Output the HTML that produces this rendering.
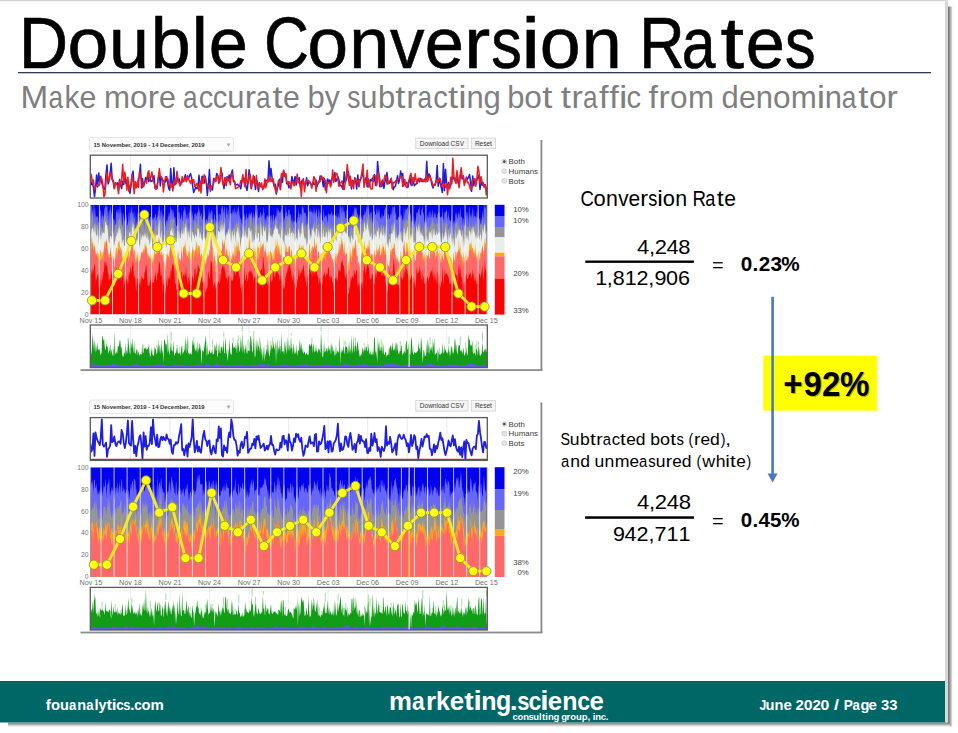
<!DOCTYPE html>
<html><head><meta charset="utf-8"><style>
html,body{margin:0;padding:0;background:#fff;}
body{width:958px;height:733px;overflow:hidden;position:relative;}
svg text{font-family:"Liberation Sans", sans-serif;}
</style></head><body>
<svg width="958" height="733" viewBox="0 0 958 733" style="position:absolute;left:0;top:0">
<defs>
<linearGradient id="shR" x1="0" x2="1" y1="0" y2="0"><stop offset="0" stop-color="#6e6e6e"/><stop offset="0.5" stop-color="#a8a8a8"/><stop offset="1" stop-color="#fff"/></linearGradient>
<linearGradient id="shB" x1="0" x2="0" y1="0" y2="1"><stop offset="0" stop-color="#777"/><stop offset="1" stop-color="#fff"/></linearGradient>
</defs>
<rect x="0" y="0" width="958" height="733" fill="#fff"/>
<rect x="0" y="0" width="946" height="1.2" fill="#d2d2d2"/>
<rect x="0" y="3.5" width="945" height="0.8" fill="#f6f6f6"/>
<rect x="945" y="0" width="3" height="724" fill="#d9d9d9"/>
<rect x="948" y="6.5" width="4.8" height="720" fill="url(#shR)"/>
<rect x="8" y="722.6" width="942" height="4.4" fill="url(#shB)"/>

<g font-size="71.50" fill="#000" stroke="#000" stroke-width="0.6"><text x="19.61" y="67.80" transform="scale(0.9563,1)">D</text><text x="65.73" y="67.80" transform="scale(1.0274,1)">o</text><text x="108.36" y="67.80" transform="scale(1.0052,1)">u</text><text x="150.09" y="67.80" transform="scale(1.0047,1)">b</text><text x="184.26" y="67.80" transform="scale(1.0394,1)">l</text><text x="211.95" y="67.80" transform="scale(0.9848,1)">e</text><text x="303.01" y="67.80" transform="scale(0.8709,1)">C</text><text x="299.11" y="67.80" transform="scale(1.0274,1)">o</text><text x="347.36" y="67.80" transform="scale(1.0052,1)">n</text><text x="404.43" y="67.80" transform="scale(0.9641,1)">v</text><text x="431.33" y="67.80" transform="scale(0.9848,1)">e</text><text x="421.80" y="67.80" transform="scale(1.1002,1)">r</text><text x="573.76" y="67.80" transform="scale(0.8563,1)">s</text><text x="439.81" y="67.80" transform="scale(1.1849,1)">i</text><text x="525.39" y="67.80" transform="scale(1.0274,1)">o</text><text x="578.63" y="67.80" transform="scale(1.0052,1)">n</text><text x="727.78" y="67.80" transform="scale(0.8784,1)">R</text><text x="802.75" y="67.80" transform="scale(0.8494,1)">a</text><text x="608.59" y="67.80" transform="scale(1.1840,1)">t</text><text x="757.27" y="67.80" transform="scale(0.9848,1)">e</text><text x="916.79" y="67.80" transform="scale(0.8563,1)">s</text></g>
<rect x="18" y="72" width="913" height="1.3" fill="#2c3e5e"/>
<g font-size="30.90" fill="#7f7f7f"><text x="19.13" y="107.60" transform="scale(1.0774,1)">M</text><text x="57.22" y="107.60" transform="scale(0.8465,1)">a</text><text x="67.31" y="107.60" transform="scale(0.9585,1)">k</text><text x="81.00" y="107.60" transform="scale(0.9815,1)">e</text><text x="102.73" y="107.60" transform="scale(1.0124,1)">m</text><text x="127.08" y="107.60" transform="scale(1.0239,1)">o</text><text x="134.70" y="107.60" transform="scale(1.0964,1)">r</text><text x="162.09" y="107.60" transform="scale(0.9815,1)">e</text><text x="216.20" y="107.60" transform="scale(0.8465,1)">a</text><text x="210.48" y="107.60" transform="scale(0.9447,1)">c</text><text x="225.34" y="107.60" transform="scale(0.9447,1)">c</text><text x="226.81" y="107.60" transform="scale(1.0018,1)">u</text><text x="223.15" y="107.60" transform="scale(1.0964,1)">r</text><text x="302.38" y="107.60" transform="scale(0.8465,1)">a</text><text x="230.88" y="107.60" transform="scale(1.1800,1)">t</text><text x="288.41" y="107.60" transform="scale(0.9815,1)">e</text><text x="307.15" y="107.60" transform="scale(1.0013,1)">b</text><text x="335.10" y="107.60" transform="scale(0.9688,1)">y</text><text x="406.86" y="107.60" transform="scale(0.8533,1)">s</text><text x="359.53" y="107.60" transform="scale(1.0018,1)">u</text><text x="377.42" y="107.60" transform="scale(1.0013,1)">b</text><text x="335.05" y="107.60" transform="scale(1.1800,1)">t</text><text x="370.44" y="107.60" transform="scale(1.0964,1)">r</text><text x="493.17" y="107.60" transform="scale(0.8465,1)">a</text><text x="458.66" y="107.60" transform="scale(0.9447,1)">c</text><text x="379.64" y="107.60" transform="scale(1.1800,1)">t</text><text x="374.38" y="107.60" transform="scale(1.2243,1)">i</text><text x="465.74" y="107.60" transform="scale(1.0018,1)">n</text><text x="480.54" y="107.60" transform="scale(1.0062,1)">g</text><text x="506.57" y="107.60" transform="scale(1.0013,1)">b</text><text x="512.06" y="107.60" transform="scale(1.0239,1)">o</text><text x="459.48" y="107.60" transform="scale(1.1800,1)">t</text><text x="475.26" y="107.60" transform="scale(1.1800,1)">t</text><text x="521.33" y="107.60" transform="scale(1.0964,1)">r</text><text x="688.60" y="107.60" transform="scale(0.8465,1)">a</text><text x="539.17" y="107.60" transform="scale(1.1112,1)">f</text><text x="548.29" y="107.60" transform="scale(1.1112,1)">f</text><text x="505.52" y="107.60" transform="scale(1.2243,1)">i</text><text x="663.28" y="107.60" transform="scale(0.9447,1)">c</text><text x="583.63" y="107.60" transform="scale(1.1112,1)">f</text><text x="600.67" y="107.60" transform="scale(1.0964,1)">r</text><text x="654.45" y="107.60" transform="scale(1.0239,1)">o</text><text x="679.56" y="107.60" transform="scale(1.0124,1)">m</text><text x="720.58" y="107.60" transform="scale(1.0013,1)">d</text><text x="752.89" y="107.60" transform="scale(0.9815,1)">e</text><text x="754.46" y="107.60" transform="scale(1.0018,1)">n</text><text x="754.93" y="107.60" transform="scale(1.0239,1)">o</text><text x="781.18" y="107.60" transform="scale(1.0124,1)">m</text><text x="667.03" y="107.60" transform="scale(1.2243,1)">i</text><text x="823.39" y="107.60" transform="scale(1.0018,1)">n</text><text x="994.47" y="107.60" transform="scale(0.8465,1)">a</text><text x="727.39" y="107.60" transform="scale(1.1800,1)">t</text><text x="848.75" y="107.60" transform="scale(1.0239,1)">o</text><text x="808.63" y="107.60" transform="scale(1.0964,1)">r</text></g>
<rect x="80" y="136" width="461" height="233" fill="#fff"/>
<rect x="540.5" y="140" width="1.8" height="230" fill="#8a8a8a"/>
<rect x="80.5" y="369.2" width="462" height="1.8" fill="#8c8c8c"/>
<rect x="89.5" y="137.6" width="144" height="13.6" fill="#fcfcfc" stroke="#e0e0e0" stroke-width="0.8" rx="1.5"/>
<text x="93.6" y="146.6" font-size="6.1" font-weight="bold" fill="#333" textLength="111" lengthAdjust="spacingAndGlyphs">15 November, 2019 - 14 December, 2019</text>
<text x="225.5" y="146.6" font-size="6" fill="#aaa">&#9660;</text>
<rect x="415.8" y="138.1" width="52.2" height="10.6" fill="#f6f6f6" stroke="#d0d0d0" stroke-width="0.8"/>
<text x="419.8" y="145.8" font-size="6.4" fill="#333" textLength="44.2" lengthAdjust="spacingAndGlyphs">Download CSV</text>
<rect x="471.3" y="138.1" width="24.2" height="10.6" fill="#f6f6f6" stroke="#d0d0d0" stroke-width="0.8"/>
<text x="474.9" y="145.8" font-size="6.4" fill="#333" textLength="16.9" lengthAdjust="spacingAndGlyphs">Reset</text>
<circle cx="504.3" cy="161.6" r="2.5" fill="#e4e4e4" stroke="#c4c4c4" stroke-width="0.6"/>
<circle cx="504.3" cy="161.6" r="1.3" fill="#444"/>
<text x="508.6" y="164.4" font-size="7.9" fill="#3a3a3a">Both</text>
<circle cx="504.3" cy="171.2" r="2.5" fill="#e4e4e4" stroke="#c4c4c4" stroke-width="0.6"/>
<text x="508.6" y="174" font-size="7.9" fill="#3a3a3a">Humans</text>
<circle cx="504.3" cy="180.8" r="2.5" fill="#e4e4e4" stroke="#c4c4c4" stroke-width="0.6"/>
<text x="508.6" y="183.6" font-size="7.9" fill="#3a3a3a">Bots</text>
<rect x="90.3" y="155.2" width="397" height="42.8" fill="#fff"/>
<line x1="130.4" y1="155.2" x2="130.4" y2="198" stroke="#e4e4e4" stroke-width="0.8"/>
<line x1="170" y1="155.2" x2="170" y2="198" stroke="#e4e4e4" stroke-width="0.8"/>
<line x1="209.5" y1="155.2" x2="209.5" y2="198" stroke="#e4e4e4" stroke-width="0.8"/>
<line x1="249.1" y1="155.2" x2="249.1" y2="198" stroke="#e4e4e4" stroke-width="0.8"/>
<line x1="288.6" y1="155.2" x2="288.6" y2="198" stroke="#e4e4e4" stroke-width="0.8"/>
<line x1="328.1" y1="155.2" x2="328.1" y2="198" stroke="#e4e4e4" stroke-width="0.8"/>
<line x1="367.7" y1="155.2" x2="367.7" y2="198" stroke="#e4e4e4" stroke-width="0.8"/>
<line x1="407.2" y1="155.2" x2="407.2" y2="198" stroke="#e4e4e4" stroke-width="0.8"/>
<line x1="446.8" y1="155.2" x2="446.8" y2="198" stroke="#e4e4e4" stroke-width="0.8"/>
<svg x="90.3" y="155.2" width="397" height="42.8" overflow="hidden">
<polyline fill="none" stroke="#1f1fe0" stroke-width="1.5" stroke-linejoin="round" points="0,23.8 1,29.3 2.1,27.5 3.1,32.3 4.2,41.5 5.2,33.5 6.3,19.8 7.3,31.7 8.4,17.7 9.4,26.7 10.4,21.1 11.5,27.7 12.5,30.5 13.6,34.5 14.6,33.6 15.7,18.7 16.7,9.7 17.8,28.7 18.8,25.7 19.9,17.9 20.9,8 21.9,24.6 23,27 24,33 25.1,27.6 26.1,28.9 27.2,27.7 28.2,35.5 29.3,24.2 30.3,29.8 31.3,33.4 32.4,26.1 33.4,29.2 34.5,19.6 35.5,28.3 36.6,24.7 37.6,25.8 38.7,35.6 39.7,38 40.7,30.4 41.8,19.4 42.8,15.9 43.9,34.2 44.9,31.6 46,30.7 47,31.1 48.1,23.6 49.1,21 50.1,9.1 51.2,32.7 52.2,23.4 53.3,31.3 54.3,27.5 55.4,22.2 56.4,24.4 57.5,20.2 58.5,26.4 59.5,22.7 60.6,26.4 61.6,26.4 62.7,23.4 63.7,20.6 64.8,33.4 65.8,32 66.9,29.7 67.9,23.6 69,18.5 70,30.8 71,21.6 72.1,24.4 73.1,25.7 74.2,26 75.2,26.8 76.3,21.3 77.3,26.6 78.4,33.5 79.4,35 80.4,13.4 81.5,29.1 82.5,32.8 83.6,12.5 84.6,29.8 85.7,27.7 86.7,17.8 87.8,27 88.8,23.7 89.8,26.9 90.9,28.1 91.9,26.7 93,26.3 94,23.1 95.1,19.6 96.1,26.3 97.2,21.1 98.2,24.1 99.2,20.2 100.3,18.4 101.3,22.6 102.4,31.1 103.4,37.4 104.5,34.4 105.5,32.1 106.6,33.5 107.6,32.8 108.7,20.1 109.7,29.2 110.7,29 111.8,21 112.8,21.6 113.9,27.9 114.9,21 116,27.2 117,40.3 118.1,29.7 119.1,14.3 120.1,33.4 121.2,34.4 122.2,34.7 123.3,23.2 124.3,23.7 125.4,25.8 126.4,18.2 127.5,19.9 128.5,27.7 129.5,26.1 130.6,15.6 131.6,18 132.7,26.4 133.7,33.5 134.8,22.4 135.8,29.8 136.9,21.3 137.9,25.7 138.9,19.7 140,23.8 141,18.7 142.1,14.7 143.1,26.3 144.2,26.6 145.2,30.1 146.3,29.5 147.3,29 148.4,30.8 149.4,30.5 150.4,33.6 151.5,27.3 152.5,23.4 153.6,23 154.6,23.8 155.7,31.5 156.7,35.2 157.8,27.4 158.8,14.5 159.8,23.7 160.9,32.7 161.9,25 163,27.8 164,21.6 165.1,34.3 166.1,24.7 167.2,26.8 168.2,36.2 169.2,27.5 170.3,31 171.3,31.9 172.4,31.8 173.4,32.3 174.5,28.9 175.5,24.9 176.6,25.6 177.6,26.8 178.7,5.6 179.7,21.6 180.7,13.3 181.8,23 182.8,26.9 183.9,31.4 184.9,29.1 186,38.9 187,33 188.1,30.2 189.1,24 190.1,33.5 191.2,20.6 192.2,27 193.3,15.1 194.3,20.4 195.4,19.2 196.4,28.5 197.5,27.4 198.5,32.5 199.5,31.1 200.6,29.8 201.6,21.3 202.7,25.9 203.7,28.3 204.8,21.2 205.8,29.8 206.9,23.8 207.9,24.2 208.9,22.4 210,32.4 211,26.8 212.1,24.9 213.1,25.8 214.2,30.2 215.2,29.3 216.3,22.6 217.3,30.6 218.3,27.3 219.4,26.5 220.4,29 221.5,30.3 222.5,27 223.6,29.1 224.6,29.3 225.7,24.8 226.7,31.2 227.8,27.9 228.8,27.2 229.8,20.8 230.9,23.7 231.9,23.4 233,31.5 234,23.3 235.1,34.9 236.1,32.1 237.2,23.7 238.2,26.2 239.2,24.9 240.3,28.8 241.3,23.7 242.4,22.2 243.4,22.8 244.5,17.4 245.5,26.2 246.6,24.3 247.6,21.6 248.6,24.5 249.7,30.1 250.7,30.2 251.8,32.3 252.8,34.1 253.9,16.8 254.9,27.4 256,24.6 257,20.2 258.1,16.5 259.1,24.3 260.1,23.2 261.2,33.7 262.2,25.1 263.3,28.8 264.3,25.3 265.4,25.7 266.4,33.8 267.5,19.7 268.5,31.6 269.5,26.2 270.6,23.4 271.6,21 272.7,13.8 273.7,27.6 274.8,26.1 275.8,22.2 276.9,31.6 277.9,23.6 278.9,31.4 280,24.5 281,25.6 282.1,22.9 283.1,26.4 284.2,19.2 285.2,30.3 286.3,28.1 287.3,6.2 288.3,17.8 289.4,31.4 290.4,29.9 291.5,31.3 292.5,24.7 293.6,33.1 294.6,26.9 295.7,22.2 296.7,17.4 297.8,27.9 298.8,28.1 299.8,27.2 300.9,24.5 301.9,28.6 303,34.5 304,31.9 305.1,30.8 306.1,26.4 307.2,20.5 308.2,28.4 309.2,24.9 310.3,15.9 311.3,20.3 312.4,18.3 313.4,30.8 314.5,27.7 315.5,27.2 316.6,27.3 317.6,32.2 318.6,27.5 319.7,22.8 320.7,29.8 321.8,30 322.8,22.3 323.9,30.5 324.9,29.5 326,28.6 327,26.4 328,23.5 329.1,26.5 330.1,23.3 331.2,25.8 332.2,26.2 333.3,25.2 334.3,23.9 335.4,26.6 336.4,6.1 337.4,23.9 338.5,18.7 339.5,20.1 340.6,24.1 341.6,29.5 342.7,32.9 343.7,29.3 344.8,29.9 345.8,25.6 346.9,10.2 347.9,31 348.9,24.2 350,28.1 351,32.6 352.1,37.4 353.1,8.3 354.2,35.4 355.2,14 356.3,28.2 357.3,32.8 358.3,27.2 359.4,32.1 360.4,30 361.5,25.8 362.5,21.6 363.6,23.6 364.6,24.9 365.7,23.2 366.7,18.8 367.7,27.6 368.8,31.2 369.8,20.5 370.9,19.5 371.9,23.8 373,20.7 374,27.7 375.1,26.8 376.1,21.8 377.1,24.2 378.2,22.1 379.2,19.2 380.3,26.6 381.3,36.1 382.4,20.8 383.4,30.6 384.5,24.7 385.5,25.4 386.6,24.8 387.6,22.2 388.6,19.8 389.7,34.2 390.7,23.1 391.8,30.2 392.8,27.4 393.9,31.4 394.9,29.3 396,33.4 397,33.9"/>
<polyline fill="none" stroke="#ee1c1c" stroke-width="1.5" stroke-linejoin="round" points="0,23.1 1,19.2 2.1,27.7 3.1,24.8 4.2,34.4 5.2,31.2 6.3,30.4 7.3,29.7 8.4,30.5 9.4,29.3 10.4,21.9 11.5,23.7 12.5,28.8 13.6,41.4 14.6,39.9 15.7,27.1 16.7,17.3 17.8,25.8 18.8,25.1 19.9,16.7 20.9,20 21.9,24.5 23,24.9 24,33.5 25.1,27.6 26.1,29 27.2,30.4 28.2,38.5 29.3,26 30.3,31.3 31.3,23.8 32.4,9.1 33.4,27.9 34.5,16.8 35.5,23 36.6,35 37.6,22.1 38.7,35.8 39.7,30.1 40.7,30.8 41.8,19.5 42.8,26.3 43.9,38.4 44.9,26.4 46,32.6 47,26.9 48.1,32.3 49.1,16.7 50.1,19.5 51.2,24.3 52.2,32.4 53.3,28.9 54.3,27.1 55.4,25.7 56.4,27.9 57.5,17.6 58.5,15.5 59.5,24.6 60.6,21.5 61.6,16.7 62.7,24.8 63.7,27.5 64.8,31.2 65.8,34.1 66.9,33.3 67.9,23.5 69,13.4 70,21.2 71,22.3 72.1,23.5 73.1,36.8 74.2,27.1 75.2,21.6 76.3,23.4 77.3,23.3 78.4,27 79.4,30.2 80.4,32.2 81.5,28.3 82.5,35.7 83.6,28.9 84.6,24.2 85.7,28.8 86.7,16.1 87.8,26.1 88.8,27.5 89.8,30.7 90.9,28.4 91.9,21.4 93,26.2 94,25.7 95.1,22.1 96.1,26.3 97.2,20.6 98.2,24.3 99.2,25.3 100.3,28.4 101.3,24.4 102.4,26.7 103.4,24.4 104.5,31.5 105.5,30.3 106.6,28 107.6,31.6 108.7,35.8 109.7,26.3 110.7,37.7 111.8,23.3 112.8,28.1 113.9,19.5 114.9,22.9 116,28 117,29.4 118.1,31.1 119.1,30.4 120.1,36.2 121.2,31 122.2,30.1 123.3,28.5 124.3,23.3 125.4,26.4 126.4,21.4 127.5,20.3 128.5,28.3 129.5,25.5 130.6,12.4 131.6,21.3 132.7,29.6 133.7,28.3 134.8,22.5 135.8,30.4 136.9,21.7 137.9,24.7 138.9,24.4 140,29.6 141,18.7 142.1,19 143.1,24.7 144.2,25.7 145.2,33.4 146.3,33 147.3,32.4 148.4,31.3 149.4,30.4 150.4,25.5 151.5,25.9 152.5,19.3 153.6,27 154.6,31.6 155.7,14.2 156.7,28 157.8,27.5 158.8,20.9 159.8,19.1 160.9,33.7 161.9,28.4 163,20 164,27.7 165.1,29.5 166.1,20.3 167.2,33.9 168.2,31.2 169.2,28.6 170.3,31.3 171.3,27.7 172.4,34.4 173.4,32.7 174.5,23.8 175.5,32.5 176.6,27.2 177.6,24.6 178.7,26.5 179.7,21.6 180.7,26.3 181.8,24.5 182.8,23.6 183.9,29.2 184.9,34.2 186,37.6 187,31.4 188.1,25.6 189.1,26 190.1,34.6 191.2,18.2 192.2,21.5 193.3,15.4 194.3,21.3 195.4,18.2 196.4,25.9 197.5,29.1 198.5,26.2 199.5,28.2 200.6,33.7 201.6,27.8 202.7,26.4 203.7,30.6 204.8,28.7 205.8,26.3 206.9,18.9 207.9,27.8 208.9,26.7 210,26.4 211,41.3 212.1,25.4 213.1,23.3 214.2,36.6 215.2,28.1 216.3,26.1 217.3,26 218.3,25.1 219.4,27.3 220.4,28.5 221.5,32.9 222.5,27.8 223.6,21.5 224.6,23.4 225.7,36.1 226.7,27.1 227.8,27.9 228.8,25.6 229.8,26.4 230.9,20.6 231.9,22.5 233,22.3 234,25.2 235.1,25.1 236.1,37.6 237.2,26.7 238.2,28.1 239.2,27.6 240.3,31.8 241.3,27.4 242.4,14.9 243.4,27 244.5,24.1 245.5,18.7 246.6,18.2 247.6,24.8 248.6,31.3 249.7,27.8 250.7,27.6 251.8,25.7 252.8,32.7 253.9,34.4 254.9,27.2 256,20.4 257,9.4 258.1,23.1 259.1,30.2 260.1,21 261.2,31.1 262.2,26.2 263.3,33.4 264.3,22.5 265.4,23.3 266.4,27.4 267.5,25.2 268.5,31.1 269.5,24.4 270.6,23 271.6,16.8 272.7,8.9 273.7,32.1 274.8,25.6 275.8,27.2 276.9,15 277.9,31.9 278.9,25.4 280,32.2 281,34 282.1,33.3 283.1,20.5 284.2,20.2 285.2,21.1 286.3,30.5 287.3,24.4 288.3,17.1 289.4,23.2 290.4,31.5 291.5,25.9 292.5,27.7 293.6,25.9 294.6,20 295.7,20.4 296.7,28.9 297.8,28.7 298.8,26.2 299.8,25.4 300.9,23 301.9,33.3 303,27.3 304,27.6 305.1,26.2 306.1,24.7 307.2,24.8 308.2,23.4 309.2,23.6 310.3,21 311.3,20.8 312.4,31.4 313.4,28.1 314.5,24.3 315.5,31.1 316.6,32.3 317.6,29 318.6,25.6 319.7,20.9 320.7,18 321.8,30.4 322.8,22.8 323.9,26.2 324.9,18.6 326,25.8 327,28.4 328,23.2 329.1,23 330.1,26.3 331.2,23.7 332.2,24.2 333.3,26.5 334.3,25.1 335.4,26.4 336.4,18.7 337.4,26.2 338.5,22.7 339.5,20.9 340.6,24 341.6,26.3 342.7,31.1 343.7,29.7 344.8,28.9 345.8,26.7 346.9,24.4 347.9,27.1 348.9,22.9 350,23.9 351,28.6 352.1,31.8 353.1,28.3 354.2,29.4 355.2,32.2 356.3,28.3 357.3,39.6 358.3,28.9 359.4,33.8 360.4,22.1 361.5,28.4 362.5,3 363.6,20.8 364.6,26 365.7,28.3 366.7,15.3 367.7,23.3 368.8,32.5 369.8,19.8 370.9,12.5 371.9,22.2 373,21.1 374,30.3 375.1,25.3 376.1,22.8 377.1,27.6 378.2,27 379.2,30.9 380.3,34.7 381.3,33.5 382.4,24.7 383.4,23.9 384.5,23.4 385.5,31 386.6,23.4 387.6,11.1 388.6,15.9 389.7,28.6 390.7,21.4 391.8,27 392.8,29.1 393.9,32 394.9,29.5 396,39.7 397,34"/>
</svg>
<rect x="90.3" y="155.2" width="397" height="42.8" fill="none" stroke="#5a5a5a" stroke-width="1.3"/>
<svg x="90.4" y="204.9" width="396.8" height="109.4" overflow="hidden">
<rect x="0" y="0" width="396.8" height="109.4" fill="#0202ee"/>
<polygon fill="#6666f8" points="0,12.3 0.5,22.4 1,0 1.5,1.8 2,9.6 2.5,0 3,0 3.5,14.3 4,4.4 4.5,0 5,8 5.5,12.9 6,10.7 6.5,13.4 7,10.5 7.5,12.1 8,16.8 8.5,18.6 9,9.2 9.5,7 10,5.8 10.5,3.7 11,15.7 11.5,10.3 12,11.9 12.5,5.9 13,17.2 13.5,10 14,4.1 14.5,2.9 15,0 15.5,0 16,1.6 16.5,2 17,0.8 17.5,11.2 18,5.4 18.5,16.4 19,5.1 19.5,5.3 20,3.3 20.5,0 21,10.1 21.5,6.9 22,4.6 22.5,13.6 23,13.4 23.5,16.2 24,14 24.5,21.4 25,19.7 25.5,10.4 26,4.1 26.5,7 27,8.3 27.5,3.9 28,4.3 28.5,10.9 29,6.6 29.5,0 30,2.1 30.5,9 31,5.8 31.5,19.3 32,20.7 32.5,7.2 33,9.4 33.5,12 34,14.3 34.5,17.4 35,16.1 35.5,12.5 36,9.3 36.5,14.6 37,19.7 37.5,20.4 38,11.1 38.5,6 39,17 39.5,1.1 40,7.8 40.5,8.1 41,4.3 41.5,0 42,7.1 42.5,9.6 43,6.2 43.5,13.8 44,12.7 44.5,5.5 45,12 45.5,23.4 46,20.2 46.5,8.9 47,6.8 47.5,19 48,8.5 48.5,12.2 49,12.2 49.5,12.6 50,10.8 50.5,10 51,6.7 51.5,6.5 52,9.2 52.5,12.7 53,3.5 53.5,9 54,9.7 54.5,6.1 55,10.3 55.5,11.3 56,5.6 56.5,9.5 57,8.7 57.5,10.5 58,13.8 58.5,11 59,17.6 59.5,12.8 60,12 60.5,10.3 61,18.2 61.5,13.7 62,15.1 62.5,11.7 63,15.9 63.5,12.3 64,13.2 64.5,10.7 65,9.2 65.5,8.6 66,16.1 66.5,12 67,12.3 67.5,7.4 68,5.5 68.5,0 69,0 69.5,3.5 70,7.3 70.5,13 71,7.2 71.5,3.6 72,15.1 72.5,8.2 73,10.8 73.5,12.6 74,17 74.5,15.6 75,22.6 75.5,19.2 76,14.3 76.5,15.8 77,16.7 77.5,10.9 78,12.3 78.5,6.5 79,8.6 79.5,11.5 80,0 80.5,3.7 81,4.1 81.5,6.3 82,3.8 82.5,10.8 83,4.3 83.5,8.6 84,14.1 84.5,11.3 85,13.2 85.5,19.3 86,21.2 86.5,21.7 87,19 87.5,8.7 88,6.2 88.5,15.3 89,7.1 89.5,7.3 90,14.4 90.5,14 91,10.7 91.5,7.6 92,17.6 92.5,10.5 93,4.4 93.5,7.1 94,3.9 94.5,1.3 95,5.3 95.5,8.6 96,14.2 96.5,8.3 97,9.7 97.5,14.5 98,13 98.5,7 99,8.1 99.5,2.8 100,13.1 100.5,3.7 101,7.2 101.5,13.5 102,6.4 102.5,10.8 103,15.7 103.5,15.2 104,9.3 104.5,9.1 105,7.5 105.5,9.9 106,11.5 106.5,7.9 107,8.4 107.5,6.4 108,3.6 108.5,0 109,9.3 109.5,4.9 110,11.8 110.5,10.9 111,7.4 111.5,10.1 112,15.3 112.5,14.3 113,11.2 113.5,12.3 114,7.2 114.5,3.7 115,18.5 115.5,15.6 116,14.1 116.5,14.8 117,17.2 117.5,11.3 118,11.4 118.5,3.6 119,6.6 119.5,10.2 120,5.8 120.5,10 121,4.3 121.5,5.6 122,6.8 122.5,20.2 123,15.4 123.5,13.8 124,8.7 124.5,10.5 125,18.1 125.5,13.2 126,20.6 126.5,15 127,9.3 127.5,4.7 128,11.4 128.5,20.3 129,9.4 129.5,9.3 130,8.5 130.5,11.3 131,0 131.5,5.1 132,0 132.5,3 133,9 133.5,3.3 134,0.7 134.5,7.2 135,15.9 135.5,4 136,1.4 136.5,8.7 137,10.6 137.5,3.1 138,5.5 138.5,13.2 139,18.1 139.5,9.3 140,8.2 140.5,8.8 141,7.6 141.5,10.5 142,7.6 142.5,4 143,8.9 143.5,4.7 144,1.8 144.5,10.5 145,5.8 145.5,8.1 146,10.4 146.5,0.3 147,7 147.5,6.5 148,0 148.5,3.9 149,8.5 149.5,11.7 150,15.2 150.5,12.1 151,16.4 151.5,19 152,20.2 152.5,11.9 153,11.4 153.5,4.6 154,12.2 154.5,8.5 155,15.1 155.5,15.6 156,7 156.5,11.1 157,13.1 157.5,13.8 158,11.8 158.5,8 159,11.1 159.5,5.9 160,9.8 160.5,8.8 161,6.4 161.5,8.6 162,18.1 162.5,8.3 163,7.7 163.5,13.9 164,11.6 164.5,9.2 165,6 165.5,3.8 166,10.5 166.5,9.3 167,0.1 167.5,11.2 168,13.2 168.5,13.1 169,12.7 169.5,9.5 170,6.7 170.5,8 171,12.9 171.5,9 172,11.1 172.5,7.4 173,1.4 173.5,6.8 174,9 174.5,15.2 175,12.3 175.5,17.9 176,12.6 176.5,10.4 177,10.1 177.5,12.1 178,12.9 178.5,10.5 179,11 179.5,10.6 180,11 180.5,16.8 181,11.4 181.5,9.3 182,18 182.5,10.3 183,10.3 183.5,8.8 184,16 184.5,14.3 185,12.2 185.5,10.2 186,11.8 186.5,2.4 187,9.3 187.5,1.3 188,6.9 188.5,5.3 189,8.8 189.5,5.8 190,8.4 190.5,5.2 191,2.7 191.5,5.8 192,13.4 192.5,5 193,12 193.5,17.6 194,13.3 194.5,13.2 195,6.5 195.5,0 196,8.6 196.5,6.2 197,10.4 197.5,12.8 198,4.9 198.5,5.1 199,4.1 199.5,10.3 200,10.4 200.5,8.2 201,17.7 201.5,13.6 202,19.8 202.5,7.7 203,18.1 203.5,16.3 204,16.7 204.5,15 205,19.9 205.5,14.3 206,18.7 206.5,18.1 207,12.4 207.5,12.9 208,3.9 208.5,7.8 209,13.6 209.5,7 210,10.1 210.5,8.5 211,11.8 211.5,2.1 212,0.1 212.5,4.5 213,1.7 213.5,7.8 214,7.8 214.5,7.8 215,7.3 215.5,9.9 216,11.9 216.5,20.8 217,17 217.5,9.1 218,12.7 218.5,8.7 219,4.7 219.5,6.9 220,7.7 220.5,1.9 221,7.7 221.5,6.1 222,9.7 222.5,5.6 223,9.1 223.5,1.2 224,5.2 224.5,9.2 225,5.9 225.5,10.7 226,2.8 226.5,4.8 227,13.1 227.5,12 228,5.8 228.5,3 229,7.4 229.5,13.7 230,6.9 230.5,9 231,10.1 231.5,14.4 232,15.5 232.5,15 233,2.6 233.5,7.1 234,12.3 234.5,12.6 235,10.9 235.5,10.5 236,9.9 236.5,13.7 237,18.4 237.5,9 238,7.8 238.5,10.5 239,8.7 239.5,11.6 240,9.1 240.5,9.6 241,7.8 241.5,5.5 242,10.3 242.5,11.2 243,9.1 243.5,12.1 244,8.4 244.5,8.3 245,11.1 245.5,10.5 246,12.5 246.5,7.7 247,12.2 247.5,14.6 248,6.8 248.5,12.2 249,12.9 249.5,0 250,0.1 250.5,5.5 251,0 251.5,9.4 252,3.6 252.5,0 253,4.7 253.5,7.5 254,5.7 254.5,9.9 255,13.6 255.5,13.3 256,5.6 256.5,4.8 257,9.5 257.5,23.3 258,15.9 258.5,18.8 259,19.7 259.5,15.9 260,12 260.5,17 261,10.5 261.5,12.5 262,6.9 262.5,13.5 263,12.8 263.5,5.1 264,1.2 264.5,6.1 265,3 265.5,2.7 266,2.6 266.5,6.9 267,9.9 267.5,9.1 268,12.6 268.5,14.3 269,8.1 269.5,14.2 270,19.8 270.5,13.2 271,10.5 271.5,14 272,15.7 272.5,9.9 273,10.1 273.5,11.1 274,8.9 274.5,4 275,7.2 275.5,9.2 276,2.6 276.5,0 277,0 277.5,4.5 278,0.7 278.5,0 279,8.5 279.5,16.5 280,8 280.5,7.2 281,6.3 281.5,10.8 282,15.9 282.5,18 283,13.5 283.5,8.2 284,5.1 284.5,7.9 285,10.2 285.5,9.9 286,1.1 286.5,9.1 287,3.8 287.5,10 288,6.6 288.5,2.2 289,6.2 289.5,11.6 290,12 290.5,14.5 291,7.7 291.5,14.7 292,12.1 292.5,9.2 293,11.7 293.5,10.8 294,5.8 294.5,4.1 295,2.2 295.5,2.4 296,10.8 296.5,14.5 297,14.8 297.5,8.2 298,9.7 298.5,10.6 299,14.2 299.5,13.8 300,9.8 300.5,8 301,10.7 301.5,3.5 302,0 302.5,8 303,3.2 303.5,1.6 304,1.8 304.5,0 305,10.1 305.5,6.3 306,15.1 306.5,14.9 307,15.3 307.5,13.3 308,11.4 308.5,12.2 309,12.7 309.5,14.5 310,11.2 310.5,8.3 311,11.5 311.5,10.3 312,16.6 312.5,14.2 313,14.5 313.5,1.8 314,7.4 314.5,12.2 315,1.9 315.5,5.5 316,4.3 316.5,4.9 317,2.1 317.5,3.4 318,8.2 318.5,12.6 319,4.1 319.5,6 320,11.5 320.5,6.7 321,16.1 321.5,17.2 322,14.4 322.5,18.4 323,10.7 323.5,18.3 324,20.1 324.5,11.5 325,18.1 325.5,15 326,7.8 326.5,7 327,8.8 327.5,6.8 328,4.7 328.5,4 329,0 329.5,9.6 330,10.6 330.5,10.6 331,4.9 331.5,5.2 332,0 332.5,6.4 333,8.2 333.5,10.3 334,16.4 334.5,21.2 335,12.6 335.5,14.7 336,18.8 336.5,11.9 337,9.6 337.5,13.9 338,12.7 338.5,7 339,6 339.5,13.4 340,3.5 340.5,13.5 341,6.9 341.5,13.1 342,5 342.5,6.1 343,12.2 343.5,13.2 344,5.9 344.5,9.9 345,7 345.5,12.9 346,11.7 346.5,14.7 347,9.4 347.5,9.1 348,7 348.5,6.7 349,8.4 349.5,11.9 350,12.2 350.5,13.4 351,10.8 351.5,12.4 352,2.4 352.5,8.9 353,14.7 353.5,19.1 354,6.5 354.5,8.4 355,7.2 355.5,6.3 356,6.1 356.5,3 357,12 357.5,14.4 358,5.7 358.5,11.4 359,13.7 359.5,16.3 360,16.2 360.5,15.5 361,14.4 361.5,9.2 362,28.6 362.5,18.2 363,14.9 363.5,20 364,14.6 364.5,18.8 365,6.8 365.5,10.3 366,6.9 366.5,12.9 367,13.6 367.5,8 368,10.3 368.5,5.8 369,13.8 369.5,6.8 370,1.4 370.5,11.7 371,13.1 371.5,10.7 372,13.8 372.5,20.5 373,12.9 373.5,14 374,20.1 374.5,20.7 375,9.8 375.5,15.3 376,8.8 376.5,6.4 377,7.9 377.5,12.5 378,23.5 378.5,2.8 379,2.2 379.5,9.2 380,12.7 380.5,7.3 381,14.2 381.5,7.4 382,1.5 382.5,10.1 383,14.6 383.5,3.4 384,11.6 384.5,10.8 385,11.6 385.5,13.3 386,10.4 386.5,4.9 387,11.3 387.5,14.2 388,1.3 388.5,14.6 389,12.9 389.5,15.7 390,20 390.5,11.3 391,21 391.5,12.9 392,4.9 392.5,11 393,12.5 393.5,0 394,0 394.5,3.7 395,3.8 395.5,0.1 396,1.6 396,109.4 0,109.4"/>
<polygon fill="#959598" points="0,12.4 0.5,22.4 1,15.7 1.5,7.9 2,10.5 2.5,4.8 3,21.3 3.5,21 4,22 4.5,13.1 5,19.6 5.5,17.7 6,20.1 6.5,21.2 7,19.8 7.5,19.4 8,24.6 8.5,40.4 9,27.9 9.5,20.8 10,20.7 10.5,16.8 11,24.3 11.5,20.9 12,26.4 12.5,22.3 13,17.2 13.5,11.3 14,8.4 14.5,10.3 15,10.6 15.5,16.7 16,10.3 16.5,15.8 17,14.4 17.5,22 18,19.3 18.5,25.7 19,17.6 19.5,19.3 20,12.7 20.5,16.9 21,22.1 21.5,26.8 22,15.3 22.5,22.5 23,29.7 23.5,23.9 24,26.1 24.5,25.4 25,19.7 25.5,19.8 26,20 26.5,16.8 27,27.9 27.5,14.1 28,15.9 28.5,14.6 29,12 29.5,15.4 30,16.5 30.5,10.2 31,16.8 31.5,21.2 32,23.5 32.5,19.4 33,17.2 33.5,26.5 34,32.9 34.5,30.7 35,30.7 35.5,27.5 36,26.9 36.5,20.8 37,21 37.5,26.2 38,25.1 38.5,15.1 39,20.2 39.5,24.2 40,17.2 40.5,14.5 41,18.8 41.5,11.9 42,14.4 42.5,16.7 43,16.4 43.5,19.9 44,18 44.5,21.6 45,24.3 45.5,23.4 46,20.2 46.5,17.9 47,15.3 47.5,27.1 48,15.7 48.5,22.8 49,25 49.5,30.4 50,23.5 50.5,17.8 51,14.8 51.5,17.9 52,17.7 52.5,18.1 53,13.3 53.5,24.5 54,24.9 54.5,19.6 55,10.3 55.5,11.3 56,13.8 56.5,22.9 57,20.7 57.5,26.9 58,19.9 58.5,23.8 59,21.4 59.5,27 60,19.4 60.5,23.2 61,22.3 61.5,23.5 62,31.1 62.5,33.1 63,25.9 63.5,25.2 64,26.1 64.5,17.6 65,16.9 65.5,15.4 66,24.7 66.5,20.7 67,21.3 67.5,15.3 68,9.8 68.5,10.4 69,11.6 69.5,24.8 70,13.3 70.5,16.2 71,16.2 71.5,17.9 72,23.8 72.5,30.5 73,30.1 73.5,29.7 74,28.8 74.5,31.3 75,31.1 75.5,27.7 76,24.7 76.5,26.7 77,16.7 77.5,25.6 78,23.6 78.5,15.7 79,22.5 79.5,15.6 80,14.3 80.5,16.5 81,9.8 81.5,20.4 82,12.1 82.5,14.9 83,15.2 83.5,13 84,24.1 84.5,22.9 85,29.9 85.5,25.4 86,32.3 86.5,25.7 87,27.2 87.5,25.1 88,17 88.5,23.1 89,15.6 89.5,30.5 90,28.8 90.5,27.1 91,17.1 91.5,24.9 92,21.3 92.5,15.7 93,15.4 93.5,17 94,19.2 94.5,18.3 95,15.3 95.5,14.5 96,14.5 96.5,18.2 97,22.6 97.5,23.2 98,24 98.5,30 99,25.8 99.5,20.7 100,19.1 100.5,23.9 101,28.2 101.5,25.4 102,23.2 102.5,14.9 103,27.1 103.5,27.2 104,17.5 104.5,14.8 105,19.3 105.5,14.9 106,17.4 106.5,21.7 107,18.7 107.5,12.4 108,9.7 108.5,13 109,23.6 109.5,19.2 110,22.4 110.5,27.6 111,20.5 111.5,21 112,31.9 112.5,26.3 113,16.1 113.5,27 114,15.6 114.5,32.2 115,33.8 115.5,26.1 116,29.4 116.5,26.4 117,26.1 117.5,25.1 118,15.6 118.5,11.3 119,22.7 119.5,20.1 120,22.1 120.5,13.1 121,11.5 121.5,13.9 122,14 122.5,20.2 123,24.3 123.5,19.1 124,20.1 124.5,30.9 125,29.5 125.5,30.3 126,24.6 126.5,21.2 127,19.3 127.5,14.2 128,21.7 128.5,26.3 129,17.4 129.5,15.6 130,15 130.5,24.6 131,13 131.5,16.6 132,9.5 132.5,18.8 133,17.9 133.5,16.4 134,12.7 134.5,10.9 135,25.8 135.5,30.4 136,27 136.5,27 137,28.1 137.5,23.5 138,23.4 138.5,18.7 139,24.6 139.5,26.2 140,23.6 140.5,24.6 141,26.8 141.5,19 142,24.5 142.5,25.7 143,22.5 143.5,23.8 144,22.5 144.5,15.5 145,21.4 145.5,20.4 146,17 146.5,16.3 147,19.5 147.5,18.2 148,12.2 148.5,18.3 149,17.2 149.5,23.5 150,25.5 150.5,26.6 151,31.1 151.5,32.2 152,23.3 152.5,21.9 153,23.8 153.5,18 154,23.4 154.5,24.5 155,21.5 155.5,21.2 156,16.9 156.5,11.4 157,25.2 157.5,24.3 158,19.7 158.5,14.6 159,23.1 159.5,9.3 160,13.7 160.5,10.2 161,11 161.5,23.8 162,24.3 162.5,12.8 163,12.4 163.5,22.5 164,20.4 164.5,16.7 165,13.4 165.5,23.1 166,20.6 166.5,18.7 167,18.9 167.5,22.6 168,17.6 168.5,21.1 169,20.9 169.5,15.1 170,12.4 170.5,12.7 171,19.6 171.5,21.5 172,21.3 172.5,16.9 173,11.4 173.5,21.5 174,19.8 174.5,24.4 175,18.3 175.5,24 176,18.9 176.5,18.3 177,21.5 177.5,24.9 178,18.4 178.5,24.4 179,19.3 179.5,26.1 180,22.7 180.5,22.8 181,22.1 181.5,27.8 182,29.3 182.5,19.8 183,26.5 183.5,15.8 184,22.3 184.5,18.3 185,12.2 185.5,13.6 186,15.6 186.5,12.4 187,16 187.5,23 188,26.8 188.5,19.7 189,21.2 189.5,15.4 190,20 190.5,16.9 191,20.1 191.5,21.7 192,25.5 192.5,22 193,22 193.5,28.3 194,31.4 194.5,22.6 195,23 195.5,7.2 196,21.5 196.5,10.9 197,11.7 197.5,19 198,15.3 198.5,11 199,12.5 199.5,11.5 200,22.1 200.5,14.5 201,22.6 201.5,25 202,25.9 202.5,21 203,22.5 203.5,25.9 204,25.3 204.5,22.3 205,28.6 205.5,30 206,26.5 206.5,29.4 207,18.8 207.5,29 208,16 208.5,17.2 209,14.1 209.5,19.2 210,22.4 210.5,24.3 211,23.1 211.5,17.7 212,14.1 212.5,17.8 213,9.9 213.5,21.9 214,20.7 214.5,21.2 215,22.7 215.5,18.3 216,26.4 216.5,20.8 217,18.6 217.5,20.1 218,13.4 218.5,25 219,18.3 219.5,24.2 220,32 220.5,29.2 221,22.6 221.5,22 222,26.1 222.5,18.6 223,21.3 223.5,18.5 224,16.5 224.5,12.3 225,23.5 225.5,18.3 226,2.8 226.5,14.4 227,20.1 227.5,20.6 228,20 228.5,17.4 229,18.9 229.5,30.3 230,24.7 230.5,18.3 231,19.9 231.5,23.1 232,18.5 232.5,16.5 233,18.1 233.5,17.7 234,21.6 234.5,23.7 235,17.3 235.5,23.8 236,16.8 236.5,22.7 237,22.6 237.5,20.6 238,21.1 238.5,15.6 239,24.5 239.5,16.1 240,25.9 240.5,18.5 241,23.8 241.5,24.1 242,24.4 242.5,18.4 243,22.1 243.5,29.3 244,22.7 244.5,19.2 245,24.7 245.5,24 246,21.3 246.5,22.2 247,23.8 247.5,20.6 248,20.9 248.5,21.8 249,20.5 249.5,13 250,20.1 250.5,21.3 251,9.9 251.5,15.7 252,19.1 252.5,10.4 253,18.6 253.5,19.1 254,24 254.5,25.4 255,20.2 255.5,17 256,16.1 256.5,23.2 257,19.3 257.5,26.9 258,31 258.5,31.7 259,30.3 259.5,21.3 260,27.5 260.5,18.6 261,19.6 261.5,24.3 262,26.2 262.5,23.1 263,21.5 263.5,19.5 264,15.8 264.5,8.4 265,7.1 265.5,12.4 266,17.6 266.5,15.6 267,22.7 267.5,24.7 268,23.4 268.5,15.9 269,21.2 269.5,29.7 270,33.4 270.5,30.4 271,23.6 271.5,17.9 272,18.6 272.5,24.2 273,16.9 273.5,19.4 274,8.9 274.5,14.4 275,17.3 275.5,20.8 276,15.3 276.5,10.2 277,13 277.5,13.2 278,5.5 278.5,8.4 279,11.2 279.5,22.5 280,17.4 280.5,17.8 281,10.7 281.5,21.1 282,21.7 282.5,29.3 283,31.6 283.5,29 284,23.1 284.5,23.9 285,14.9 285.5,12 286,17.8 286.5,24.9 287,16.4 287.5,16.6 288,18.9 288.5,23.8 289,23.2 289.5,21.2 290,19.2 290.5,25.8 291,18.9 291.5,21.1 292,25.6 292.5,20.9 293,22.9 293.5,18.4 294,30.2 294.5,20.7 295,21.4 295.5,21.3 296,28.1 296.5,32.9 297,36.9 297.5,17.9 298,20.3 298.5,29.2 299,29.2 299.5,29.1 300,30.3 300.5,21.7 301,19.2 301.5,22 302,18.1 302.5,21.3 303,15.6 303.5,17.7 304,11.2 304.5,8.5 305,23.1 305.5,25.5 306,21.1 306.5,28.6 307,29.5 307.5,36.8 308,30.3 308.5,23.2 309,28.1 309.5,26.4 310,27.9 310.5,25.9 311,25 311.5,29.1 312,25.2 312.5,28.7 313,23.7 313.5,12 314,20.2 314.5,14.9 315,19.7 315.5,12.6 316,15.7 316.5,13 317,17.2 317.5,14.2 318,11 318.5,30.8 319,22.6 319.5,21.3 320,16.7 320.5,24.9 321,23.1 321.5,21.4 322,24.3 322.5,26.9 323,22.7 323.5,21 324,22.6 324.5,20.5 325,28.4 325.5,28.2 326,11.1 326.5,18.8 327,19.9 327.5,23.6 328,16.5 328.5,18.5 329,10.4 329.5,20.3 330,18.9 330.5,25.3 331,24.4 331.5,26.3 332,22.3 332.5,21.9 333,30.4 333.5,15.1 334,17.4 334.5,22.1 335,24 335.5,18 336,22.5 336.5,25.4 337,21.8 337.5,20.2 338,27.2 338.5,18.6 339,25.8 339.5,21.9 340,21 340.5,18.7 341,16.4 341.5,21.2 342,13.7 342.5,13.6 343,16.5 343.5,19.9 344,17.7 344.5,20.3 345,18.9 345.5,29.2 346,17.9 346.5,14.7 347,19.3 347.5,18.7 348,19.6 348.5,25.9 349,22.2 349.5,17 350,22.6 350.5,30.7 351,35.1 351.5,24.2 352,10.6 352.5,14 353,14.7 353.5,32.7 354,22.7 354.5,17.2 355,19.2 355.5,16.8 356,15.4 356.5,19 357,19 357.5,28.1 358,31.4 358.5,23.3 359,23.4 359.5,22.3 360,18 360.5,24.2 361,23.5 361.5,33.5 362,32.6 362.5,32.6 363,26.3 363.5,30.7 364,25.1 364.5,23.8 365,17.5 365.5,19.6 366,15.9 366.5,18.1 367,14.2 367.5,22.2 368,22.9 368.5,14.8 369,21.6 369.5,21.2 370,26.3 370.5,23.8 371,18.5 371.5,25.4 372,24.1 372.5,33.2 373,23.5 373.5,20.1 374,24.4 374.5,20.7 375,17.7 375.5,22.2 376,18.1 376.5,27.4 377,21.7 377.5,21.5 378,23.5 378.5,12 379,17 379.5,21.7 380,21.9 380.5,21 381,21.8 381.5,25.6 382,16.1 382.5,21.9 383,21.9 383.5,20.4 384,22.5 384.5,18.8 385,19.7 385.5,15.8 386,18.2 386.5,23.2 387,27.3 387.5,25.5 388,14.4 388.5,24.4 389,26 389.5,20.5 390,20 390.5,18.5 391,21 391.5,12.9 392,15.2 392.5,21.6 393,20 393.5,20.7 394,12.7 394.5,18.1 395,20.1 395.5,14.7 396,5.6 396,109.4 0,109.4"/>
<polygon fill="#ebedeb" points="0,29.5 0.5,30.8 1,25.7 1.5,24 2,22.8 2.5,23 3,25.1 3.5,28.1 4,26.3 4.5,17.8 5,25.9 5.5,29.9 6,29.8 6.5,31.9 7,29.9 7.5,21.7 8,32.4 8.5,40.4 9,29.6 9.5,32.8 10,28.4 10.5,35.3 11,31.8 11.5,25.7 12,30.1 12.5,26.6 13,28 13.5,27.9 14,29.3 14.5,22.4 15,16.9 15.5,16.8 16,20.4 16.5,20 17,21.2 17.5,27.7 18,33.5 18.5,38.1 19,38.4 19.5,33 20,30.9 20.5,31.2 21,31.6 21.5,34.7 22,27.1 22.5,27.1 23,31.2 23.5,40.8 24,39.5 24.5,37.2 25,34.6 25.5,31.2 26,31.7 26.5,27.1 27,29.5 27.5,24.7 28,21.9 28.5,29.9 29,18.5 29.5,25.8 30,23.4 30.5,30.7 31,26.9 31.5,38.7 32,37 32.5,34.3 33,34.9 33.5,39.4 34,41.4 34.5,40.4 35,41.8 35.5,35.1 36,36.8 36.5,36.7 37,33.5 37.5,34.8 38,33.8 38.5,30.8 39,27.3 39.5,27 40,32.3 40.5,24.7 41,34.6 41.5,21.4 42,23.6 42.5,17.5 43,19.8 43.5,27.1 44,27.6 44.5,22.4 45,24.3 45.5,35.2 46,34.5 46.5,36 47,35.3 47.5,31.9 48,27.1 48.5,39.1 49,39.8 49.5,43.7 50,35.5 50.5,27.5 51,35.6 51.5,31.9 52,28.5 52.5,32.2 53,29.9 53.5,33 54,30.3 54.5,28.1 55,32 55.5,27 56,33.2 56.5,33.7 57,27.3 57.5,35.4 58,34.8 58.5,31.3 59,40.5 59.5,37.9 60,35.7 60.5,29.9 61,38.2 61.5,36.3 62,44.2 62.5,41.7 63,35.7 63.5,36.8 64,33.5 64.5,26.8 65,35.5 65.5,27.8 66,30.7 66.5,30.4 67,29.7 67.5,31.2 68,23.4 68.5,17.9 69,13.6 69.5,31 70,33.9 70.5,28.1 71,24.9 71.5,33.7 72,38.8 72.5,37.3 73,35 73.5,39.4 74,34.7 74.5,31.3 75,41.1 75.5,36.1 76,41.2 76.5,42.7 77,32.4 77.5,30.9 78,35 78.5,30.4 79,30.2 79.5,31.5 80,25.5 80.5,26.1 81,22.2 81.5,26 82,29.2 82.5,21.9 83,27 83.5,36.2 84,33.7 84.5,31.9 85,34 85.5,35.7 86,38.1 86.5,33.7 87,33.4 87.5,25.1 88,27.2 88.5,37.5 89,24.7 89.5,31 90,33.6 90.5,33.1 91,24.4 91.5,28 92,29.7 92.5,28.7 93,22.3 93.5,30.8 94,26.5 94.5,21.9 95,23.3 95.5,18.8 96,22.2 96.5,29.1 97,25.2 97.5,37.3 98,24 98.5,30 99,33.7 99.5,24.3 100,27.9 100.5,34.6 101,38 101.5,33.1 102,26.8 102.5,27.5 103,31.1 103.5,29.9 104,33.3 104.5,32.9 105,28.4 105.5,30.1 106,31.2 106.5,33.1 107,23.2 107.5,24 108,23 108.5,25.9 109,33.5 109.5,26.1 110,28.5 110.5,30.5 111,33.4 111.5,33.8 112,36.5 112.5,33.6 113,25.6 113.5,31.4 114,34.1 114.5,32.2 115,38.3 115.5,32 116,33.4 116.5,36.4 117,34.8 117.5,25.1 118,25.1 118.5,25.6 119,27.8 119.5,20.1 120,22.1 120.5,16 121,14.5 121.5,20.3 122,24.2 122.5,27.4 123,32 123.5,29.9 124,34.2 124.5,37.9 125,39.1 125.5,34.6 126,45.9 126.5,34.8 127,34.2 127.5,26.6 128,26.2 128.5,26.3 129,27.3 129.5,27.5 130,18.3 130.5,28.8 131,17.6 131.5,27.4 132,18.3 132.5,27.5 133,23.4 133.5,20 134,16.8 134.5,29.3 135,31.2 135.5,36.4 136,27.6 136.5,30.5 137,28.9 137.5,26.6 138,23.4 138.5,26.7 139,29.4 139.5,28.5 140,32.9 140.5,37.5 141,34.3 141.5,27 142,25.9 142.5,30.9 143,29.7 143.5,35.2 144,23.9 144.5,28.4 145,37.8 145.5,30.4 146,27.5 146.5,25.9 147,20.8 147.5,26.7 148,29.5 148.5,21.2 149,30.7 149.5,33.6 150,44 150.5,38.1 151,33.7 151.5,32.2 152,26.8 152.5,32.7 153,32.2 153.5,23.3 154,32.1 154.5,30.8 155,24.5 155.5,31.3 156,33.6 156.5,28.4 157,31.8 157.5,34 158,22.5 158.5,23.1 159,23.1 159.5,26.1 160,26.8 160.5,26.1 161,24.2 161.5,37.5 162,37.9 162.5,27.2 163,34.3 163.5,37.9 164,35 164.5,34.2 165,26.3 165.5,29.6 166,32.7 166.5,34.4 167,32.3 167.5,27.4 168,28.3 168.5,28.3 169,37.1 169.5,37 170,24.3 170.5,16.3 171,24.1 171.5,29.4 172,32 172.5,28.4 173,20.1 173.5,24 174,26.6 174.5,26.6 175,21 175.5,28.5 176,35.1 176.5,38.5 177,34.8 177.5,37.5 178,25.9 178.5,31.7 179,25.6 179.5,32.2 180,29.1 180.5,31 181,32.4 181.5,30.7 182,33.7 182.5,29 183,29 183.5,25.3 184,22.3 184.5,26.1 185,19 185.5,22.2 186,24.8 186.5,21.7 187,24.4 187.5,24.2 188,29.9 188.5,28.9 189,28.7 189.5,31.7 190,34.3 190.5,28.3 191,22.4 191.5,29.6 192,40 192.5,33.7 193,35.7 193.5,38.4 194,40.6 194.5,25.8 195,30.9 195.5,29.8 196,30.6 196.5,30.7 197,25 197.5,33.4 198,29.7 198.5,28.2 199,22.9 199.5,23.4 200,32.8 200.5,27.5 201,28.3 201.5,27.5 202,26.1 202.5,34 203,28.3 203.5,28 204,29.5 204.5,37.7 205,35.3 205.5,34.6 206,32.4 206.5,34.1 207,36.2 207.5,29.7 208,24 208.5,24.1 209,33.1 209.5,25.3 210,32.8 210.5,28 211,29.6 211.5,18.5 212,17.3 212.5,19.9 213,25.6 213.5,30.3 214,35 214.5,30.8 215,34 215.5,33.4 216,42.3 216.5,33.5 217,37.9 217.5,40.3 218,25.8 218.5,25 219,23.4 219.5,35.5 220,32 220.5,29.2 221,33.4 221.5,23.8 222,26.1 222.5,22.8 223,21.9 223.5,28.3 224,25.5 224.5,30.8 225,30.7 225.5,24.3 226,24 226.5,22.8 227,31.2 227.5,33.6 228,28 228.5,23.6 229,30.7 229.5,33.9 230,39.8 230.5,32.7 231,25.5 231.5,33.3 232,32.6 232.5,26.6 233,23.2 233.5,32.3 234,32.2 234.5,30.8 235,32.9 235.5,27.2 236,26.7 236.5,27.5 237,35.9 237.5,28 238,26.4 238.5,24 239,26.9 239.5,30.4 240,25.9 240.5,22.9 241,33.6 241.5,37.3 242,31.8 242.5,35 243,38.3 243.5,36.5 244,36.7 244.5,36 245,32.5 245.5,33.8 246,37.3 246.5,26 247,28.3 247.5,24.6 248,24.3 248.5,28 249,23.8 249.5,22 250,20.3 250.5,23.7 251,23.1 251.5,32 252,28.4 252.5,21 253,23.5 253.5,26 254,26.8 254.5,25.4 255,27.7 255.5,28.9 256,29.1 256.5,26.2 257,30.4 257.5,37.6 258,31 258.5,31.9 259,33.4 259.5,36.7 260,39.1 260.5,31.1 261,29.9 261.5,33.3 262,33 262.5,35.6 263,33.6 263.5,20.4 264,21.7 264.5,21.2 265,20.7 265.5,30 266,29.9 266.5,28.2 267,32.2 267.5,31.7 268,34.4 268.5,39.4 269,34.2 269.5,38.3 270,34.4 270.5,38.3 271,36 271.5,34.3 272,33.3 272.5,28.2 273,27.7 273.5,25.3 274,18 274.5,16.6 275,27.7 275.5,21.5 276,26.1 276.5,18 277,21.1 277.5,14.5 278,27.9 278.5,22.3 279,28 279.5,31.7 280,32.3 280.5,29.2 281,27.8 281.5,36.3 282,34.1 282.5,33.9 283,31.6 283.5,30.1 284,28.9 284.5,35.7 285,28.4 285.5,30.8 286,32.6 286.5,24.9 287,26 287.5,27.3 288,21.4 288.5,30.2 289,35.2 289.5,29 290,25.6 290.5,29.8 291,28.3 291.5,22.6 292,31.3 292.5,30 293,30.2 293.5,19.8 294,34.6 294.5,27.6 295,31.7 295.5,23.5 296,42.2 296.5,36.4 297,40.1 297.5,39 298,43.7 298.5,34.1 299,33.9 299.5,37.3 300,38.3 300.5,28.8 301,27.9 301.5,29.5 302,29 302.5,23.6 303,27.8 303.5,20.6 304,17 304.5,30.5 305,37.6 305.5,26.7 306,33.5 306.5,32.5 307,31.7 307.5,36.8 308,30.3 308.5,29 309,30.7 309.5,37.6 310,31.6 310.5,25.9 311,34 311.5,36.2 312,37.3 312.5,38 313,30.2 313.5,22.2 314,24.2 314.5,29.1 315,28 315.5,33 316,23.8 316.5,28.4 317,22.2 317.5,21.6 318,35.5 318.5,33.6 319,22.9 319.5,35.3 320,31.5 320.5,28.3 321,30.2 321.5,33.4 322,25.6 322.5,34.3 323,36.7 323.5,38.6 324,38 324.5,35.7 325,37.3 325.5,40.8 326,21.3 326.5,21.6 327,27.6 327.5,24.2 328,18.8 328.5,27.7 329,20 329.5,30.3 330,28.6 330.5,26.5 331,31.2 331.5,27.1 332,31.1 332.5,30.3 333,31.8 333.5,37.1 334,33.3 334.5,42.7 335,39.3 335.5,31.1 336,30.9 336.5,37.6 337,34.8 337.5,32.3 338,38.2 338.5,28.1 339,25.8 339.5,30.3 340,27.8 340.5,26.9 341,24.8 341.5,32.8 342,33.9 342.5,23.3 343,26 343.5,30.6 344,22.7 344.5,31 345,29.9 345.5,30.1 346,25.3 346.5,29.7 347,29.5 347.5,29.6 348,27.6 348.5,27.5 349,28.3 349.5,26 350,32.4 350.5,37.1 351,36.9 351.5,39.2 352,27.6 352.5,29 353,35.1 353.5,32.7 354,31.3 354.5,27.7 355,27.7 355.5,21.1 356,28.4 356.5,31.1 357,33.7 357.5,43.8 358,31.4 358.5,23.3 359,33.8 359.5,31.1 360,27.1 360.5,30.6 361,37.3 361.5,33.5 362,44.1 362.5,35.4 363,32.7 363.5,38.5 364,42.4 364.5,35.2 365,31.4 365.5,24.9 366,34.1 366.5,32 367,27.6 367.5,31 368,26.8 368.5,24.4 369,25.9 369.5,24.2 370,26.3 370.5,29.5 371,30.5 371.5,31.6 372,24.1 372.5,39.4 373,31.7 373.5,43.3 374,39.3 374.5,28.9 375,37.8 375.5,28.8 376,34.6 376.5,29.3 377,31.5 377.5,34.3 378,37 378.5,24.5 379,27.4 379.5,24.9 380,28.1 380.5,31.6 381,22.1 381.5,29.6 382,26.2 382.5,21.9 383,23.1 383.5,26.7 384,26.5 384.5,28.8 385,34.5 385.5,29.4 386,33.9 386.5,27.8 387,32.6 387.5,34 388,30.6 388.5,32.1 389,35.3 389.5,30 390,30.1 390.5,26.6 391,37.6 391.5,32.9 392,25.2 392.5,23 393,28.6 393.5,23.7 394,20.6 394.5,18.1 395,30.2 395.5,27.6 396,25.3 396,109.4 0,109.4"/>
<polygon fill="#fdaa1a" points="0,39.7 0.5,45.5 1,30.6 1.5,35.8 2,39.8 2.5,31.9 3,45.1 3.5,38.2 4,41.5 4.5,41.1 5,47.3 5.5,50.1 6,48 6.5,49.5 7,45.3 7.5,51.7 8,47.5 8.5,49.2 9,47.7 9.5,43.2 10,45.5 10.5,46.5 11,47.9 11.5,55 12,46.6 12.5,49.7 13,46.9 13.5,44.6 14,35.1 14.5,38.2 15,36.6 15.5,36.7 16,37.3 16.5,33.4 17,42.1 17.5,46.4 18,48.3 18.5,49.5 19,48.8 19.5,50 20,43.7 20.5,42 21,51.2 21.5,52.9 22,47 22.5,50.5 23,53.1 23.5,56.3 24,66.7 24.5,53.3 25,54.7 25.5,43.6 26,42.6 26.5,43 27,48.9 27.5,38.6 28,36.7 28.5,37.4 29,35.4 29.5,40.4 30,43.7 30.5,41.8 31,45.8 31.5,44.9 32,52.7 32.5,53.1 33,51.4 33.5,55.5 34,49.3 34.5,54.1 35,51.4 35.5,49 36,55.7 36.5,50.8 37,53.8 37.5,46.5 38,44.1 38.5,41.8 39,53.4 39.5,50.4 40,44.3 40.5,46.4 41,41.1 41.5,34.2 42,37.5 42.5,34.6 43,43 43.5,47.6 44,45.1 44.5,43.5 45,56.5 45.5,54.5 46,49.9 46.5,53.1 47,50.3 47.5,47.1 48,46.8 48.5,48 49,58 49.5,55.7 50,54.8 50.5,49.9 51,46.6 51.5,49.8 52,45.7 52.5,50.4 53,43 53.5,45.9 54,38.5 54.5,45.7 55,40.6 55.5,35.8 56,44.4 56.5,40.9 57,48.1 57.5,49.5 58,48.7 58.5,51.4 59,53.7 59.5,50.1 60,54.6 60.5,46.2 61,54.5 61.5,53.6 62,52 62.5,58 63,51.9 63.5,49.6 64,47.3 64.5,42.9 65,47.8 65.5,49.2 66,48.1 66.5,38.1 67,41.1 67.5,45.5 68,38.3 68.5,32.1 69,35.9 69.5,42.3 70,49.7 70.5,50.7 71,44.9 71.5,46.9 72,51.2 72.5,47.9 73,48.7 73.5,58.5 74,56.7 74.5,55.2 75,61.9 75.5,59.6 76,56.7 76.5,47.6 77,50.5 77.5,47.6 78,50.5 78.5,52.6 79,44.8 79.5,45.6 80,39.4 80.5,43 81,38.1 81.5,37.3 82,42.1 82.5,37.1 83,35.9 83.5,45 84,62.2 84.5,49.8 85,52.3 85.5,59.1 86,61.7 86.5,53.3 87,49.2 87.5,43.7 88,47.4 88.5,53.8 89,53 89.5,55.3 90,55.9 90.5,54.2 91,40.3 91.5,48.6 92,57.6 92.5,45.1 93,41 93.5,43.7 94,41.1 94.5,39.6 95,35.7 95.5,43.8 96,46.2 96.5,49.9 97,48.4 97.5,50.8 98,46.1 98.5,47.4 99,46.7 99.5,37.9 100,54.1 100.5,54.3 101,47.2 101.5,48.7 102,44.2 102.5,41.3 103,45.7 103.5,45.1 104,45 104.5,47.7 105,45.7 105.5,40.4 106,36.2 106.5,37.4 107,41 107.5,44.4 108,40.7 108.5,40.3 109,41.8 109.5,48.5 110,53.1 110.5,48.1 111,49 111.5,49 112,55.1 112.5,51.2 113,50.7 113.5,57.2 114,54.5 114.5,51.6 115,58.1 115.5,58.9 116,56.3 116.5,51.9 117,52.1 117.5,47.2 118,53 118.5,49.5 119,45.3 119.5,44.1 120,36.6 120.5,30.9 121,31.5 121.5,42.1 122,38.5 122.5,48.7 123,59.8 123.5,45.8 124,50.4 124.5,51.9 125,57.4 125.5,54.3 126,60.8 126.5,57.8 127,47.5 127.5,42.4 128,54 128.5,50.5 129,47.3 129.5,49.3 130,44.2 130.5,47.1 131,45.5 131.5,45.9 132,33.8 132.5,35.7 133,40.6 133.5,38.7 134,34 134.5,37.8 135,50.3 135.5,47.2 136,40.5 136.5,49.1 137,42.5 137.5,50.7 138,53.4 138.5,48.6 139,44.9 139.5,47.6 140,50.9 140.5,56 141,53.1 141.5,52.2 142,47.1 142.5,49.7 143,52 143.5,46.1 144,37.1 144.5,51.1 145,51.2 145.5,40.1 146,42.2 146.5,33.8 147,40 147.5,45 148,35 148.5,41.4 149,44.1 149.5,46.4 150,58 150.5,56.7 151,54.2 151.5,52.3 152,50.6 152.5,50.2 153,57.2 153.5,46.5 154,49.7 154.5,49.7 155,53.8 155.5,50.5 156,40.1 156.5,43.8 157,45.4 157.5,54.5 158,44.5 158.5,33.8 159,37.1 159.5,26.1 160,48 160.5,47.6 161,48.4 161.5,49.8 162,46.3 162.5,46.4 163,48.9 163.5,39.4 164,44.6 164.5,48.6 165,42.4 165.5,54.4 166,49.2 166.5,45.4 167,38.2 167.5,44.6 168,40.8 168.5,43.3 169,42.5 169.5,54.7 170,39.5 170.5,36.1 171,41.5 171.5,41.8 172,39.5 172.5,39 173,37.1 173.5,52.3 174,46.5 174.5,45.8 175,39.9 175.5,51.2 176,45.7 176.5,50.8 177,50.9 177.5,51.6 178,44.5 178.5,52 179,46.5 179.5,44.1 180,47.2 180.5,46.7 181,48.2 181.5,47.1 182,57 182.5,45.2 183,48 183.5,54.8 184,42.8 184.5,46.7 185,42 185.5,33 186,40.5 186.5,41.4 187,33.1 187.5,42.5 188,42.3 188.5,38.3 189,42 189.5,47.6 190,50.4 190.5,47.6 191,37.5 191.5,42.4 192,55.7 192.5,50.9 193,52 193.5,53.5 194,57.2 194.5,54 195,39.3 195.5,38.6 196,44.5 196.5,39.6 197,47.4 197.5,47.2 198,46.6 198.5,41.2 199,42.2 199.5,40.3 200,56.3 200.5,44 201,46.7 201.5,43.4 202,54.8 202.5,50.7 203,54.7 203.5,51.4 204,49.1 204.5,50.6 205,63.4 205.5,55.1 206,48 206.5,52.6 207,54.2 207.5,47.1 208,43.6 208.5,44.9 209,38.9 209.5,40.6 210,46.3 210.5,46.8 211,40.2 211.5,41.5 212,40.6 212.5,43.9 213,38.8 213.5,49.6 214,48.7 214.5,54.2 215,50.7 215.5,41.8 216,53.1 216.5,53.8 217,54.1 217.5,51.9 218,47.9 218.5,38.9 219,39.5 219.5,40.9 220,48.8 220.5,47.4 221,45.7 221.5,41.4 222,41.1 222.5,44.5 223,44 223.5,41.5 224,29.8 224.5,35.2 225,42.7 225.5,41 226,37.2 226.5,40.9 227,56 227.5,49.3 228,46.5 228.5,47 229,51.2 229.5,54 230,49.7 230.5,48.2 231,48.2 231.5,50.7 232,50.7 232.5,57.7 233,52.4 233.5,47.4 234,46.1 234.5,49.2 235,45.7 235.5,49 236,44.9 236.5,46.6 237,42.4 237.5,47.2 238,44.2 238.5,39.7 239,44.2 239.5,47.3 240,50.1 240.5,49.2 241,51.7 241.5,52.1 242,54.4 242.5,54.2 243,57.5 243.5,58.6 244,49 244.5,46.3 245,48.9 245.5,56.8 246,53.1 246.5,47.9 247,51.9 247.5,47.6 248,40.6 248.5,48.7 249,46.1 249.5,37.1 250,43.7 250.5,37.8 251,31.2 251.5,35.3 252,35.8 252.5,39.4 253,50 253.5,42.9 254,36.1 254.5,50.6 255,47.9 255.5,50.2 256,49.1 256.5,43.8 257,41.2 257.5,63.2 258,56.7 258.5,58 259,55.2 259.5,40.9 260,51.6 260.5,43.1 261,53.2 261.5,46.5 262,39.9 262.5,45.2 263,39.7 263.5,43.4 264,43.4 264.5,37.1 265,34.4 265.5,36.4 266,41.6 266.5,51.4 267,49.2 267.5,59.2 268,56.1 268.5,61.9 269,54.6 269.5,68 270,63.8 270.5,56 271,50.3 271.5,43.3 272,41.6 272.5,46.2 273,42 273.5,43.2 274,34.1 274.5,43.3 275,47.1 275.5,40.1 276,43.9 276.5,42.9 277,44.1 277.5,39.8 278,42.9 278.5,34.9 279,34.5 279.5,47.1 280,51.8 280.5,47.5 281,48.9 281.5,50.1 282,49.3 282.5,54.1 283,53 283.5,46.4 284,44.1 284.5,47.2 285,53.2 285.5,50.1 286,49.9 286.5,37.5 287,49.8 287.5,44.7 288,45 288.5,42.8 289,40.8 289.5,39.3 290,50.7 290.5,50 291,49.2 291.5,43 292,41.9 292.5,37.5 293,41.7 293.5,42.9 294,45.3 294.5,47 295,36.9 295.5,47 296,47.6 296.5,51.9 297,56.1 297.5,60.7 298,60.9 298.5,61.4 299,60.7 299.5,51.3 300,45.7 300.5,44 301,46.5 301.5,38.3 302,44.2 302.5,43.6 303,43.2 303.5,38 304,38.1 304.5,40.4 305,50.3 305.5,50 306,54.8 306.5,50.9 307,51.6 307.5,58.3 308,57.7 308.5,54.1 309,58.8 309.5,56.7 310,45.5 310.5,46.7 311,50.5 311.5,55.6 312,49.3 312.5,54.3 313,42.3 313.5,38.3 314,34.5 314.5,45.9 315,48.1 315.5,53.3 316,36.1 316.5,39.1 317,37.9 317.5,43.3 318,43.6 318.5,51.1 319,35 319.5,50.2 320,45.2 320.5,55.7 321,53.2 321.5,57.3 322,46.2 322.5,49.7 323,43.4 323.5,46.8 324,48.7 324.5,56.6 325,55 325.5,55.8 326,49.2 326.5,44.5 327,40.5 327.5,49.4 328,47.4 328.5,37.8 329,35.4 329.5,47 330,45.2 330.5,40.3 331,47.6 331.5,46.6 332,46.9 332.5,48.3 333,53 333.5,48.9 334,48.9 334.5,56.3 335,47.6 335.5,43.5 336,50.6 336.5,51.9 337,49.7 337.5,52.1 338,44.8 338.5,53.5 339,53.1 339.5,54 340,41.9 340.5,37.5 341,41.7 341.5,53.1 342,48.5 342.5,37.6 343,44.8 343.5,45.5 344,47.3 344.5,47.4 345,50.3 345.5,55.1 346,50.1 346.5,43.1 347,45.6 347.5,52.6 348,46.5 348.5,43 349,47.8 349.5,44.7 350,51.4 350.5,58.7 351,48.9 351.5,43.6 352,49.4 352.5,53.5 353,54.5 353.5,52.9 354,40.3 354.5,40.5 355,40.7 355.5,42.2 356,48.6 356.5,46.3 357,44.5 357.5,50 358,49.7 358.5,50 359,54.6 359.5,50.5 360,56.8 360.5,50.3 361,58.6 361.5,53.8 362,59.9 362.5,56.1 363,47.9 363.5,48.7 364,55.8 364.5,54.8 365,47 365.5,46.1 366,54.1 366.5,46.9 367,46.5 367.5,49.9 368,44.3 368.5,30.9 369,43.4 369.5,43.8 370,39.1 370.5,50.9 371,48.5 371.5,51.2 372,53.6 372.5,58 373,46.9 373.5,51.5 374,56.5 374.5,51.3 375,50.2 375.5,46.2 376,54.6 376.5,57.4 377,50.2 377.5,58.4 378,53.6 378.5,43.1 379,39 379.5,37.6 380,39 380.5,39.8 381,35.4 381.5,43.1 382,43.2 382.5,42.5 383,45 383.5,48 384,44.7 384.5,48.6 385,37.6 385.5,47.9 386,53.3 386.5,50.8 387,53.4 387.5,49.6 388,46.1 388.5,51.1 389,55.5 389.5,45.2 390,49.2 390.5,47.3 391,48.4 391.5,42.8 392,40.2 392.5,44.2 393,46.3 393.5,45.8 394,33 394.5,38.4 395,39 395.5,31.7 396,40.5 396,109.4 0,109.4"/>
<polygon fill="#ff6868" points="0,39.7 0.5,48.3 1,44.7 1.5,43.2 2,39.8 2.5,37.1 3,45.1 3.5,45.9 4,44.4 4.5,41.1 5,47.3 5.5,50.1 6,49.2 6.5,49.5 7,53.4 7.5,51.7 8,55.2 8.5,64.5 9,54.5 9.5,54 10,56.2 10.5,51.5 11,56.8 11.5,55 12,53.5 12.5,49.7 13,57 13.5,44.6 14,39.6 14.5,43.3 15,44 15.5,38.8 16,37.3 16.5,33.4 17,44.1 17.5,48 18,50.6 18.5,52.3 19,53.1 19.5,51.9 20,46.3 20.5,47.6 21,54.8 21.5,52.9 22,47 22.5,50.5 23,53.1 23.5,56.3 24,66.7 24.5,53.3 25,54.7 25.5,45 26,49.6 26.5,52.4 27,54 27.5,45.2 28,42.4 28.5,46 29,44.6 29.5,45.9 30,43.7 30.5,48.6 31,47.6 31.5,55.4 32,54.1 32.5,53.1 33,51.7 33.5,58.7 34,50.7 34.5,56.7 35,61.2 35.5,54.1 36,55.7 36.5,50.8 37,53.8 37.5,47.9 38,57.7 38.5,51.5 39,55.5 39.5,50.4 40,44.3 40.5,46.4 41,43.9 41.5,34.2 42,40 42.5,46.1 43,50.6 43.5,47.6 44,45.4 44.5,53.6 45,56.6 45.5,58.7 46,57.2 46.5,54.1 47,54.4 47.5,55.5 48,47.4 48.5,50.4 49,58 49.5,55.9 50,55.3 50.5,49.9 51,46.6 51.5,49.8 52,45.7 52.5,50.4 53,43 53.5,49 54,45.7 54.5,48.2 55,40.6 55.5,41.4 56,44.4 56.5,47.9 57,50.2 57.5,52.2 58,51.4 58.5,55.9 59,53.7 59.5,51 60,56.5 60.5,53 61,62.5 61.5,54.4 62,57.2 62.5,58 63,62.4 63.5,55.6 64,54.9 64.5,45.8 65,51.8 65.5,49.2 66,50.8 66.5,47.7 67,48.1 67.5,51 68,44.6 68.5,32.1 69,35.9 69.5,43.8 70,49.7 70.5,50.7 71,50.2 71.5,49.4 72,51.2 72.5,53.4 73,57.3 73.5,58.5 74,56.7 74.5,60 75,67.2 75.5,63.8 76,56.7 76.5,49.2 77,50.6 77.5,54.2 78,50.5 78.5,52.6 79,56.6 79.5,49 80,39.4 80.5,43 81,38.3 81.5,50.2 82,42.1 82.5,49.6 83,44.9 83.5,48 84,62.2 84.5,59.9 85,58.8 85.5,61.7 86,61.7 86.5,53.3 87,49.2 87.5,45.9 88,49.5 88.5,53.8 89,53 89.5,55.3 90,56.9 90.5,56.1 91,46.3 91.5,48.6 92,57.6 92.5,47.7 93,41 93.5,46.1 94,48 94.5,40.1 95,45.9 95.5,47.9 96,54.1 96.5,50.1 97,52.3 97.5,51.4 98,54 98.5,51.7 99,59.1 99.5,47.2 100,54.1 100.5,54.3 101,61.1 101.5,53.6 102,47.3 102.5,41.3 103,60.1 103.5,53.4 104,51.6 104.5,50.3 105,45.7 105.5,43.6 106,44.7 106.5,53.3 107,49.4 107.5,45.9 108,50.6 108.5,40.3 109,41.8 109.5,48.5 110,53.1 110.5,54.7 111,53.4 111.5,49 112,55.4 112.5,51.2 113,50.7 113.5,57.2 114,54.5 114.5,51.6 115,60.4 115.5,58.9 116,56.3 116.5,51.9 117,55.9 117.5,48.5 118,53 118.5,49.5 119,45.3 119.5,50.7 120,48.3 120.5,36.4 121,33.9 121.5,42.1 122,42.9 122.5,54.6 123,59.8 123.5,53.9 124,50.4 124.5,60.1 125,67.1 125.5,67.3 126,66.3 126.5,62.1 127,48.7 127.5,48.4 128,54 128.5,56.8 129,47.3 129.5,49.3 130,45.9 130.5,49.7 131,45.5 131.5,47.8 132,38.9 132.5,36.1 133,40.6 133.5,43 134,35.5 134.5,50.9 135,50.3 135.5,48.9 136,43.7 136.5,51.6 137,49.6 137.5,50.7 138,53.4 138.5,50.1 139,50.3 139.5,52.8 140,56.9 140.5,57.5 141,53.1 141.5,57.1 142,54.6 142.5,50 143,52 143.5,46.4 144,57 144.5,51.1 145,51.2 145.5,40.1 146,50.4 146.5,51.1 147,40 147.5,47.4 148,46.3 148.5,45.1 149,47.2 149.5,46.4 150,60.7 150.5,56.7 151,54.2 151.5,53.5 152,55.1 152.5,52.5 153,58.1 153.5,54.9 154,54.2 154.5,55.3 155,54 155.5,52.3 156,45 156.5,47.6 157,45.4 157.5,54.5 158,47.6 158.5,43.2 159,40.7 159.5,46.2 160,48 160.5,47.6 161,48.4 161.5,52.2 162,50 162.5,46.4 163,48.9 163.5,46.7 164,59.6 164.5,53.1 165,43.4 165.5,54.4 166,54 166.5,55.9 167,52.3 167.5,55.8 168,53.8 168.5,51.2 169,46 169.5,54.7 170,41.2 170.5,44.9 171,45.3 171.5,41.8 172,39.5 172.5,43.5 173,37.1 173.5,52.3 174,46.5 174.5,46.3 175,43.5 175.5,51.2 176,52.5 176.5,57.8 177,56.9 177.5,52.7 178,47.3 178.5,54.1 179,57.3 179.5,55.1 180,56.6 180.5,52.7 181,51 181.5,51.4 182,57.8 182.5,49.9 183,54.9 183.5,54.8 184,55 184.5,54.9 185,42 185.5,43.4 186,48 186.5,41.4 187,46.3 187.5,50.6 188,45.1 188.5,45 189,49.1 189.5,49.9 190,50.4 190.5,51.4 191,50.1 191.5,53.7 192,57.1 192.5,54.2 193,52 193.5,54.1 194,57.2 194.5,54 195,43.3 195.5,47.4 196,47 196.5,46.7 197,47.4 197.5,47.2 198,46.6 198.5,41.2 199,42.2 199.5,46.1 200,56.3 200.5,50.5 201,50.6 201.5,47.6 202,55.1 202.5,57.8 203,55 203.5,63 204,53.7 204.5,51.3 205,63.4 205.5,58 206,52.2 206.5,56.5 207,54.2 207.5,47.1 208,46.6 208.5,45 209,44 209.5,49.1 210,57.8 210.5,51.6 211,47.7 211.5,48.3 212,45.5 212.5,46.7 213,44 213.5,49.6 214,48.7 214.5,54.2 215,50.7 215.5,50.5 216,57.9 216.5,56.9 217,54.2 217.5,51.9 218,50 218.5,52.6 219,46.1 219.5,44.2 220,57 220.5,53.6 221,54.3 221.5,43.3 222,41.1 222.5,49.8 223,44 223.5,41.5 224,40.1 224.5,44.6 225,44.5 225.5,41.3 226,40.8 226.5,46.9 227,57.4 227.5,49.3 228,46.9 228.5,47 229,54.2 229.5,59.1 230,56.9 230.5,49.2 231,48.2 231.5,57.4 232,54.5 232.5,57.7 233,52.9 233.5,52.4 234,52.2 234.5,54.4 235,56.1 235.5,49 236,51.1 236.5,46.6 237,50.2 237.5,47.6 238,44.2 238.5,44.6 239,45.1 239.5,51.4 240,50.1 240.5,49.2 241,56.5 241.5,52.1 242,56.9 242.5,54.2 243,61.1 243.5,62.3 244,49 244.5,54 245,50.5 245.5,56.8 246,60.7 246.5,47.9 247,51.9 247.5,50 248,46.5 248.5,48.7 249,47.4 249.5,37.6 250,43.9 250.5,46.1 251,38.4 251.5,40.1 252,38.9 252.5,41.1 253,50 253.5,43.4 254,46.8 254.5,50.6 255,52.6 255.5,50.2 256,49.1 256.5,49.2 257,47.6 257.5,63.2 258,67.1 258.5,63.5 259,65.5 259.5,59 260,52.6 260.5,52.9 261,58.4 261.5,52.1 262,51.9 262.5,45.2 263,45.8 263.5,44.2 264,44.3 264.5,42.8 265,37.2 265.5,44 266,51.2 266.5,51.4 267,50.5 267.5,59.2 268,56.1 268.5,61.9 269,60.1 269.5,68 270,68.7 270.5,57.7 271,51.2 271.5,48.7 272,47 272.5,56.8 273,48.3 273.5,43.2 274,41.8 274.5,43.9 275,51 275.5,46.2 276,43.9 276.5,46.6 277,44.1 277.5,39.8 278,42.9 278.5,44.7 279,43.2 279.5,50.5 280,54.6 280.5,56.4 281,48.9 281.5,50.1 282,49.3 282.5,57.9 283,54.9 283.5,52.3 284,48.5 284.5,47.9 285,53.2 285.5,50.1 286,49.9 286.5,42 287,49.8 287.5,45.9 288,50.3 288.5,44.4 289,45.8 289.5,49.8 290,50.7 290.5,50 291,49.2 291.5,43 292,51.8 292.5,48.4 293,41.7 293.5,42.9 294,47.1 294.5,50.2 295,49.6 295.5,50.2 296,56.1 296.5,51.9 297,62.9 297.5,60.7 298,60.9 298.5,62.3 299,62.2 299.5,55.8 300,50 300.5,44 301,49.8 301.5,50.6 302,44.2 302.5,43.6 303,43.2 303.5,48.3 304,38.1 304.5,46.9 305,53.7 305.5,52.5 306,54.8 306.5,55.5 307,53.1 307.5,58.3 308,57.7 308.5,55.8 309,59.6 309.5,57.9 310,50 310.5,54.8 311,52.7 311.5,55.6 312,52.8 312.5,54.3 313,43.6 313.5,38.7 314,44.4 314.5,45.9 315,48.1 315.5,53.3 316,44.1 316.5,47.7 317,46.3 317.5,48.3 318,46.8 318.5,55.6 319,50.7 319.5,54 320,52.1 320.5,55.7 321,53.2 321.5,57.3 322,52 322.5,52.6 323,51.4 323.5,47 324,56.1 324.5,56.6 325,55 325.5,55.8 326,49.2 326.5,44.5 327,40.5 327.5,49.5 328,47.4 328.5,42.7 329,37.6 329.5,47 330,45.2 330.5,41.1 331,47.6 331.5,46.6 332,53.5 332.5,55.4 333,54.8 333.5,53.7 334,51.3 334.5,61.1 335,52.3 335.5,49.1 336,50.6 336.5,56.4 337,51.1 337.5,52.1 338,47.8 338.5,53.5 339,53.1 339.5,54 340,48 340.5,44.1 341,45.4 341.5,53.1 342,48.5 342.5,39.3 343,44.8 343.5,48.1 344,47.3 344.5,47.4 345,54.1 345.5,55.1 346,50.1 346.5,43.1 347,45.6 347.5,52.6 348,48.9 348.5,49.7 349,47.8 349.5,52.3 350,56.5 350.5,58.7 351,57 351.5,52.9 352,50.5 352.5,53.5 353,55.4 353.5,56.9 354,47.7 354.5,41.9 355,49.8 355.5,47.7 356,53.8 356.5,46.4 357,49.1 357.5,50 358,49.7 358.5,53 359,54.6 359.5,50.5 360,56.8 360.5,50.7 361,58.6 361.5,53.8 362,67.4 362.5,63.1 363,56.2 363.5,52.4 364,55.8 364.5,55.9 365,58.9 365.5,46.1 366,55.1 366.5,46.9 367,46.5 367.5,49.9 368,44.3 368.5,45.8 369,46.9 369.5,47.2 370,49.4 370.5,52.7 371,56.6 371.5,51.2 372,53.6 372.5,62.3 373,58 373.5,59.6 374,56.5 374.5,51.3 375,54.2 375.5,56.3 376,54.6 376.5,57.4 377,50.2 377.5,58.4 378,53.6 378.5,51.1 379,45.2 379.5,46 380,43.5 380.5,46.1 381,40.4 381.5,52.3 382,44.5 382.5,44.5 383,52.1 383.5,48 384,50.3 384.5,53.4 385,50.1 385.5,47.9 386,53.3 386.5,54.6 387,53.9 387.5,49.6 388,46.1 388.5,51.1 389,55.5 389.5,55.8 390,53.9 390.5,50.3 391,48.4 391.5,44.3 392,40.2 392.5,44.3 393,50.8 393.5,49.1 394,44.8 394.5,42 395,44.9 395.5,37.3 396,40.5 396,109.4 0,109.4"/>
<polygon fill="#f80404" points="0,63.8 0.5,70.4 1,63.2 1.5,70.9 2,67 2.5,62.8 3,67.8 3.5,62.8 4,59.5 4.5,58.7 5,68.2 5.5,78.4 6,72 6.5,75.1 7,68.4 7.5,71.9 8,69 8.5,83.1 9,75.3 9.5,74.5 10,74.9 10.5,82 11,78.4 11.5,67.8 12,75.9 12.5,72.7 13,67.1 13.5,66.3 14,58.6 14.5,55.8 15,57.4 15.5,62.4 16,56.6 16.5,61.2 17,61.9 17.5,68.4 18,69.4 18.5,76.2 19,74.8 19.5,74.7 20,74.1 20.5,70.9 21,68.7 21.5,65.7 22,71 22.5,75.3 23,75.6 23.5,77.6 24,81.1 24.5,80.7 25,78 25.5,68.2 26,62.4 26.5,64.6 27,76.6 27.5,71.3 28,70.2 28.5,62.6 29,66.8 29.5,59.6 30,59.7 30.5,67.1 31,72 31.5,76.6 32,69.1 32.5,68.9 33,71 33.5,85 34,73 34.5,79.7 35,75 35.5,68.6 36,76.5 36.5,74.2 37,75.9 37.5,80.4 38,75.7 38.5,67.2 39,67.5 39.5,70.9 40,62.5 40.5,62.2 41,68.8 41.5,63.4 42,60.8 42.5,56 43,59.3 43.5,73.5 44,69 44.5,74.2 45,73 45.5,84 46,86.5 46.5,75.1 47,73.3 47.5,81.1 48,73.8 48.5,71.5 49,80.1 49.5,77.9 50,73.4 50.5,83.2 51,73.1 51.5,70.8 52,74.3 52.5,72.9 53,73.8 53.5,75.6 54,68.9 54.5,66.2 55,65.4 55.5,59.9 56,60.2 56.5,68 57,75.4 57.5,81.3 58,80.2 58.5,81.7 59,80.1 59.5,76.5 60,76.6 60.5,71.2 61,80.2 61.5,71.4 62,77.5 62.5,77.3 63,77 63.5,78.2 64,73.5 64.5,69.5 65,71.6 65.5,65.4 66,76.5 66.5,74 67,68 67.5,68.1 68,66.3 68.5,56.3 69,56.9 69.5,59.3 70,66.3 70.5,71.4 71,70.2 71.5,70.9 72,89.5 72.5,70.6 73,78.7 73.5,80.6 74,78.3 74.5,80.8 75,89.9 75.5,83.3 76,72 76.5,80.9 77,81.7 77.5,69.1 78,75.5 78.5,72.6 79,74.7 79.5,67.6 80,63.4 80.5,76.5 81,62.7 81.5,66.5 82,57.6 82.5,60.9 83,59 83.5,61.8 84,66.4 84.5,78.5 85,78 85.5,79.7 86,86.1 86.5,84.4 87,78.9 87.5,74.2 88,72.1 88.5,74 89,65.2 89.5,73.7 90,81.3 90.5,79 91,67.7 91.5,65.9 92,73 92.5,72.8 93,67.3 93.5,71.2 94,71.9 94.5,66.8 95,71.4 95.5,58.9 96,67.6 96.5,72.9 97,76.9 97.5,80.2 98,72.8 98.5,71.6 99,79.3 99.5,67.9 100,70 100.5,79.6 101,80.4 101.5,74.7 102,69.6 102.5,72.6 103,74.4 103.5,78.5 104,64.7 104.5,64.7 105,62 105.5,73.3 106,67.7 106.5,70 107,65.9 107.5,58.9 108,63.2 108.5,60.5 109,65.4 109.5,62.9 110,69.3 110.5,76.8 111,72 111.5,71.1 112,76.9 112.5,78.2 113,74.8 113.5,76.5 114,76 114.5,83.4 115,88.8 115.5,84 116,85.1 116.5,81.3 117,84.2 117.5,67.7 118,66.5 118.5,70.4 119,73.8 119.5,72.9 120,62.6 120.5,54.5 121,58.2 121.5,56.3 122,65.3 122.5,78 123,83.1 123.5,77.4 124,80.7 124.5,75.8 125,81.4 125.5,84.4 126,82.9 126.5,81.4 127,78.5 127.5,77.4 128,75.7 128.5,77.5 129,79.5 129.5,69 130,68.5 130.5,78.1 131,63.3 131.5,64 132,58 132.5,63.4 133,62.3 133.5,60 134,62.6 134.5,67.3 135,67.4 135.5,71.7 136,73.9 136.5,71.9 137,80.4 137.5,70.9 138,72.4 138.5,71.1 139,68.3 139.5,70.4 140,74.2 140.5,69.3 141,76.7 141.5,74.9 142,76.7 142.5,74.3 143,73.2 143.5,64.6 144,67.2 144.5,68.1 145,71.2 145.5,67.4 146,61.9 146.5,62 147,56.6 147.5,58.7 148,58.2 148.5,73 149,69.8 149.5,73.8 150,84.7 150.5,76.7 151,89.6 151.5,83.2 152,78.8 152.5,79.9 153,67.1 153.5,59.5 154,65.6 154.5,73.5 155,73.9 155.5,77.2 156,65.8 156.5,72.1 157,74.9 157.5,76.8 158,69.5 158.5,67.2 159,66.5 159.5,65.8 160,65.4 160.5,68.5 161,67.7 161.5,65.2 162,71.3 162.5,67.5 163,78 163.5,73.7 164,71.6 164.5,73.9 165,69 165.5,74.2 166,71.9 166.5,77.6 167,68.7 167.5,76.8 168,79.7 168.5,70.8 169,75 169.5,63.9 170,66.8 170.5,65.7 171,63.4 171.5,64.8 172,69 172.5,51.7 173,52.4 173.5,60.9 174,62.8 174.5,71.6 175,70.1 175.5,76.7 176,75.9 176.5,74.3 177,79.1 177.5,80.2 178,78.1 178.5,75.6 179,72.9 179.5,72.3 180,69.6 180.5,77.8 181,76.8 181.5,75.1 182,75.8 182.5,67.7 183,66.6 183.5,70.5 184,72.5 184.5,67.2 185,74.2 185.5,60.6 186,64.4 186.5,62.6 187,68.8 187.5,66.6 188,70.7 188.5,69.4 189,73.4 189.5,76 190,66.1 190.5,76.4 191,74.6 191.5,77.2 192,80.7 192.5,75.3 193,82.7 193.5,84.9 194,82.6 194.5,80.8 195,71 195.5,73.1 196,68.1 196.5,68 197,61 197.5,68 198,62.4 198.5,60.1 199,57.3 199.5,58.4 200,66.4 200.5,61.7 201,73.7 201.5,68.3 202,76.3 202.5,74.2 203,68.2 203.5,78.5 204,80.6 204.5,72.4 205,76.2 205.5,80.4 206,84.2 206.5,81 207,73.9 207.5,75.4 208,60.8 208.5,71.5 209,71.5 209.5,64.8 210,69.5 210.5,66.9 211,64.8 211.5,69.6 212,64.5 212.5,63.9 213,59.3 213.5,63.9 214,69.1 214.5,73 215,77.5 215.5,68.2 216,81.6 216.5,81.7 217,73.7 217.5,70.2 218,71.2 218.5,66.1 219,59.9 219.5,69 220,63.9 220.5,69.1 221,69.8 221.5,59.8 222,66.5 222.5,71.4 223,64.8 223.5,65.8 224,61.9 224.5,72.5 225,59.5 225.5,64.3 226,66.7 226.5,66.8 227,72.3 227.5,69.4 228,80.9 228.5,73.2 229,73 229.5,78.4 230,78.2 230.5,73.3 231,66.4 231.5,81.2 232,78.5 232.5,73.7 233,68.4 233.5,71 234,68.7 234.5,66.4 235,73.2 235.5,70.7 236,69.4 236.5,68.1 237,70 237.5,64 238,62.6 238.5,62.2 239,71 239.5,71.9 240,75.4 240.5,70.1 241,71.1 241.5,73 242,77.9 242.5,76.8 243,81 243.5,87.8 244,66.6 244.5,73.7 245,73.9 245.5,72.6 246,75.3 246.5,70.4 247,75 247.5,77 248,62.5 248.5,67.1 249,64.5 249.5,65.9 250,67.4 250.5,59.8 251,56.1 251.5,58.2 252,54.2 252.5,59.6 253,61.6 253.5,60.1 254,65.7 254.5,72.9 255,73.3 255.5,70.6 256,67.7 256.5,75.8 257,68.5 257.5,88.1 258,88.4 258.5,89.5 259,81.6 259.5,83.7 260,76.8 260.5,71.8 261,76.6 261.5,71 262,70.9 262.5,72.8 263,73.5 263.5,63.9 264,66.9 264.5,69.2 265,70.4 265.5,66.8 266,65.4 266.5,64 267,77.6 267.5,82.4 268,76 268.5,82.1 269,76.9 269.5,87.4 270,86.4 270.5,74.9 271,81.3 271.5,77 272,78.2 272.5,85.6 273,66.9 273.5,64.5 274,61.3 274.5,59.7 275,70.3 275.5,66.3 276,64.3 276.5,57.7 277,61.4 277.5,58.2 278,61.2 278.5,64.1 279,67.4 279.5,74.7 280,73.4 280.5,75.2 281,68.1 281.5,74.9 282,68.6 282.5,69.7 283,78.2 283.5,78.4 284,80.3 284.5,73.1 285,65.5 285.5,74.2 286,65.4 286.5,73.6 287,62 287.5,60.2 288,62.1 288.5,63.3 289,67.6 289.5,65 290,66.5 290.5,64.3 291,71.6 291.5,67.5 292,71.7 292.5,68.2 293,68.2 293.5,71.5 294,71 294.5,70.8 295,75.9 295.5,80.4 296,79.3 296.5,85 297,87.4 297.5,83.7 298,72.3 298.5,82.1 299,69.9 299.5,62.3 300,73.5 300.5,74.5 301,66.8 301.5,72.4 302,72.9 302.5,66.2 303,58.1 303.5,52.2 304,60.4 304.5,68.8 305,71.4 305.5,68.7 306,67.8 306.5,80.1 307,79 307.5,79.3 308,80.2 308.5,81.3 309,83.3 309.5,75.2 310,63 310.5,74.3 311,71.2 311.5,73 312,74 312.5,75.7 313,69.4 313.5,65 314,65.8 314.5,73.1 315,57.6 315.5,67.3 316,64.3 316.5,61.4 317,67 317.5,69.3 318,70.3 318.5,76.8 319,75.4 319.5,70.1 320,75.2 320.5,74.3 321,69.5 321.5,70.8 322,75.7 322.5,71.2 323,72.5 323.5,80.4 324,78 324.5,74.2 325,84.1 325.5,79.4 326,65.9 326.5,61.8 327,69.7 327.5,67.6 328,68.2 328.5,66.1 329,61.2 329.5,67.4 330,64 330.5,71 331,75.5 331.5,73.4 332,63.1 332.5,79.5 333,71.3 333.5,71.9 334,79.3 334.5,78.5 335,75.6 335.5,69 336,79 336.5,74.3 337,70.6 337.5,73.2 338,76.5 338.5,73.7 339,72.5 339.5,69.6 340,68.2 340.5,66.1 341,65.3 341.5,67.1 342,71.3 342.5,60.4 343,69.7 343.5,74.9 344,72.9 344.5,66.1 345,74 345.5,75.2 346,79.4 346.5,64.9 347,68.6 347.5,78.6 348,71.1 348.5,68.2 349,77.3 349.5,78.8 350,83.3 350.5,79.4 351,75.6 351.5,77.8 352,59.9 352.5,72.3 353,80.9 353.5,73.5 354,69.8 354.5,63.9 355,68.3 355.5,69.8 356,68.6 356.5,68.7 357,69.5 357.5,70.8 358,71.7 358.5,73.8 359,78.4 359.5,79.6 360,79 360.5,75 361,78.5 361.5,78.1 362,84.9 362.5,84.1 363,76.2 363.5,80 364,76.5 364.5,76.1 365,67 365.5,68.9 366,71.7 366.5,68.9 367,71.9 367.5,78 368,65.3 368.5,58 369,61.9 369.5,68.2 370,61.4 370.5,73 371,72.7 371.5,69.9 372,77.5 372.5,94.8 373,81 373.5,76.8 374,75.5 374.5,80.4 375,71.3 375.5,70.9 376,68.7 376.5,73.9 377,73.7 377.5,74.1 378,72.1 378.5,67.2 379,70.2 379.5,70 380,66.1 380.5,69.5 381,70.9 381.5,74.1 382,63.6 382.5,69.7 383,67.7 383.5,74.8 384,76.4 384.5,71.2 385,77.8 385.5,71.6 386,78.7 386.5,79.2 387,71.4 387.5,80.8 388,66.4 388.5,65.9 389,69.8 389.5,68.5 390,74 390.5,69.6 391,68 391.5,65.4 392,59.7 392.5,70.8 393,76.4 393.5,69.5 394,65.7 394.5,53.3 395,63.6 395.5,64.8 396,68.7 396,109.4 0,109.4"/>
<line x1="9" y1="0" x2="9" y2="109.4" stroke="#ffffff" stroke-opacity="0.75" stroke-width="1"/>
<line x1="22.1" y1="0" x2="22.1" y2="109.4" stroke="#ffffff" stroke-opacity="0.75" stroke-width="1"/>
<line x1="35.1" y1="0" x2="35.1" y2="109.4" stroke="#ffffff" stroke-opacity="0.75" stroke-width="1"/>
<line x1="48.2" y1="0" x2="48.2" y2="109.4" stroke="#ffffff" stroke-opacity="0.75" stroke-width="1"/>
<line x1="61.2" y1="0" x2="61.2" y2="109.4" stroke="#ffffff" stroke-opacity="0.75" stroke-width="1"/>
<line x1="74.3" y1="0" x2="74.3" y2="109.4" stroke="#ffffff" stroke-opacity="0.75" stroke-width="1"/>
<line x1="87.4" y1="0" x2="87.4" y2="109.4" stroke="#ffffff" stroke-opacity="0.75" stroke-width="1"/>
<line x1="100.4" y1="0" x2="100.4" y2="109.4" stroke="#ffffff" stroke-opacity="0.75" stroke-width="1"/>
<line x1="113.5" y1="0" x2="113.5" y2="109.4" stroke="#ffffff" stroke-opacity="0.75" stroke-width="1"/>
<line x1="126.5" y1="0" x2="126.5" y2="109.4" stroke="#ffffff" stroke-opacity="0.75" stroke-width="1"/>
<line x1="139.6" y1="0" x2="139.6" y2="109.4" stroke="#ffffff" stroke-opacity="0.75" stroke-width="1"/>
<line x1="152.7" y1="0" x2="152.7" y2="109.4" stroke="#ffffff" stroke-opacity="0.75" stroke-width="1"/>
<line x1="165.7" y1="0" x2="165.7" y2="109.4" stroke="#ffffff" stroke-opacity="0.75" stroke-width="1"/>
<line x1="178.8" y1="0" x2="178.8" y2="109.4" stroke="#ffffff" stroke-opacity="0.75" stroke-width="1"/>
<line x1="191.8" y1="0" x2="191.8" y2="109.4" stroke="#ffffff" stroke-opacity="0.75" stroke-width="1"/>
<line x1="204.9" y1="0" x2="204.9" y2="109.4" stroke="#ffffff" stroke-opacity="0.75" stroke-width="1"/>
<line x1="218" y1="0" x2="218" y2="109.4" stroke="#ffffff" stroke-opacity="0.75" stroke-width="1"/>
<line x1="231" y1="0" x2="231" y2="109.4" stroke="#ffffff" stroke-opacity="0.75" stroke-width="1"/>
<line x1="244.1" y1="0" x2="244.1" y2="109.4" stroke="#ffffff" stroke-opacity="0.75" stroke-width="1"/>
<line x1="257.1" y1="0" x2="257.1" y2="109.4" stroke="#ffffff" stroke-opacity="0.75" stroke-width="1"/>
<line x1="270.2" y1="0" x2="270.2" y2="109.4" stroke="#ffffff" stroke-opacity="0.75" stroke-width="1"/>
<line x1="283.3" y1="0" x2="283.3" y2="109.4" stroke="#ffffff" stroke-opacity="0.75" stroke-width="1"/>
<line x1="296.3" y1="0" x2="296.3" y2="109.4" stroke="#ffffff" stroke-opacity="0.75" stroke-width="1"/>
<line x1="309.4" y1="0" x2="309.4" y2="109.4" stroke="#ffffff" stroke-opacity="0.75" stroke-width="1"/>
<line x1="322.4" y1="0" x2="322.4" y2="109.4" stroke="#ffffff" stroke-opacity="0.75" stroke-width="1"/>
<line x1="335.5" y1="0" x2="335.5" y2="109.4" stroke="#ffffff" stroke-opacity="0.75" stroke-width="1"/>
<line x1="348.6" y1="0" x2="348.6" y2="109.4" stroke="#ffffff" stroke-opacity="0.75" stroke-width="1"/>
<line x1="361.6" y1="0" x2="361.6" y2="109.4" stroke="#ffffff" stroke-opacity="0.75" stroke-width="1"/>
<line x1="374.7" y1="0" x2="374.7" y2="109.4" stroke="#ffffff" stroke-opacity="0.75" stroke-width="1"/>
<line x1="387.7" y1="0" x2="387.7" y2="109.4" stroke="#ffffff" stroke-opacity="0.75" stroke-width="1"/>
<line x1="318.7" y1="0" x2="318.7" y2="109.4" stroke="#fbf53a" stroke-width="1.1"/>
</svg>
<line x1="487.2" y1="204.9" x2="487.2" y2="314.3" stroke="#bbb" stroke-width="0.8"/>
<line x1="90.7" y1="204.9" x2="90.7" y2="314.3" stroke="#9a9a9a" stroke-width="0.9"/>
<text x="88.6" y="207.3" font-size="6.8" fill="#777" text-anchor="end">100</text>
<text x="88.6" y="229.2" font-size="6.8" fill="#777" text-anchor="end">80</text>
<text x="88.6" y="251.1" font-size="6.8" fill="#777" text-anchor="end">60</text>
<text x="88.6" y="272.9" font-size="6.8" fill="#777" text-anchor="end">40</text>
<text x="88.6" y="294.8" font-size="6.8" fill="#777" text-anchor="end">20</text>
<text x="88.6" y="316.7" font-size="6.8" fill="#777" text-anchor="end">0</text>
<text x="90.9" y="323" font-size="7.2" fill="#707070" text-anchor="middle">Nov 15</text>
<text x="130.4" y="323" font-size="7.2" fill="#707070" text-anchor="middle">Nov 18</text>
<text x="170" y="323" font-size="7.2" fill="#707070" text-anchor="middle">Nov 21</text>
<text x="209.5" y="323" font-size="7.2" fill="#707070" text-anchor="middle">Nov 24</text>
<text x="249.1" y="323" font-size="7.2" fill="#707070" text-anchor="middle">Nov 27</text>
<text x="288.6" y="323" font-size="7.2" fill="#707070" text-anchor="middle">Nov 30</text>
<text x="328.1" y="323" font-size="7.2" fill="#707070" text-anchor="middle">Dec 03</text>
<text x="367.7" y="323" font-size="7.2" fill="#707070" text-anchor="middle">Dec 06</text>
<text x="407.2" y="323" font-size="7.2" fill="#707070" text-anchor="middle">Dec 09</text>
<text x="446.8" y="323" font-size="7.2" fill="#707070" text-anchor="middle">Dec 12</text>
<text x="486.3" y="323" font-size="7.2" fill="#707070" text-anchor="middle">Dec 15</text>
<rect x="494.8" y="204.8" width="9.7" height="11.2" fill="#0202ee"/>
<rect x="494.8" y="216" width="9.7" height="11" fill="#6666f8"/>
<rect x="494.8" y="227" width="9.7" height="10.3" fill="#959598"/>
<rect x="494.8" y="237.3" width="9.7" height="15.4" fill="#ebedeb"/>
<rect x="494.8" y="252.7" width="9.7" height="3.6" fill="#fdaa1a"/>
<rect x="494.8" y="256.3" width="9.7" height="22.2" fill="#ff6868"/>
<rect x="494.8" y="278.5" width="9.7" height="36.1" fill="#f80404"/>
<text x="528.8" y="211.6" font-size="7.8" fill="#444" text-anchor="end">10%</text>
<text x="528.8" y="222.9" font-size="7.8" fill="#444" text-anchor="end">10%</text>
<text x="528.8" y="275.7" font-size="7.8" fill="#444" text-anchor="end">20%</text>
<text x="528.8" y="313.2" font-size="7.8" fill="#444" text-anchor="end">33%</text>
<rect x="90.3" y="325" width="397" height="42.6" fill="#fff"/>
<line x1="130.4" y1="325" x2="130.4" y2="367.6" stroke="#e8e8e8" stroke-width="0.8"/>
<line x1="170" y1="325" x2="170" y2="367.6" stroke="#e8e8e8" stroke-width="0.8"/>
<line x1="209.5" y1="325" x2="209.5" y2="367.6" stroke="#e8e8e8" stroke-width="0.8"/>
<line x1="249.1" y1="325" x2="249.1" y2="367.6" stroke="#e8e8e8" stroke-width="0.8"/>
<line x1="288.6" y1="325" x2="288.6" y2="367.6" stroke="#e8e8e8" stroke-width="0.8"/>
<line x1="328.1" y1="325" x2="328.1" y2="367.6" stroke="#e8e8e8" stroke-width="0.8"/>
<line x1="367.7" y1="325" x2="367.7" y2="367.6" stroke="#e8e8e8" stroke-width="0.8"/>
<line x1="407.2" y1="325" x2="407.2" y2="367.6" stroke="#e8e8e8" stroke-width="0.8"/>
<line x1="446.8" y1="325" x2="446.8" y2="367.6" stroke="#e8e8e8" stroke-width="0.8"/>
<line x1="90.3" y1="328.5" x2="487.3" y2="328.5" stroke="#eee" stroke-width="0.8"/>
<svg x="90.3" y="325" width="397" height="42.6" overflow="hidden">
<polygon fill="#139c18" points="0,27.2 0.6,24.5 1.3,30 1.9,16.7 2.5,8.5 3.1,18.9 3.8,26.3 4.4,14.7 5,20.3 5.6,28.1 6.3,22.7 6.9,17.7 7.5,24.5 8.1,24.5 8.8,25.6 9.4,23.6 10,30.8 10.6,28.7 11.3,27.4 11.9,11.2 12.5,11.3 13.1,16.1 13.8,13.3 14.4,21.4 15,25.6 15.6,23.8 16.3,17.2 16.9,23.8 17.5,20.3 18.1,28.9 18.8,25.8 19.4,25.7 20,18.3 20.6,29.6 21.3,23.7 21.9,29.6 22.5,30.7 23.1,20.4 23.8,31.5 24.4,5.5 25,28.5 25.6,28.9 26.3,25.9 26.9,29.1 27.5,21.2 28.1,21.6 28.8,20.4 29.4,14.8 30,15.7 30.6,22.8 31.3,21.9 31.9,29.5 32.5,31.5 33.1,31.8 33.8,27 34.4,29.2 35,17.1 35.6,30.7 36.3,24.2 36.9,28.9 37.5,20.2 38.1,13.3 38.8,22.1 39.4,27.6 40,30.1 40.6,16.1 41.3,23.5 41.9,12.5 42.5,22.3 43.1,28.3 43.8,15 44.4,27.8 45,28.9 45.6,26.7 46.3,23.2 46.9,29.8 47.5,24.3 48.1,27.1 48.8,29.1 49.4,31.1 50,29 50.6,29 51.3,30.1 51.9,17.6 52.5,27.2 53.1,28.3 53.8,23.6 54.4,23.4 55,23.5 55.6,21.8 56.3,25.1 56.9,24.2 57.5,24 58.1,22.1 58.8,22.4 59.4,29.2 60,31.8 60.6,29.8 61.3,22 61.9,29.8 62.5,29.1 63.1,31.2 63.8,29.4 64.4,20.7 65,25.5 65.6,22.6 66.3,29.7 66.9,27.8 67.5,20.9 68.1,17.7 68.8,28.1 69.4,19.1 70,23.5 70.6,29.6 71.3,14.3 71.9,28.8 72.5,24.3 73.1,38.1 73.8,14.3 74.4,15 75,17.8 75.6,20.8 76.3,17.9 76.9,27.5 77.5,7.5 78.1,23.6 78.8,27.8 79.4,29.8 80,23 80.7,16.1 81.3,24.4 81.9,27.1 82.5,24.9 83.2,15.8 83.8,30.7 84.4,30 85,27.2 85.7,28.6 86.3,23.8 86.9,22.5 87.5,27.7 88.2,28.6 88.8,28.9 89.4,26.3 90,31.2 90.7,25.2 91.3,19.7 91.9,25.3 92.5,29.5 93.2,26.9 93.8,26 94.4,23.5 95,10.8 95.7,27.8 96.3,21.5 96.9,10 97.5,24.7 98.2,28.5 98.8,28.2 99.4,29.8 100,27.9 100.7,28.8 101.3,30.3 101.9,20.2 102.5,14 103.2,20.2 103.8,17.1 104.4,23.5 105,26.5 105.7,22.3 106.3,27.1 106.9,14.9 107.5,28 108.2,23.8 108.8,22.9 109.4,17.4 110,21.7 110.7,27 111.3,40.1 111.9,26.5 112.5,24.7 113.2,27.2 113.8,23.8 114.4,19.3 115,15.6 115.7,9.9 116.3,30.5 116.9,18.3 117.5,29.5 118.2,29.2 118.8,24.7 119.4,25.7 120,28.6 120.7,27.4 121.3,28 121.9,22.5 122.5,29.8 123.2,29 123.8,27.9 124.4,19.1 125,21.5 125.7,25.7 126.3,15.7 126.9,31.4 127.5,31.6 128.2,23.8 128.8,17 129.4,27.3 130,28.5 130.7,20.8 131.3,22.9 131.9,21.1 132.5,27.4 133.2,12.1 133.8,28.4 134.4,28.1 135,11.4 135.7,22.6 136.3,29.1 136.9,29.2 137.5,36.4 138.2,26.2 138.8,23.8 139.4,13.7 140,27.2 140.7,30.1 141.3,29.2 141.9,17.7 142.5,18 143.2,23.2 143.8,22.2 144.4,21.9 145,24.2 145.7,18.7 146.3,28 146.9,13 147.5,24.7 148.2,16.6 148.8,25.2 149.4,27.3 150,21.9 150.7,10.4 151.3,26.9 151.9,6.6 152.5,28.5 153.2,17.2 153.8,29.5 154.4,23.9 155,24.8 155.7,17.7 156.3,27.4 156.9,28.9 157.5,23.9 158.2,25.8 158.8,26.3 159.4,25.7 160.1,11.8 160.7,10.8 161.3,17.9 161.9,25.4 162.6,28.1 163.2,14.8 163.8,13.6 164.4,31.7 165.1,31.5 165.7,13.5 166.3,21.2 166.9,26.6 167.6,14.9 168.2,22.2 168.8,19.8 169.4,27.2 170.1,14.3 170.7,29.6 171.3,23.1 171.9,26.8 172.6,36.3 173.2,26.4 173.8,20.7 174.4,36.8 175.1,28.8 175.7,28.4 176.3,22.6 176.9,27.5 177.6,13.3 178.2,25.2 178.8,30.4 179.4,31.3 180.1,25.1 180.7,23.6 181.3,19.2 181.9,21.3 182.6,23.9 183.2,16.1 183.8,22.3 184.4,24.9 185.1,14.9 185.7,39.3 186.3,22.1 186.9,13.2 187.6,28.9 188.2,21.5 188.8,25.1 189.4,20 190.1,21.3 190.7,29 191.3,6.9 191.9,27.3 192.6,25.6 193.2,26.2 193.8,30 194.4,15.6 195.1,25.6 195.7,14.3 196.3,29.8 196.9,24.4 197.6,11.7 198.2,23.2 198.8,26.7 199.4,18.7 200.1,26.1 200.7,10.4 201.3,22.9 201.9,22.5 202.6,29.8 203.2,17.7 203.8,23.5 204.4,29.3 205.1,26.4 205.7,29.7 206.3,18.9 206.9,31.7 207.6,25.7 208.2,24.4 208.8,26.8 209.4,14.3 210.1,20.1 210.7,25.9 211.3,16.2 211.9,27.9 212.6,22.6 213.2,29.1 213.8,27.4 214.4,25.9 215.1,30.1 215.7,28.9 216.3,27.5 216.9,30.6 217.6,28.7 218.2,30.4 218.8,20.4 219.4,18.7 220.1,21.3 220.7,20.8 221.3,17.6 221.9,19.7 222.6,28.6 223.2,16.9 223.8,24.4 224.4,27.5 225.1,25.7 225.7,19.7 226.3,26.8 226.9,25.6 227.6,28.5 228.2,22.8 228.8,24.4 229.4,24.7 230.1,29 230.7,6.5 231.3,17.4 231.9,31.7 232.6,31.8 233.2,27.1 233.8,16.5 234.4,27.3 235.1,26.3 235.7,25.8 236.3,22.9 236.9,23.5 237.6,28 238.2,19.8 238.8,26.3 239.5,22.4 240.1,28.9 240.7,17.1 241.3,21.6 242,26.3 242.6,21.1 243.2,26.9 243.8,25.1 244.5,31.1 245.1,29.8 245.7,19.2 246.3,29.4 247,26.4 247.6,25.1 248.2,27.7 248.8,27.1 249.5,9.3 250.1,39.9 250.7,22.4 251.3,28.1 252,25.9 252.6,24.5 253.2,20 253.8,29.6 254.5,26 255.1,19.8 255.7,22.1 256.3,21.8 257,23 257.6,29.4 258.2,24 258.8,16.3 259.5,27.9 260.1,22.6 260.7,29.9 261.3,9.8 262,25.2 262.6,28.4 263.2,9.3 263.8,28.4 264.5,21 265.1,20.9 265.7,17 266.3,27.7 267,15.9 267.6,18.4 268.2,24.4 268.8,27.5 269.5,31.9 270.1,30.9 270.7,29.2 271.3,30 272,24.5 272.6,22.1 273.2,29 273.8,20.7 274.5,26.3 275.1,25.2 275.7,21 276.3,22.1 277,26.8 277.6,25.1 278.2,19.9 278.8,27.3 279.5,29.8 280.1,24.9 280.7,30.8 281.3,28.6 282,29.9 282.6,25.8 283.2,30.6 283.8,12.8 284.5,12.6 285.1,28.9 285.7,24.8 286.3,29.4 287,37.5 287.6,11.5 288.2,23.8 288.8,16.2 289.5,25.9 290.1,25.7 290.7,20.3 291.3,22.8 292,29.4 292.6,16.7 293.2,23.3 293.8,30.4 294.5,28.8 295.1,26.4 295.7,27.8 296.3,31.9 297,29.4 297.6,30.3 298.2,29.6 298.8,25.9 299.5,22.1 300.1,21.6 300.7,19.5 301.3,26.4 302,16.7 302.6,23.1 303.2,25.9 303.8,23.3 304.5,25.4 305.1,16 305.7,27.9 306.3,17.5 307,19.3 307.6,25.9 308.2,29.1 308.8,28.8 309.5,25.4 310.1,26.3 310.7,21.3 311.3,20.5 312,31.2 312.6,27.7 313.2,28.9 313.8,25 314.5,27.3 315.1,27.9 315.7,17.3 316.3,15.2 317,24.7 317.6,24.1 318.2,17.1 318.9,28.8 319.5,28.8 320.1,30 320.7,15.7 321.4,11.2 322,25.1 322.6,27.6 323.2,30.3 323.9,27.7 324.5,27 325.1,28.2 325.7,28 326.4,27.3 327,25.5 327.6,27 328.2,16.6 328.9,23.7 329.5,23.4 330.1,28.1 330.7,11.2 331.4,18.6 332,30.7 332.6,38 333.2,24.8 333.9,25.4 334.5,31.3 335.1,30.3 335.7,31.3 336.4,20.8 337,13.6 337.6,27.7 338.2,16.2 338.9,30 339.5,20.1 340.1,23.6 340.7,26.1 341.4,20.8 342,28.6 342.6,13.1 343.2,24.1 343.9,12.2 344.5,30 345.1,29.5 345.7,27.5 346.4,28.6 347,23.1 347.6,37.4 348.2,25 348.9,29.6 349.5,28.7 350.1,30.1 350.7,28.1 351.4,28.8 352,16.9 352.6,27.5 353.2,28.8 353.9,19 354.5,27.7 355.1,23.6 355.7,25.5 356.4,27.9 357,27.1 357.6,29.8 358.2,19.1 358.9,31.2 359.5,24 360.1,31.9 360.7,20.4 361.4,22.5 362,28.1 362.6,25.4 363.2,29.3 363.9,23.8 364.5,12.4 365.1,15.9 365.7,26.2 366.4,20.5 367,29.4 367.6,27.7 368.2,20.2 368.9,20.2 369.5,20.1 370.1,26.8 370.7,25 371.4,26 372,29.2 372.6,25.4 373.2,22.8 373.9,30.2 374.5,30.8 375.1,25.4 375.7,30.1 376.4,21.6 377,31.4 377.6,27.4 378.2,9 378.9,15 379.5,14.3 380.1,21.4 380.7,19.1 381.4,21.5 382,15 382.6,27.3 383.2,29.2 383.9,28 384.5,27.2 385.1,31.5 385.7,23.1 386.4,25 387,25.4 387.6,31.1 388.2,20.4 388.9,23.7 389.5,30.5 390.1,31.2 390.7,28.6 391.4,29.6 392,16.3 392.6,25.2 393.2,27.8 393.9,25.8 394.5,24.1 395.1,23.4 395.7,27.3 396.4,25.9 397,18.4 397,42.6 0,42.6"/>
<line x1="0.3" y1="27.2" x2="0.3" y2="19.9" stroke="#7ccf7c" stroke-width="0.7"/>
<line x1="18.9" y1="25.8" x2="18.9" y2="23.3" stroke="#7ccf7c" stroke-width="0.7"/>
<line x1="23" y1="30.7" x2="23" y2="26.3" stroke="#7ccf7c" stroke-width="0.7"/>
<line x1="37.8" y1="20.2" x2="37.8" y2="12.7" stroke="#7ccf7c" stroke-width="0.7"/>
<line x1="39.8" y1="27.6" x2="39.8" y2="23.3" stroke="#7ccf7c" stroke-width="0.7"/>
<line x1="47" y1="29.8" x2="47" y2="25.2" stroke="#7ccf7c" stroke-width="0.7"/>
<line x1="52.9" y1="27.2" x2="52.9" y2="19.5" stroke="#7ccf7c" stroke-width="0.7"/>
<line x1="58.6" y1="22.1" x2="58.6" y2="19.3" stroke="#7ccf7c" stroke-width="0.7"/>
<line x1="62.4" y1="29.8" x2="62.4" y2="25.5" stroke="#7ccf7c" stroke-width="0.7"/>
<line x1="65.9" y1="22.6" x2="65.9" y2="20.2" stroke="#7ccf7c" stroke-width="0.7"/>
<line x1="68.1" y1="20.9" x2="68.1" y2="15.3" stroke="#7ccf7c" stroke-width="0.7"/>
<line x1="77.5" y1="27.5" x2="77.5" y2="20.8" stroke="#7ccf7c" stroke-width="0.7"/>
<line x1="80.9" y1="16.1" x2="80.9" y2="7.3" stroke="#7ccf7c" stroke-width="0.7"/>
<line x1="86.8" y1="23.8" x2="86.8" y2="19.8" stroke="#7ccf7c" stroke-width="0.7"/>
<line x1="88.8" y1="28.6" x2="88.8" y2="21.9" stroke="#7ccf7c" stroke-width="0.7"/>
<line x1="92" y1="25.3" x2="92" y2="21.3" stroke="#7ccf7c" stroke-width="0.7"/>
<line x1="96.2" y1="27.8" x2="96.2" y2="19.3" stroke="#7ccf7c" stroke-width="0.7"/>
<line x1="97.9" y1="24.7" x2="97.9" y2="15.6" stroke="#7ccf7c" stroke-width="0.7"/>
<line x1="103.5" y1="20.2" x2="103.5" y2="11.6" stroke="#7ccf7c" stroke-width="0.7"/>
<line x1="109" y1="22.9" x2="109" y2="19.2" stroke="#7ccf7c" stroke-width="0.7"/>
<line x1="116.4" y1="30.5" x2="116.4" y2="25.8" stroke="#7ccf7c" stroke-width="0.7"/>
<line x1="122.1" y1="22.5" x2="122.1" y2="14.4" stroke="#7ccf7c" stroke-width="0.7"/>
<line x1="126.2" y1="25.7" x2="126.2" y2="22.8" stroke="#7ccf7c" stroke-width="0.7"/>
<line x1="133.5" y1="12.1" x2="133.5" y2="7.1" stroke="#7ccf7c" stroke-width="0.7"/>
<line x1="136.9" y1="29.2" x2="136.9" y2="24.1" stroke="#7ccf7c" stroke-width="0.7"/>
<line x1="142.7" y1="18" x2="142.7" y2="12.5" stroke="#7ccf7c" stroke-width="0.7"/>
<line x1="146.7" y1="28" x2="146.7" y2="23.7" stroke="#7ccf7c" stroke-width="0.7"/>
<line x1="148.4" y1="16.6" x2="148.4" y2="10.4" stroke="#7ccf7c" stroke-width="0.7"/>
<line x1="150.3" y1="21.9" x2="150.3" y2="16.4" stroke="#7ccf7c" stroke-width="0.7"/>
<line x1="152" y1="6.6" x2="152" y2="1.3" stroke="#7ccf7c" stroke-width="0.7"/>
<line x1="157.7" y1="23.9" x2="157.7" y2="14.7" stroke="#7ccf7c" stroke-width="0.7"/>
<line x1="159.5" y1="25.7" x2="159.5" y2="17.4" stroke="#7ccf7c" stroke-width="0.7"/>
<line x1="163.5" y1="14.8" x2="163.5" y2="5.9" stroke="#7ccf7c" stroke-width="0.7"/>
<line x1="169.1" y1="19.8" x2="169.1" y2="12.9" stroke="#7ccf7c" stroke-width="0.7"/>
<line x1="171.1" y1="29.6" x2="171.1" y2="24.9" stroke="#7ccf7c" stroke-width="0.7"/>
<line x1="176.6" y1="22.6" x2="176.6" y2="19.8" stroke="#7ccf7c" stroke-width="0.7"/>
<line x1="180.5" y1="25.1" x2="180.5" y2="16.1" stroke="#7ccf7c" stroke-width="0.7"/>
<line x1="182.4" y1="21.3" x2="182.4" y2="12.6" stroke="#7ccf7c" stroke-width="0.7"/>
<line x1="189.5" y1="20" x2="189.5" y2="15.6" stroke="#7ccf7c" stroke-width="0.7"/>
<line x1="200.9" y1="10.4" x2="200.9" y2="8.1" stroke="#7ccf7c" stroke-width="0.7"/>
<line x1="221.6" y1="17.6" x2="221.6" y2="12.9" stroke="#7ccf7c" stroke-width="0.7"/>
<line x1="230.8" y1="6.5" x2="230.8" y2="1.3" stroke="#7ccf7c" stroke-width="0.7"/>
<line x1="232.6" y1="31.8" x2="232.6" y2="25.9" stroke="#7ccf7c" stroke-width="0.7"/>
<line x1="234.5" y1="27.3" x2="234.5" y2="23.3" stroke="#7ccf7c" stroke-width="0.7"/>
<line x1="240.7" y1="28.9" x2="240.7" y2="23.4" stroke="#7ccf7c" stroke-width="0.7"/>
<line x1="242.3" y1="26.3" x2="242.3" y2="20.7" stroke="#7ccf7c" stroke-width="0.7"/>
<line x1="253.8" y1="20" x2="253.8" y2="15.5" stroke="#7ccf7c" stroke-width="0.7"/>
<line x1="255.5" y1="19.8" x2="255.5" y2="16.2" stroke="#7ccf7c" stroke-width="0.7"/>
<line x1="265.1" y1="21" x2="265.1" y2="12.2" stroke="#7ccf7c" stroke-width="0.7"/>
<line x1="273.9" y1="20.7" x2="273.9" y2="18.2" stroke="#7ccf7c" stroke-width="0.7"/>
<line x1="277.7" y1="25.1" x2="277.7" y2="18.9" stroke="#7ccf7c" stroke-width="0.7"/>
<line x1="290.9" y1="20.3" x2="290.9" y2="14.5" stroke="#7ccf7c" stroke-width="0.7"/>
<line x1="298.6" y1="29.6" x2="298.6" y2="23.4" stroke="#7ccf7c" stroke-width="0.7"/>
<line x1="310" y1="25.4" x2="310" y2="16.2" stroke="#7ccf7c" stroke-width="0.7"/>
<line x1="315.4" y1="27.9" x2="315.4" y2="18.8" stroke="#7ccf7c" stroke-width="0.7"/>
<line x1="322.8" y1="27.6" x2="322.8" y2="21" stroke="#7ccf7c" stroke-width="0.7"/>
<line x1="338.1" y1="27.7" x2="338.1" y2="24.9" stroke="#7ccf7c" stroke-width="0.7"/>
<line x1="339.7" y1="20.1" x2="339.7" y2="11.9" stroke="#7ccf7c" stroke-width="0.7"/>
<line x1="349.3" y1="29.6" x2="349.3" y2="22.8" stroke="#7ccf7c" stroke-width="0.7"/>
<line x1="358.7" y1="19.1" x2="358.7" y2="11.6" stroke="#7ccf7c" stroke-width="0.7"/>
<line x1="362.4" y1="28.1" x2="362.4" y2="23.3" stroke="#7ccf7c" stroke-width="0.7"/>
<line x1="366.2" y1="26.2" x2="366.2" y2="19.5" stroke="#7ccf7c" stroke-width="0.7"/>
<line x1="370" y1="20.1" x2="370" y2="11.5" stroke="#7ccf7c" stroke-width="0.7"/>
<line x1="375.4" y1="25.4" x2="375.4" y2="17.5" stroke="#7ccf7c" stroke-width="0.7"/>
<line x1="383" y1="27.3" x2="383" y2="24.7" stroke="#7ccf7c" stroke-width="0.7"/>
<line x1="384.9" y1="27.2" x2="384.9" y2="20.3" stroke="#7ccf7c" stroke-width="0.7"/>
<line x1="386.5" y1="25" x2="386.5" y2="15.7" stroke="#7ccf7c" stroke-width="0.7"/>
<line x1="388.3" y1="20.4" x2="388.3" y2="16.4" stroke="#7ccf7c" stroke-width="0.7"/>
<line x1="392.2" y1="16.3" x2="392.2" y2="7.3" stroke="#7ccf7c" stroke-width="0.7"/>
<line x1="396.2" y1="27.3" x2="396.2" y2="25.2" stroke="#7ccf7c" stroke-width="0.7"/>
<polygon fill="#5c5ce0" points="0,40 2,39.8 4,38.8 6,39.5 8,41 10,39.9 12,40.4 14,40.9 16,40 18,39.6 20,40.4 22,38.8 24,39.3 26,39.3 28,40.6 30,40.4 32,40.5 34,40.1 36,40 38,40.9 40,40.7 42,39.7 44,40.1 46,38.2 48,39.8 50,40.5 52,40.6 54,40.7 56,40.7 58,39.7 60,40.5 62,40.5 64,39.7 66,39.9 68,38.5 70,41 72,39.2 74,39.7 76,40.6 78,40.9 80,41 82,41 84,39.3 86,40 88,39.8 90,40 92,39.7 94,40.2 96,40.9 98,40.9 100,40.8 102,40.2 104,40.2 106,40 108,39.6 110,39.2 112,40.8 114,40.8 116,38.7 118,39.2 120,40.5 122,40.9 124,40.5 126,37.4 128,39.6 130,39.9 132,39.8 134,39.9 136,40.5 138,40.8 140,40.5 142,40.5 144,40.3 146,40.7 148,39.8 150,40.2 152,39.4 154,40.6 156,40.9 158,40.4 160,40.7 162,40.2 164,39.6 166,40.8 168,39.5 170,39.3 172,39 174,39.4 176,40.8 178,38.1 180,40.7 182,41 184,40.8 186,40.3 188,40.6 190,40.2 192,39.8 194,39 196,39.5 198,40.2 200,40.1 202,40.9 204,40.7 206,40.5 208,40.1 210,39.7 212,39.2 214,40 216,38.3 218,40.4 220,40.3 222,40.1 224,40.2 226,39.5 228,40 230,40.2 232,40 234,39.7 236,39.4 238,39.6 240,40.6 242,40.3 244,40.9 246,40.9 248,39.9 250,40.4 252,40.1 254,38.7 256,39.4 258,39.6 260,40 262,40.1 264,40.3 266,40.7 268,38 270,40.7 272,39.2 274,38 276,39.9 278,39.8 280,40.5 282,40.1 284,40.1 286,39.7 288,40.5 290,40 292,40.8 294,38.8 296,39.2 298,39.1 300,39.1 302,39.3 304,38.2 306,39.8 308,39.5 310,40.7 312,40.5 314,40.5 316,39.4 318,39.5 320,39.9 322,40.8 324,40.4 326,39.7 328,40.2 330,39.4 332,40.3 334,41 336,39.4 338,39.6 340,39.2 342,38.9 344,40 346,40.5 348,39.7 350,40.9 352,40.9 354,39.7 356,41 358,39.3 360,39.8 362,39.3 364,39.9 366,39.3 368,40.9 370,40.3 372,40.4 374,40 376,40.4 378,39.3 380,38.7 382,39.1 384,39.3 386,40.5 388,40.6 390,40.7 392,40.7 394,39 396,40.8 398,40.1 397,42.6 0,42.6"/>
<line x1="318.8" y1="0" x2="318.8" y2="42.6" stroke="#fff" stroke-width="1"/>
</svg>
<rect x="90.3" y="325" width="397" height="42.6" fill="none" stroke="#5a5a5a" stroke-width="1.3"/>
<polyline fill="none" stroke="#f5ec1a" stroke-width="2.8" stroke-linejoin="round" points="92,300.4 105.1,300.4 118.2,273.8 131.3,241 144.3,214.7 157.4,247 170.5,240.3 183.6,293.5 196.7,293.5 209.8,227.2 222.9,260.1 236,267.3 249,253.4 262.1,280.4 275.2,267.3 288.3,260.1 301.4,253.4 314.5,267.3 327.6,247 340.6,227.9 353.7,220.7 366.8,260.1 379.9,267.3 393,280.4 406.1,260.1 419.2,247 432.3,247 445.3,247 458.4,293.5 471.5,306.6 484.6,306.6"/>
<circle cx="92" cy="300.4" r="4.6" fill="#ffff14" stroke="#8f9a2a" stroke-width="0.9"/>
<circle cx="105.1" cy="300.4" r="4.6" fill="#ffff14" stroke="#8f9a2a" stroke-width="0.9"/>
<circle cx="118.2" cy="273.8" r="4.6" fill="#ffff14" stroke="#8f9a2a" stroke-width="0.9"/>
<circle cx="131.3" cy="241" r="4.6" fill="#ffff14" stroke="#8f9a2a" stroke-width="0.9"/>
<circle cx="144.3" cy="214.7" r="4.6" fill="#ffff14" stroke="#8f9a2a" stroke-width="0.9"/>
<circle cx="157.4" cy="247" r="4.6" fill="#ffff14" stroke="#8f9a2a" stroke-width="0.9"/>
<circle cx="170.5" cy="240.3" r="4.6" fill="#ffff14" stroke="#8f9a2a" stroke-width="0.9"/>
<circle cx="183.6" cy="293.5" r="4.6" fill="#ffff14" stroke="#8f9a2a" stroke-width="0.9"/>
<circle cx="196.7" cy="293.5" r="4.6" fill="#ffff14" stroke="#8f9a2a" stroke-width="0.9"/>
<circle cx="209.8" cy="227.2" r="4.6" fill="#ffff14" stroke="#8f9a2a" stroke-width="0.9"/>
<circle cx="222.9" cy="260.1" r="4.6" fill="#ffff14" stroke="#8f9a2a" stroke-width="0.9"/>
<circle cx="236" cy="267.3" r="4.6" fill="#ffff14" stroke="#8f9a2a" stroke-width="0.9"/>
<circle cx="249" cy="253.4" r="4.6" fill="#ffff14" stroke="#8f9a2a" stroke-width="0.9"/>
<circle cx="262.1" cy="280.4" r="4.6" fill="#ffff14" stroke="#8f9a2a" stroke-width="0.9"/>
<circle cx="275.2" cy="267.3" r="4.6" fill="#ffff14" stroke="#8f9a2a" stroke-width="0.9"/>
<circle cx="288.3" cy="260.1" r="4.6" fill="#ffff14" stroke="#8f9a2a" stroke-width="0.9"/>
<circle cx="301.4" cy="253.4" r="4.6" fill="#ffff14" stroke="#8f9a2a" stroke-width="0.9"/>
<circle cx="314.5" cy="267.3" r="4.6" fill="#ffff14" stroke="#8f9a2a" stroke-width="0.9"/>
<circle cx="327.6" cy="247" r="4.6" fill="#ffff14" stroke="#8f9a2a" stroke-width="0.9"/>
<circle cx="340.6" cy="227.9" r="4.6" fill="#ffff14" stroke="#8f9a2a" stroke-width="0.9"/>
<circle cx="353.7" cy="220.7" r="4.6" fill="#ffff14" stroke="#8f9a2a" stroke-width="0.9"/>
<circle cx="366.8" cy="260.1" r="4.6" fill="#ffff14" stroke="#8f9a2a" stroke-width="0.9"/>
<circle cx="379.9" cy="267.3" r="4.6" fill="#ffff14" stroke="#8f9a2a" stroke-width="0.9"/>
<circle cx="393" cy="280.4" r="4.6" fill="#ffff14" stroke="#8f9a2a" stroke-width="0.9"/>
<circle cx="406.1" cy="260.1" r="4.6" fill="#ffff14" stroke="#8f9a2a" stroke-width="0.9"/>
<circle cx="419.2" cy="247" r="4.6" fill="#ffff14" stroke="#8f9a2a" stroke-width="0.9"/>
<circle cx="432.3" cy="247" r="4.6" fill="#ffff14" stroke="#8f9a2a" stroke-width="0.9"/>
<circle cx="445.3" cy="247" r="4.6" fill="#ffff14" stroke="#8f9a2a" stroke-width="0.9"/>
<circle cx="458.4" cy="293.5" r="4.6" fill="#ffff14" stroke="#8f9a2a" stroke-width="0.9"/>
<circle cx="471.5" cy="306.6" r="4.6" fill="#ffff14" stroke="#8f9a2a" stroke-width="0.9"/>
<circle cx="484.6" cy="306.6" r="4.6" fill="#ffff14" stroke="#8f9a2a" stroke-width="0.9"/>
<rect x="80" y="398.4" width="461" height="233" fill="#fff"/>
<rect x="540.5" y="402.4" width="1.8" height="230" fill="#8a8a8a"/>
<rect x="80.5" y="631.6" width="462" height="1.8" fill="#8c8c8c"/>
<rect x="89.5" y="400" width="144" height="13.6" fill="#fcfcfc" stroke="#e0e0e0" stroke-width="0.8" rx="1.5"/>
<text x="93.6" y="409" font-size="6.1" font-weight="bold" fill="#333" textLength="111" lengthAdjust="spacingAndGlyphs">15 November, 2019 - 14 December, 2019</text>
<text x="225.5" y="409" font-size="6" fill="#aaa">&#9660;</text>
<rect x="415.8" y="400.5" width="52.2" height="10.6" fill="#f6f6f6" stroke="#d0d0d0" stroke-width="0.8"/>
<text x="419.8" y="408.2" font-size="6.4" fill="#333" textLength="44.2" lengthAdjust="spacingAndGlyphs">Download CSV</text>
<rect x="471.3" y="400.5" width="24.2" height="10.6" fill="#f6f6f6" stroke="#d0d0d0" stroke-width="0.8"/>
<text x="474.9" y="408.2" font-size="6.4" fill="#333" textLength="16.9" lengthAdjust="spacingAndGlyphs">Reset</text>
<circle cx="504.3" cy="424" r="2.5" fill="#e4e4e4" stroke="#c4c4c4" stroke-width="0.6"/>
<circle cx="504.3" cy="424" r="1.3" fill="#444"/>
<text x="508.6" y="426.8" font-size="7.9" fill="#3a3a3a">Both</text>
<circle cx="504.3" cy="433.6" r="2.5" fill="#e4e4e4" stroke="#c4c4c4" stroke-width="0.6"/>
<text x="508.6" y="436.4" font-size="7.9" fill="#3a3a3a">Humans</text>
<circle cx="504.3" cy="443.2" r="2.5" fill="#e4e4e4" stroke="#c4c4c4" stroke-width="0.6"/>
<text x="508.6" y="446" font-size="7.9" fill="#3a3a3a">Bots</text>
<rect x="90.3" y="417.6" width="397" height="42.8" fill="#fff"/>
<line x1="130.4" y1="417.6" x2="130.4" y2="460.4" stroke="#e4e4e4" stroke-width="0.8"/>
<line x1="170" y1="417.6" x2="170" y2="460.4" stroke="#e4e4e4" stroke-width="0.8"/>
<line x1="209.5" y1="417.6" x2="209.5" y2="460.4" stroke="#e4e4e4" stroke-width="0.8"/>
<line x1="249.1" y1="417.6" x2="249.1" y2="460.4" stroke="#e4e4e4" stroke-width="0.8"/>
<line x1="288.6" y1="417.6" x2="288.6" y2="460.4" stroke="#e4e4e4" stroke-width="0.8"/>
<line x1="328.1" y1="417.6" x2="328.1" y2="460.4" stroke="#e4e4e4" stroke-width="0.8"/>
<line x1="367.7" y1="417.6" x2="367.7" y2="460.4" stroke="#e4e4e4" stroke-width="0.8"/>
<line x1="407.2" y1="417.6" x2="407.2" y2="460.4" stroke="#e4e4e4" stroke-width="0.8"/>
<line x1="446.8" y1="417.6" x2="446.8" y2="460.4" stroke="#e4e4e4" stroke-width="0.8"/>
<svg x="90.3" y="417.6" width="397" height="42.8" overflow="hidden">
<polyline fill="none" stroke="#1f1fe0" stroke-width="1.8" stroke-linejoin="round" points="0,26 1,33.9 2.1,31.6 3.1,15.8 4.2,38.3 5.2,14.8 6.3,20.5 7.3,22.9 8.4,25.3 9.4,27.5 10.4,20.8 11.5,1.7 12.5,27 13.6,29 14.6,27.6 15.7,25 16.7,39.2 17.8,31.6 18.8,30.4 19.9,27.9 20.9,7.5 21.9,24.6 23,23.6 24,18.8 25.1,26.3 26.1,28.5 27.2,25.1 28.2,23.9 29.3,23.9 30.3,26.1 31.3,12.3 32.4,16.1 33.4,24.6 34.5,30.5 35.5,25.2 36.6,15.3 37.6,2.9 38.7,25.6 39.7,27.1 40.7,28 41.8,3.4 42.8,20.8 43.9,35.6 44.9,28.3 46,38.6 47,28.9 48.1,25.2 49.1,19.1 50.1,17.6 51.2,27.9 52.2,40.9 53.3,14.8 54.3,29.1 55.4,18.6 56.4,32.2 57.5,28.2 58.5,28.2 59.5,24.8 60.6,9.5 61.6,26.5 62.7,1.7 63.7,16.5 64.8,22 65.8,28.3 66.9,17.1 67.9,29.6 69,29.1 70,21.7 71,19 72.1,22.6 73.1,19.2 74.2,21.7 75.2,22.8 76.3,16.9 77.3,21.1 78.4,21.6 79.4,26.3 80.4,22.1 81.5,34.3 82.5,36.3 83.6,27.5 84.6,27.4 85.7,24.5 86.7,26.1 87.8,24.9 88.8,18.2 89.8,13.3 90.9,6.5 91.9,32.7 93,31.4 94,37.8 95.1,31.7 96.1,27.6 97.2,39.1 98.2,25.8 99.2,29.4 100.3,24.7 101.3,20.2 102.4,1.8 103.4,22.1 104.5,34.7 105.5,30.2 106.6,23.2 107.6,34 108.7,29.1 109.7,33.9 110.7,35.1 111.8,25.5 112.8,18.1 113.9,13.4 114.9,21.5 116,23.3 117,28.4 118.1,23.6 119.1,22.8 120.1,33.9 121.2,36.8 122.2,30.9 123.3,28 124.3,33.8 125.4,35.7 126.4,21.7 127.5,23.4 128.5,8.7 129.5,20.2 130.6,10.9 131.6,37.3 132.7,39 133.7,27.9 134.8,32.5 135.8,29.9 136.9,35.2 137.9,20.8 138.9,14.8 140,19.7 141,1.7 142.1,7.6 143.1,18.7 144.2,22.3 145.2,22.5 146.3,28.3 147.3,38.1 148.4,33.2 149.4,35.1 150.4,26.9 151.5,24.1 152.5,30.5 153.6,27.7 154.6,19.4 155.7,20.5 156.7,14.3 157.8,35.3 158.8,33.5 159.8,31.1 160.9,30.9 161.9,26 163,27.3 164,21.4 165.1,30.7 166.1,18.9 167.2,21.9 168.2,17.9 169.2,24.4 170.3,30.4 171.3,29.1 172.4,27.6 173.4,26.1 174.5,32.9 175.5,31.4 176.6,28 177.6,31.9 178.7,27.8 179.7,26.5 180.7,18.4 181.8,27.4 182.8,27.2 183.9,33.4 184.9,37 186,31.8 187,32.2 188.1,32.6 189.1,32 190.1,25 191.2,29.9 192.2,18.6 193.3,18.1 194.3,26.8 195.4,22.6 196.4,23.7 197.5,33 198.5,16.9 199.5,24 200.6,25.4 201.6,33 202.7,28.5 203.7,20.7 204.8,24.4 205.8,16.1 206.9,19.1 207.9,16.5 208.9,21.9 210,24.2 211,20 212.1,31.8 213.1,38.2 214.2,34.6 215.2,27.7 216.3,28.8 217.3,29.5 218.3,23.4 219.4,18.7 220.4,25.9 221.5,24.9 222.5,25 223.6,28.6 224.6,17.4 225.7,16.3 226.7,34 227.8,33.8 228.8,23.7 229.8,26.9 230.9,25.6 231.9,21.7 233,15.9 234,8.3 235.1,31.5 236.1,30.3 237.2,23.8 238.2,34.8 239.2,23.6 240.3,23.7 241.3,34.1 242.4,33.3 243.4,25.8 244.5,24.1 245.5,22.3 246.6,17.2 247.6,6.1 248.6,25 249.7,33.8 250.7,25.8 251.8,32.4 252.8,31.6 253.9,27.6 254.9,18.7 256,19.4 257,26.6 258.1,29.3 259.1,19.8 260.1,15.4 261.2,22.9 262.2,32.3 263.3,30.5 264.3,26.4 265.4,34.7 266.4,25.5 267.5,23.5 268.5,17.1 269.5,26.1 270.6,18.4 271.6,22.9 272.7,23.6 273.7,24 274.8,29.5 275.8,21.6 276.9,35.2 277.9,35.5 278.9,30.4 280,33.2 281,16.1 282.1,28.1 283.1,23.7 284.2,15.4 285.2,24.5 286.3,21.6 287.3,33.4 288.3,29.6 289.4,31.8 290.4,39.4 291.5,29.1 292.5,31.7 293.6,33.3 294.6,29.6 295.7,8.6 296.7,28 297.8,24.5 298.8,26.3 299.8,19.2 300.9,26.1 301.9,34.8 303,33 304,29.6 305.1,25.8 306.1,37.3 307.2,22.8 308.2,18.3 309.2,16.9 310.3,20.1 311.3,21.3 312.4,20.8 313.4,17.1 314.5,20.4 315.5,22.8 316.6,28.5 317.6,25.6 318.6,34.7 319.7,27.4 320.7,17.3 321.8,28.4 322.8,24.8 323.9,17.5 324.9,19.6 326,31.6 327,29 328,40.8 329.1,32.9 330.1,28.6 331.2,21.4 332.2,28.9 333.3,23.9 334.3,18.8 335.4,19.8 336.4,16.6 337.4,19.4 338.5,18.3 339.5,31.3 340.6,31.5 341.6,37.7 342.7,32.9 343.7,26.9 344.8,34.8 345.8,28.2 346.9,30.9 347.9,25.4 348.9,21.3 350,15 351,22.4 352.1,20.7 353.1,26.8 354.2,33.5 355.2,37.4 356.3,33.1 357.3,29 358.3,22.9 359.4,27.9 360.4,28.6 361.5,22.7 362.5,17.9 363.6,27.7 364.6,21.5 365.7,29.2 366.7,32.6 367.7,34.3 368.8,29.1 369.8,37.2 370.9,29.9 371.9,39.6 373,29.6 374,23.9 375.1,41.7 376.1,22.2 377.1,25.4 378.2,25.6 379.2,30.4 380.3,34.3 381.3,37.7 382.4,31 383.4,29.3 384.5,28.9 385.5,31.5 386.6,17.9 387.6,16.3 388.6,3.3 389.7,14.6 390.7,20.7 391.8,29.2 392.8,34.7 393.9,24.3 394.9,24.6 396,30.4 397,27.2"/>
<line x1="0" y1="41.8" x2="397" y2="41.8" stroke="#c42a2a" stroke-width="1.3"/>
</svg>
<rect x="90.3" y="417.6" width="397" height="42.8" fill="none" stroke="#5a5a5a" stroke-width="1.3"/>
<svg x="90.4" y="467.3" width="396.8" height="109.4" overflow="hidden">
<rect x="0" y="0" width="396.8" height="109.4" fill="#0202ee"/>
<polygon fill="#6666f8" points="0,21.1 0.5,19.9 1,14.4 1.5,16.3 2,12.3 2.5,18.8 3,24.8 3.5,12.8 4,12.1 4.5,13.5 5,21 5.5,20.1 6,14.9 6.5,22.5 7,28.5 7.5,21.5 8,26.8 8.5,26.4 9,21.6 9.5,26.4 10,26.7 10.5,21.7 11,19 11.5,24 12,24.7 12.5,29.5 13,14.5 13.5,23 14,18.7 14.5,19.8 15,13.4 15.5,11.4 16,31.3 16.5,23.3 17,16.7 17.5,17.2 18,15.7 18.5,10.8 19,14.4 19.5,28.7 20,22.7 20.5,29.1 21,18.5 21.5,23.8 22,23.4 22.5,19.6 23,23.4 23.5,28.9 24,32.9 24.5,21.8 25,20.5 25.5,27.4 26,20.3 26.5,19.7 27,14.1 27.5,26.7 28,23.9 28.5,19.5 29,18.1 29.5,14 30,27.5 30.5,18 31,11.5 31.5,12.8 32,25.2 32.5,23.5 33,22.2 33.5,19.8 34,26.4 34.5,19.6 35,26.5 35.5,25.7 36,22 36.5,22.8 37,28.2 37.5,32.1 38,22.8 38.5,23.6 39,32.7 39.5,25.7 40,15.2 40.5,23.4 41,19.7 41.5,14.9 42,13.7 42.5,13.6 43,25.7 43.5,11.7 44,12.2 44.5,12.3 45,13.9 45.5,22.7 46,21.1 46.5,29.7 47,26.7 47.5,30.7 48,28.3 48.5,27.4 49,23.2 49.5,29.2 50,20.1 50.5,26.3 51,22.9 51.5,14.7 52,18 52.5,24.7 53,15 53.5,19.9 54,24 54.5,23.5 55,19.7 55.5,19.2 56,16.8 56.5,12.2 57,15.9 57.5,17.1 58,14.8 58.5,22.1 59,24 59.5,27.4 60,22.6 60.5,22 61,26.2 61.5,27.2 62,24.5 62.5,30.2 63,26.8 63.5,21.1 64,28 64.5,15.6 65,31.6 65.5,27.4 66,35.1 66.5,16.7 67,9.2 67.5,29.6 68,21.6 68.5,17 69,15 69.5,15.6 70,21.6 70.5,10.5 71,11.5 71.5,18.7 72,25.9 72.5,20.2 73,26 73.5,25.1 74,25 74.5,35.3 75,33.9 75.5,28.9 76,27.1 76.5,27.4 77,24.9 77.5,23.9 78,24.2 78.5,17.2 79,12.8 79.5,18.6 80,26.1 80.5,15.4 81,9.7 81.5,9.4 82,13.5 82.5,15.6 83,22.1 83.5,16.5 84,25.5 84.5,25.6 85,28.8 85.5,14.8 86,15.3 86.5,25.5 87,29.2 87.5,24.5 88,23.7 88.5,19.2 89,22.1 89.5,25.5 90,19.7 90.5,28.4 91,25.7 91.5,21.7 92,26.8 92.5,22.2 93,20.9 93.5,25.6 94,30 94.5,24.9 95,22.3 95.5,21.2 96,21.5 96.5,18 97,16.1 97.5,23.4 98,26.7 98.5,33.6 99,29.9 99.5,23.9 100,24.9 100.5,24.3 101,30.4 101.5,21.7 102,25.3 102.5,26.3 103,21.3 103.5,23.5 104,24.1 104.5,28.1 105,23.7 105.5,23.8 106,20.1 106.5,10.8 107,8.8 107.5,15 108,10.3 108.5,6.9 109,7.5 109.5,12.3 110,17.8 110.5,16.8 111,17.7 111.5,16.3 112,16.8 112.5,29.2 113,25.6 113.5,21.4 114,28.6 114.5,17.9 115,20.9 115.5,22.5 116,13.5 116.5,14.7 117,22.1 117.5,25.4 118,20.2 118.5,11.9 119,15.2 119.5,14.2 120,20.8 120.5,18.9 121,17.3 121.5,15.1 122,13.1 122.5,23.5 123,13.1 123.5,13.6 124,19.3 124.5,28 125,19.6 125.5,13.5 126,14.9 126.5,19 127,28.4 127.5,15.8 128,25.9 128.5,25.1 129,29.5 129.5,28.7 130,28 130.5,21.4 131,24.5 131.5,23.7 132,19.2 132.5,23 133,17 133.5,24.8 134,22.4 134.5,16 135,21.3 135.5,24.2 136,16.5 136.5,15.1 137,20.2 137.5,20.9 138,20.2 138.5,21.4 139,30.6 139.5,28.9 140,27.8 140.5,25.7 141,25 141.5,23 142,30.9 142.5,23.3 143,24.5 143.5,19.4 144,23.7 144.5,17.9 145,9.5 145.5,22.4 146,25.5 146.5,25.7 147,28.6 147.5,25.6 148,16 148.5,17.5 149,23.8 149.5,27.3 150,17.6 150.5,20.3 151,21.3 151.5,20.8 152,15.8 152.5,15.8 153,21.8 153.5,22.2 154,24 154.5,17.9 155,21.3 155.5,32.5 156,28.5 156.5,21.9 157,24.6 157.5,28.4 158,30.1 158.5,24.4 159,27.4 159.5,18 160,14.9 160.5,21.3 161,13.7 161.5,12.7 162,21.3 162.5,11 163,14.1 163.5,15.9 164,28.1 164.5,22.2 165,23.9 165.5,22.3 166,23 166.5,19 167,30.5 167.5,25.6 168,27.7 168.5,28.4 169,28.3 169.5,18.6 170,22.3 170.5,19.8 171,19.9 171.5,21 172,19.6 172.5,17.3 173,17.6 173.5,15.8 174,7.8 174.5,15.8 175,11.7 175.5,10.9 176,18.7 176.5,18.1 177,27.4 177.5,19.9 178,25.8 178.5,33.4 179,24.9 179.5,32.5 180,23.6 180.5,32.7 181,29.9 181.5,24.5 182,25.4 182.5,24.3 183,26.6 183.5,22.8 184,15 184.5,14.5 185,25.5 185.5,17.4 186,17.5 186.5,26.1 187,13.4 187.5,8.1 188,11.8 188.5,19 189,10.8 189.5,23.2 190,18.3 190.5,26.6 191,24.6 191.5,30.2 192,31.2 192.5,22.2 193,20.1 193.5,17.2 194,17.3 194.5,23.3 195,34.4 195.5,31.3 196,31.5 196.5,31 197,21.9 197.5,20.2 198,21.5 198.5,24.9 199,25.8 199.5,20.7 200,16.8 200.5,15 201,20.8 201.5,27.5 202,15.7 202.5,20.1 203,19.2 203.5,31.7 204,28.6 204.5,32.6 205,35.7 205.5,30.2 206,27.6 206.5,21.1 207,17.8 207.5,30 208,32.2 208.5,25.1 209,19.7 209.5,19.7 210,25.2 210.5,19.7 211,17.6 211.5,18.2 212,19.8 212.5,16.6 213,15.4 213.5,21.5 214,25.9 214.5,20.1 215,20.7 215.5,21.8 216,20.5 216.5,25.3 217,23.7 217.5,26.5 218,17.7 218.5,17.6 219,21.8 219.5,15.9 220,17.6 220.5,28 221,27.9 221.5,20.7 222,25 222.5,19.8 223,24.2 223.5,16.2 224,12.9 224.5,15.7 225,16.9 225.5,19.4 226,15.5 226.5,23.5 227,11.1 227.5,20.1 228,23.9 228.5,20.9 229,27.2 229.5,23 230,19.6 230.5,30.9 231,26.7 231.5,23.8 232,28 232.5,31.9 233,31.7 233.5,26 234,20.9 234.5,26 235,32.5 235.5,24.9 236,23.2 236.5,16.3 237,20.7 237.5,23.1 238,24.2 238.5,18 239,5.8 239.5,6.8 240,9.9 240.5,9.9 241,21 241.5,21.1 242,20.6 242.5,24.2 243,24 243.5,23.2 244,27.9 244.5,28.8 245,36.1 245.5,26.3 246,23.9 246.5,20.4 247,24.3 247.5,37.5 248,29.8 248.5,23.4 249,17.2 249.5,15.1 250,12.1 250.5,14.2 251,19.8 251.5,15.9 252,12.1 252.5,22.3 253,17.2 253.5,20 254,16.8 254.5,17 255,26.7 255.5,31.5 256,21.7 256.5,19.1 257,15.9 257.5,28.2 258,22.6 258.5,18.2 259,18.5 259.5,25.7 260,23.7 260.5,24.2 261,19.3 261.5,13.5 262,20.2 262.5,24.5 263,10.9 263.5,23.7 264,19.7 264.5,17.4 265,10.1 265.5,8.8 266,16 266.5,13.9 267,10.1 267.5,18.3 268,23.7 268.5,21.3 269,19.2 269.5,24.1 270,32.6 270.5,30.3 271,26.7 271.5,22.6 272,13.7 272.5,25.7 273,20.1 273.5,21.7 274,34 274.5,28.9 275,20.1 275.5,20.5 276,18.3 276.5,14.6 277,22.3 277.5,14 278,11.2 278.5,13.9 279,8.7 279.5,13.7 280,9.6 280.5,8.8 281,15.9 281.5,23.3 282,21.4 282.5,25.8 283,25.5 283.5,27.7 284,21.5 284.5,30.6 285,27.7 285.5,19.1 286,26.1 286.5,17.6 287,24.2 287.5,19.3 288,22.4 288.5,17.8 289,17 289.5,24.4 290,25.8 290.5,11.9 291,13.3 291.5,17.6 292,19.6 292.5,11.8 293,17.5 293.5,21.2 294,14.6 294.5,21.7 295,24.2 295.5,21.9 296,27.9 296.5,21.1 297,20.2 297.5,30 298,32.7 298.5,30.5 299,34.3 299.5,26.1 300,33.7 300.5,22 301,12.6 301.5,23.8 302,17.9 302.5,27.3 303,17.7 303.5,18.6 304,12.9 304.5,12.9 305,10.1 305.5,13 306,17.8 306.5,20.2 307,21.8 307.5,26.5 308,27.2 308.5,37.9 309,30.5 309.5,19.1 310,25.6 310.5,28.9 311,24.8 311.5,29.9 312,31.1 312.5,32.3 313,25.1 313.5,22.9 314,20.7 314.5,23.8 315,23.4 315.5,16.8 316,18 316.5,18.8 317,27.1 317.5,18.2 318,7.5 318.5,18.6 319,17.4 319.5,15.6 320,23.1 320.5,28.7 321,29 321.5,27.4 322,17 322.5,19.8 323,19.4 323.5,29.3 324,24.4 324.5,22.2 325,16 325.5,29.4 326,24 326.5,30.3 327,25.6 327.5,20.5 328,21.1 328.5,18.1 329,19.5 329.5,30.6 330,22.4 330.5,24 331,25.2 331.5,18.7 332,14.9 332.5,19.8 333,16.2 333.5,23.5 334,27 334.5,18.7 335,20 335.5,20 336,29.3 336.5,19.2 337,21 337.5,23.6 338,22.1 338.5,18.6 339,29.4 339.5,25.5 340,28 340.5,15.8 341,21.3 341.5,24.8 342,28.9 342.5,22 343,24.4 343.5,20.9 344,19.5 344.5,19.5 345,20.5 345.5,20.4 346,23 346.5,27.2 347,24.8 347.5,21.7 348,29.2 348.5,28.1 349,28.7 349.5,19 350,30 350.5,25.9 351,21.3 351.5,24.1 352,17 352.5,25 353,18.3 353.5,25.1 354,26.2 354.5,12.7 355,10.5 355.5,16.2 356,17.8 356.5,13.1 357,21.2 357.5,11.3 358,15.5 358.5,13.7 359,16.7 359.5,31.2 360,27.6 360.5,23.2 361,25.9 361.5,27.2 362,24.7 362.5,23.8 363,25.6 363.5,25.8 364,23.4 364.5,15.1 365,22.3 365.5,15.7 366,11.1 366.5,10 367,14 367.5,10.3 368,10.4 368.5,20.7 369,19.7 369.5,13.7 370,12 370.5,3.3 371,9.1 371.5,18.1 372,25.4 372.5,19.5 373,25.8 373.5,30.9 374,30.5 374.5,39.1 375,26.7 375.5,26.8 376,14.6 376.5,24.5 377,27.5 377.5,21 378,23.8 378.5,25.3 379,25.4 379.5,23 380,12 380.5,10.3 381,13.4 381.5,21.5 382,25.5 382.5,19 383,15 383.5,21.8 384,14.9 384.5,16.9 385,13.6 385.5,24.1 386,23.5 386.5,26.5 387,25.1 387.5,33.9 388,20.7 388.5,17.2 389,24.4 389.5,27 390,23.9 390.5,15.6 391,17.4 391.5,26.2 392,29.4 392.5,27 393,16.1 393.5,6.7 394,16.4 394.5,21.6 395,23.2 395.5,26.4 396,12.8 396,109.4 0,109.4"/>
<polygon fill="#959598" points="0,50 0.5,40 1,43.4 1.5,43.2 2,38.2 2.5,42 3,40.8 3.5,35.6 4,37.6 4.5,31.1 5,35.1 5.5,45.4 6,31.7 6.5,41.9 7,41.5 7.5,49.7 8,52.8 8.5,46.1 9,41.3 9.5,51.9 10,50.9 10.5,54.3 11,48.4 11.5,42.9 12,53.5 12.5,51.1 13,42.6 13.5,37.4 14,40.1 14.5,39.3 15,41.3 15.5,45.6 16,47.4 16.5,40.7 17,38.5 17.5,30.9 18,31 18.5,42.4 19,31.5 19.5,38.8 20,44.3 20.5,46.4 21,50.4 21.5,48.7 22,42.3 22.5,48.2 23,51.5 23.5,45.4 24,45.7 24.5,43.5 25,42.1 25.5,40.1 26,46.2 26.5,39.8 27,41.1 27.5,37.3 28,40.8 28.5,41.9 29,38.3 29.5,38 30,35 30.5,33.1 31,32.1 31.5,45.2 32,47.4 32.5,45.3 33,44.2 33.5,44.5 34,35.1 34.5,40.2 35,41.5 35.5,50 36,44.5 36.5,46.1 37,46.4 37.5,50.5 38,41.4 38.5,47.5 39,48 39.5,55.1 40,41.4 40.5,40.1 41,38.2 41.5,34.7 42,34.9 42.5,32.2 43,44.7 43.5,38.9 44,43.8 44.5,32.2 45,31.8 45.5,44.5 46,43.6 46.5,49.2 47,37.5 47.5,40.8 48,45.1 48.5,38.3 49,50.7 49.5,54 50,46.1 50.5,47.7 51,47.5 51.5,40.9 52,29.2 52.5,43.3 53,35.3 53.5,39.9 54,37.9 54.5,36.9 55,32.7 55.5,41.1 56,37.2 56.5,36.3 57,38.5 57.5,47.2 58,46.2 58.5,52.6 59,44.6 59.5,46.4 60,41.6 60.5,50.9 61,43.6 61.5,49 62,51 62.5,52 63,45.5 63.5,41.8 64,48.6 64.5,42.7 65,46.4 65.5,46.1 66,48.4 66.5,37.5 67,40.3 67.5,43.3 68,41.9 68.5,42 69,26.6 69.5,34.2 70,31.2 70.5,23.1 71,26.4 71.5,44.2 72,42.8 72.5,39.7 73,37.8 73.5,40.2 74,40.1 74.5,51.3 75,57.3 75.5,50.4 76,49.2 76.5,49.3 77,47.5 77.5,49.2 78,46.4 78.5,41.9 79,43.1 79.5,42.3 80,35.1 80.5,30.8 81,35.5 81.5,30.6 82,35.4 82.5,31.2 83,36.7 83.5,41.9 84,41.2 84.5,34.4 85,46.7 85.5,37.1 86,35.9 86.5,36.8 87,37.9 87.5,41.2 88,42.3 88.5,47.2 89,47.3 89.5,42.8 90,45.1 90.5,45.5 91,54.5 91.5,35.3 92,36.3 92.5,41.9 93,36.1 93.5,36.3 94,39.1 94.5,39.2 95,39.1 95.5,43.9 96,41.9 96.5,40.6 97,36.2 97.5,44.2 98,44.6 98.5,45.5 99,46 99.5,49.9 100,47.3 100.5,41.4 101,47.7 101.5,47 102,49.1 102.5,51.6 103,42.6 103.5,39.4 104,49.7 104.5,50.3 105,41.9 105.5,39.9 106,40 106.5,39.9 107,38.1 107.5,34.7 108,37.1 108.5,36.7 109,30.6 109.5,42.2 110,34.6 110.5,32.6 111,39.4 111.5,46.6 112,40.2 112.5,48.6 113,43.7 113.5,42.5 114,42.1 114.5,49.6 115,42.4 115.5,43.5 116,39.1 116.5,43.4 117,43.8 117.5,46.2 118,39.8 118.5,31.9 119,39.5 119.5,38.6 120,46.1 120.5,38.6 121,32.2 121.5,35.8 122,42.8 122.5,38.6 123,27.7 123.5,29.7 124,33.7 124.5,53.3 125,46.9 125.5,37.9 126,43.6 126.5,38.4 127,35.9 127.5,38.5 128,43.2 128.5,46.7 129,51.3 129.5,50.2 130,45.9 130.5,42.4 131,44.6 131.5,45 132,40.3 132.5,38.8 133,42.2 133.5,36.8 134,32.6 134.5,33.3 135,38.8 135.5,42.4 136,29.9 136.5,34.7 137,40.3 137.5,43.3 138,47.5 138.5,48.1 139,48.2 139.5,54.3 140,47.5 140.5,45.9 141,53.4 141.5,44.8 142,43 142.5,40.4 143,42.9 143.5,41.1 144,48.7 144.5,44.1 145,36.4 145.5,36.1 146,40.4 146.5,41.9 147,34.8 147.5,43.8 148,40.2 148.5,33.4 149,33.5 149.5,43.8 150,46.9 150.5,34.1 151,38.6 151.5,45.6 152,42.4 152.5,41.8 153,57.5 153.5,42.3 154,42.6 154.5,53.6 155,47.9 155.5,60.4 156,48.5 156.5,42.4 157,37.1 157.5,48 158,45.5 158.5,38 159,43.3 159.5,45.2 160,40.4 160.5,38.5 161,43 161.5,36.5 162,33.1 162.5,36.7 163,32.5 163.5,45.5 164,41.1 164.5,45.9 165,44.3 165.5,51.5 166,45.7 166.5,45.2 167,48.9 167.5,43.8 168,44.3 168.5,49.3 169,55.5 169.5,44.6 170,47.4 170.5,43.6 171,42.6 171.5,40.8 172,40.7 172.5,41.9 173,41.2 173.5,30.4 174,29 174.5,30.4 175,28.8 175.5,36.3 176,39.7 176.5,37.9 177,46 177.5,44.9 178,47 178.5,47.1 179,48.2 179.5,46.9 180,49 180.5,49.4 181,45.4 181.5,43.1 182,42 182.5,49.9 183,51.4 183.5,49.3 184,34.8 184.5,29.7 185,39.1 185.5,39.8 186,41.6 186.5,43 187,34.1 187.5,27.2 188,34.8 188.5,31 189,39.2 189.5,41.4 190,44.2 190.5,47.8 191,46.5 191.5,52.3 192,52.4 192.5,49.1 193,48.3 193.5,34.6 194,42.8 194.5,36.9 195,46.9 195.5,47.1 196,46.1 196.5,50.5 197,41.2 197.5,40.4 198,46.9 198.5,45 199,43.7 199.5,39.8 200,33.8 200.5,40 201,37.5 201.5,38.7 202,43.5 202.5,38.2 203,49.5 203.5,53.3 204,46.6 204.5,57.4 205,52.5 205.5,54.8 206,52 206.5,51.3 207,45.5 207.5,54.9 208,47 208.5,47.9 209,44.5 209.5,42.3 210,40.8 210.5,47.3 211,52.5 211.5,43.7 212,43.1 212.5,40.5 213,37.8 213.5,47.6 214,43.2 214.5,43.5 215,47.7 215.5,42.6 216,45.3 216.5,48 217,48.6 217.5,44.1 218,42.8 218.5,43.4 219,41.2 219.5,51.8 220,52 220.5,55 221,51.3 221.5,46.3 222,43.4 222.5,35.9 223,41.5 223.5,38.8 224,36.2 224.5,40.7 225,36 225.5,44.9 226,35 226.5,38.8 227,41.8 227.5,37.2 228,38.4 228.5,37.5 229,48.3 229.5,49.3 230,40.2 230.5,50.1 231,64.5 231.5,55.2 232,53.8 232.5,49 233,50.7 233.5,47.9 234,46.8 234.5,42.8 235,50.5 235.5,38.6 236,38.6 236.5,43.3 237,34.8 237.5,37.5 238,44.1 238.5,33.1 239,36.8 239.5,35.6 240,29.4 240.5,31.9 241,40.7 241.5,37.5 242,34.9 242.5,40.3 243,53 243.5,44.5 244,44.8 244.5,42.2 245,40.8 245.5,47.5 246,51.9 246.5,43.7 247,37.5 247.5,50.2 248,44.9 248.5,58.3 249,38.7 249.5,41.8 250,37.6 250.5,37.4 251,43.7 251.5,41.2 252,35.3 252.5,34.8 253,37.6 253.5,38.5 254,43.6 254.5,31.2 255,42.8 255.5,44.4 256,51.8 256.5,39.8 257,44.6 257.5,40.2 258,42.6 258.5,47 259,46 259.5,51.6 260,48 260.5,47.5 261,49.5 261.5,40.2 262,43 262.5,34.7 263,45.1 263.5,47.8 264,46.9 264.5,41.9 265,35.8 265.5,32.9 266,35 266.5,37 267,35.9 267.5,36.5 268,52.7 268.5,49.4 269,51.7 269.5,54 270,49.8 270.5,45.6 271,47.1 271.5,48.5 272,46.3 272.5,49.4 273,44.6 273.5,43.8 274,42.2 274.5,39.3 275,42.4 275.5,41.1 276,41.6 276.5,36.2 277,32.2 277.5,31.2 278,36.5 278.5,37.4 279,36.2 279.5,30.8 280,30.2 280.5,34.2 281,30.7 281.5,45.6 282,48.7 282.5,39.3 283,48 283.5,47.1 284,52.4 284.5,57.6 285,56.3 285.5,48.2 286,45.4 286.5,41.2 287,48.8 287.5,49.3 288,44.2 288.5,36 289,49.5 289.5,46.4 290,46.2 290.5,39.5 291,37.5 291.5,35.2 292,33.9 292.5,33.3 293,41.2 293.5,43.9 294,46.1 294.5,44.3 295,48.5 295.5,48.4 296,41.1 296.5,39.6 297,49.5 297.5,45.3 298,47.4 298.5,43.5 299,46.7 299.5,46.3 300,49.4 300.5,46.8 301,36.4 301.5,33.7 302,32.4 302.5,37.6 303,38.1 303.5,37.8 304,38.6 304.5,31.6 305,30.9 305.5,33.9 306,41.8 306.5,34.3 307,48.5 307.5,37.3 308,44 308.5,41.7 309,49.1 309.5,47.2 310,50.4 310.5,45.4 311,46.7 311.5,50.3 312,41.6 312.5,51.5 313,50.6 313.5,44.1 314,43.3 314.5,42.9 315,38.1 315.5,42.7 316,45.4 316.5,37.5 317,39.9 317.5,25.1 318,38.7 318.5,32.9 319,39.2 319.5,38.5 320,44.9 320.5,47.7 321,41 321.5,35.9 322,44.5 322.5,34.1 323,38.5 323.5,40.4 324,45.4 324.5,40.7 325,40.9 325.5,45.5 326,47.3 326.5,50.6 327,39.2 327.5,37.2 328,38.2 328.5,31.1 329,33 329.5,42.9 330,35.2 330.5,44.1 331,37.7 331.5,33.6 332,31.4 332.5,36.9 333,42.9 333.5,44.1 334,47.6 334.5,42.6 335,44 335.5,48 336,46.5 336.5,45.4 337,45.7 337.5,49.7 338,37.9 338.5,37.6 339,48.1 339.5,48.4 340,42.6 340.5,39.5 341,38.3 341.5,38.6 342,45.8 342.5,36.7 343,35.7 343.5,37.5 344,38.2 344.5,39.3 345,34.5 345.5,44 346,43.1 346.5,51.2 347,52.7 347.5,43.1 348,42 348.5,45.4 349,42.6 349.5,47.3 350,46.8 350.5,42.2 351,37.1 351.5,46.9 352,39.4 352.5,43.6 353,37.2 353.5,35.4 354,35.5 354.5,27.3 355,31.5 355.5,40.2 356,40.7 356.5,39.3 357,38 357.5,41.6 358,35.9 358.5,36.2 359,34.2 359.5,45 360,36.8 360.5,48.5 361,47.7 361.5,54 362,50.7 362.5,47.2 363,39.4 363.5,43.9 364,48.6 364.5,40.8 365,42.7 365.5,44.6 366,40.4 366.5,40 367,42.3 367.5,39.3 368,33.4 368.5,36.3 369,30.8 369.5,32.6 370,31.9 370.5,30.1 371,29 371.5,35.1 372,40 372.5,37.4 373,45.3 373.5,45.5 374,47.4 374.5,56.2 375,48.9 375.5,45 376,49.1 376.5,48.5 377,45.4 377.5,48.4 378,49.1 378.5,40.3 379,40.6 379.5,36.5 380,40.4 380.5,30.2 381,46.6 381.5,45.3 382,44.1 382.5,30.7 383,40.7 383.5,40.3 384,36.3 384.5,48.9 385,39.6 385.5,40.2 386,49.3 386.5,43.7 387,39.6 387.5,47.5 388,42.8 388.5,39.1 389,45.2 389.5,44.6 390,44.9 390.5,42.5 391,45.1 391.5,44.8 392,42.5 392.5,43.4 393,33.9 393.5,34.1 394,32 394.5,35.5 395,35.4 395.5,38.4 396,31.2 396,109.4 0,109.4"/>
<polygon fill="#fdaa1a" points="0,62.3 0.5,63.9 1,55.3 1.5,55.6 2,56.5 2.5,52.5 3,63 3.5,60.4 4,58.3 4.5,53 5,58.9 5.5,56.8 6,53.3 6.5,56.4 7,61.3 7.5,60.2 8,70.3 8.5,61.6 9,59.1 9.5,60.4 10,72 10.5,63 11,58.8 11.5,58.7 12,71.1 12.5,68.9 13,61.2 13.5,60.7 14,65 14.5,60.9 15,52.2 15.5,63.8 16,57.8 16.5,57.6 17,54.6 17.5,59.4 18,53.9 18.5,54.5 19,59.7 19.5,55.2 20,68.2 20.5,68.1 21,62.8 21.5,60.9 22,61 22.5,65.7 23,66.1 23.5,65.4 24,68.2 24.5,75.2 25,62.8 25.5,64.1 26,62.6 26.5,64.3 27,56.1 27.5,57.7 28,60.5 28.5,57.6 29,66.3 29.5,57.1 30,61.3 30.5,57.1 31,46.1 31.5,64.2 32,63.3 32.5,63.4 33,58.6 33.5,66.1 34,72.4 34.5,63.6 35,65.9 35.5,68.2 36,56.9 36.5,66 37,67.8 37.5,65.6 38,64.5 38.5,67.2 39,67.5 39.5,56.9 40,57.7 40.5,51.8 41,63.2 41.5,51.3 42,54.9 42.5,50.3 43,56 43.5,54.2 44,56 44.5,52.2 45,46.2 45.5,56.8 46,59 46.5,67.1 47,66 47.5,72.8 48,60 48.5,59.1 49,63.8 49.5,66.4 50,65.6 50.5,58.6 51,59.8 51.5,62.7 52,56.6 52.5,65.3 53,52.2 53.5,62.4 54,58.3 54.5,57.3 55,56.5 55.5,51.8 56,57.2 56.5,47.5 57,51.2 57.5,58 58,54.2 58.5,62.8 59,64 59.5,70.8 60,61.5 60.5,60.2 61,54.2 61.5,59.9 62,59.9 62.5,66.8 63,67.7 63.5,65.3 64,68.1 64.5,71.3 65,62.6 65.5,70.8 66,70.4 66.5,58.6 67,60.7 67.5,55.5 68,58.9 68.5,51.7 69,46.9 69.5,55.9 70,49.6 70.5,44.7 71,51.7 71.5,57.6 72,65.2 72.5,62.4 73,66.3 73.5,66.3 74,60.2 74.5,61.3 75,71.2 75.5,69.1 76,67 76.5,65.4 77,68.5 77.5,63.2 78,68.2 78.5,59.3 79,63.9 79.5,49.5 80,59.6 80.5,53.2 81,48.7 81.5,55.1 82,50.7 82.5,53.7 83,63.3 83.5,55.5 84,57.7 84.5,56.8 85,71.8 85.5,64.9 86,65.8 86.5,66.5 87,67.8 87.5,72 88,64.6 88.5,58.1 89,55.9 89.5,61.6 90,66.6 90.5,66.2 91,62.2 91.5,58.2 92,68.8 92.5,62.4 93,56.8 93.5,51.6 94,53.5 94.5,53.9 95,51.4 95.5,58.9 96,54 96.5,58.7 97,54 97.5,55.6 98,65.2 98.5,67.4 99,74.3 99.5,66.1 100,67.6 100.5,65.7 101,68.2 101.5,72.7 102,67.7 102.5,69.4 103,65.2 103.5,62.2 104,62.5 104.5,67.1 105,64.9 105.5,61.9 106,54.7 106.5,52.1 107,57.7 107.5,51.8 108,53.7 108.5,46.6 109,46.4 109.5,52.5 110,42.9 110.5,50.7 111,57.8 111.5,59.5 112,54.4 112.5,70.2 113,63.5 113.5,61.3 114,63 114.5,57.5 115,58.4 115.5,62.2 116,61 116.5,71.4 117,63.8 117.5,61 118,59.8 118.5,58.5 119,60.4 119.5,59.7 120,56.9 120.5,59.4 121,50.3 121.5,63.1 122,59.6 122.5,56.5 123,49.9 123.5,58.8 124,59.7 124.5,61.7 125,65.7 125.5,65.8 126,63.6 126.5,63.9 127,60.9 127.5,59.4 128,74.3 128.5,62 129,67.4 129.5,70.8 130,58.7 130.5,60.5 131,70.6 131.5,66.9 132,62.6 132.5,63.3 133,63.1 133.5,59.5 134,51.9 134.5,56.6 135,46.3 135.5,59.1 136,52.1 136.5,54.1 137,52.1 137.5,59.8 138,63.9 138.5,57.4 139,69.4 139.5,73.6 140,67.6 140.5,69.1 141,70.5 141.5,62.5 142,60 142.5,61.8 143,57.3 143.5,60.7 144,65.8 144.5,54.6 145,57.1 145.5,54.1 146,60.8 146.5,56 147,54.8 147.5,63.7 148,60.4 148.5,58 149,49.7 149.5,64.2 150,54.8 150.5,51.9 151,55.7 151.5,58 152,61.8 152.5,64.1 153,66.2 153.5,61.7 154,61.7 154.5,65.8 155,71.4 155.5,75.9 156,69.9 156.5,69.8 157,71.1 157.5,69.1 158,66.6 158.5,62.1 159,70.4 159.5,64.1 160,58.4 160.5,53.5 161,63.5 161.5,57.9 162,52.2 162.5,53.6 163,52.9 163.5,59.6 164,68.1 164.5,62.3 165,67.2 165.5,67.1 166,59.4 166.5,65.2 167,69.7 167.5,62.7 168,65.4 168.5,62.5 169,63.9 169.5,54.3 170,61 170.5,61.4 171,52.8 171.5,59.3 172,63.8 172.5,60.9 173,57.4 173.5,48.5 174,52.5 174.5,51.2 175,51.5 175.5,58.5 176,62.3 176.5,62.4 177,62.5 177.5,61.9 178,65.5 178.5,67.5 179,68.4 179.5,68.7 180,71.9 180.5,77.2 181,71.8 181.5,71.7 182,67.9 182.5,68.9 183,67.4 183.5,65 184,57 184.5,55.6 185,60.2 185.5,59 186,59.6 186.5,55.9 187,59.4 187.5,51.1 188,52.9 188.5,61.9 189,57.2 189.5,62.7 190,66.7 190.5,73.3 191,68 191.5,69.3 192,70.7 192.5,64 193,64.5 193.5,64.4 194,64.1 194.5,61 195,67.7 195.5,63.7 196,66 196.5,69 197,64 197.5,57.8 198,60.8 198.5,63.6 199,62.4 199.5,60.5 200,66.9 200.5,58.9 201,56.8 201.5,59.5 202,61.8 202.5,57.1 203,63.4 203.5,68.8 204,69.8 204.5,72.1 205,74.6 205.5,72.2 206,63.9 206.5,59.8 207,60 207.5,62.3 208,63.3 208.5,71.8 209,60.3 209.5,55.6 210,56.8 210.5,67.2 211,56.7 211.5,54.3 212,58 212.5,55.6 213,53.7 213.5,57.5 214,52.2 214.5,56.9 215,58.3 215.5,60.4 216,68.8 216.5,68.4 217,52.4 217.5,62.3 218,54.4 218.5,59.1 219,55 219.5,60.6 220,67.8 220.5,74 221,79.4 221.5,71.4 222,63.8 222.5,67.4 223,60.5 223.5,53.3 224,51.9 224.5,60.5 225,61.2 225.5,65.3 226,59.4 226.5,54.9 227,43.8 227.5,59.8 228,53.6 228.5,54.1 229,64.7 229.5,58.2 230,72.8 230.5,69.5 231,70.1 231.5,61 232,59.5 232.5,57.1 233,65.9 233.5,59.4 234,56.4 234.5,62.4 235,63 235.5,64.3 236,57.7 236.5,61.6 237,48.5 237.5,58.5 238,66.3 238.5,53.3 239,47.4 239.5,46.7 240,42.5 240.5,47.5 241,53.8 241.5,59.4 242,57.8 242.5,61.6 243,65.1 243.5,49.5 244,61.5 244.5,67.3 245,61.3 245.5,63 246,65.4 246.5,58.9 247,57.5 247.5,63.4 248,62.5 248.5,62.5 249,52.1 249.5,58 250,56.9 250.5,61 251,54.7 251.5,54.1 252,54.2 252.5,52.2 253,41.3 253.5,44.5 254,55.7 254.5,58.2 255,59.9 255.5,62.2 256,63.4 256.5,56.6 257,60.1 257.5,68.3 258,64.2 258.5,67.1 259,67.8 259.5,69.2 260,70.9 260.5,69.9 261,65.7 261.5,62.6 262,71.8 262.5,56.1 263,55.3 263.5,64.6 264,59.3 264.5,65.9 265,51.2 265.5,54.2 266,50.7 266.5,54 267,54.3 267.5,55.7 268,64.3 268.5,72.6 269,71.8 269.5,69 270,63.5 270.5,66 271,65.1 271.5,63.5 272,62.3 272.5,60.9 273,69.5 273.5,65.9 274,69.4 274.5,65.9 275,62.4 275.5,60.3 276,59.7 276.5,59.4 277,49.3 277.5,44.9 278,44.3 278.5,44.5 279,49.3 279.5,59 280,56.3 280.5,54.2 281,50.9 281.5,61.6 282,67.7 282.5,66.9 283,74 283.5,70.1 284,65.6 284.5,71.4 285,68.1 285.5,69.5 286,68.7 286.5,64.2 287,63 287.5,65.5 288,51.2 288.5,65.5 289,62.3 289.5,68.7 290,66.2 290.5,60.2 291,52.5 291.5,50.2 292,56.3 292.5,56.2 293,59.3 293.5,60.5 294,63.3 294.5,58.8 295,59.2 295.5,72 296,64.9 296.5,61 297,74.6 297.5,67.3 298,69.3 298.5,71.7 299,63 299.5,65.3 300,68.6 300.5,61.3 301,55 301.5,53.9 302,50.9 302.5,55.8 303,61.6 303.5,56.6 304,48.8 304.5,59.9 305,42.7 305.5,48.9 306,58.8 306.5,63.6 307,61.2 307.5,61.5 308,68.8 308.5,72.7 309,71.4 309.5,69.9 310,69 310.5,67.7 311,63.1 311.5,66.5 312,63.8 312.5,66.7 313,62.2 313.5,61.5 314,58.7 314.5,59.5 315,60.2 315.5,61.6 316,56.5 316.5,52.9 317,57.8 317.5,54.2 318,59.9 318.5,53.5 319,50.7 319.5,52.5 320,66.3 320.5,68.8 321,62.9 321.5,65.6 322,62 322.5,58.8 323,65.7 323.5,68.9 324,60.5 324.5,61.1 325,63.1 325.5,70.4 326,63.2 326.5,69.3 327,63.3 327.5,55.1 328,56.5 328.5,57.1 329,54.4 329.5,58.9 330,57 330.5,57.3 331,60.2 331.5,58.8 332,57 332.5,52.3 333,62.6 333.5,54.8 334,59.3 334.5,67.2 335,62.3 335.5,62 336,69.9 336.5,70.4 337,63 337.5,70.8 338,62.2 338.5,70.5 339,70 339.5,65 340,67.5 340.5,60.4 341,57.8 341.5,61.3 342,68.3 342.5,58.6 343,64.2 343.5,56.2 344,52.7 344.5,48.2 345,49.9 345.5,56.1 346,58.7 346.5,66.4 347,70.5 347.5,58.8 348,58.4 348.5,65.2 349,69.5 349.5,56.7 350,61.8 350.5,65.8 351,57.7 351.5,55 352,59 352.5,62 353,62.5 353.5,61.6 354,53.2 354.5,42 355,48.4 355.5,56.8 356,53.9 356.5,53.3 357,51.7 357.5,47.7 358,54.5 358.5,59.7 359,57.4 359.5,60 360,59 360.5,60.9 361,70 361.5,64.6 362,67.4 362.5,62.3 363,62 363.5,69.4 364,65.8 364.5,66 365,63.9 365.5,66.4 366,61.6 366.5,56.7 367,60.1 367.5,46 368,51.1 368.5,55.7 369,52.8 369.5,53.3 370,47.2 370.5,48.7 371,50.9 371.5,55.6 372,49.4 372.5,56.8 373,57.6 373.5,63.4 374,69.6 374.5,79.1 375,66.6 375.5,74.1 376,63.5 376.5,62.5 377,65.3 377.5,67.1 378,66.7 378.5,65.7 379,65.1 379.5,62.1 380,58 380.5,50 381,61.4 381.5,59.6 382,68.5 382.5,57.4 383,61.7 383.5,56.8 384,52 384.5,58.1 385,60.3 385.5,59.1 386,67.8 386.5,63.3 387,60.7 387.5,66.2 388,73 388.5,71 389,62.3 389.5,64.5 390,54.1 390.5,64.5 391,65.4 391.5,60.4 392,59.2 392.5,54.7 393,55 393.5,53 394,52.9 394.5,60.1 395,61.1 395.5,58.9 396,53.2 396,109.4 0,109.4"/>
<polygon fill="#ff6868" points="0,69.1 0.5,70.1 1,61.4 1.5,63.2 2,59.7 2.5,73.3 3,70.4 3.5,60.4 4,60.5 4.5,53 5,60.3 5.5,57.2 6,56.9 6.5,66.4 7,70.3 7.5,73.2 8,76.5 8.5,72.3 9,70.9 9.5,75.1 10,72 10.5,75.8 11,68.3 11.5,70.9 12,74.5 12.5,70.5 13,69.2 13.5,73.7 14,68.3 14.5,64 15,69.1 15.5,66.7 16,72.7 16.5,68.4 17,60.9 17.5,59.4 18,57.6 18.5,54.7 19,59.7 19.5,69.9 20,70.4 20.5,70 21,76.9 21.5,76.8 22,77.5 22.5,65.7 23,71.5 23.5,72.1 24,75.1 24.5,75.2 25,70.6 25.5,65.8 26,66.1 26.5,64.3 27,62.3 27.5,62.6 28,68 28.5,69 29,73.8 29.5,66.8 30,67.8 30.5,64.5 31,53.6 31.5,65.7 32,63.8 32.5,63.4 33,64.1 33.5,66.1 34,73.8 34.5,68.4 35,72.3 35.5,75.7 36,63.5 36.5,66 37,74.7 37.5,66.6 38,68.6 38.5,74.7 39,77.3 39.5,71 40,62.8 40.5,65.9 41,68 41.5,62.3 42,57.7 42.5,53.3 43,57.5 43.5,54.2 44,59.1 44.5,56.1 45,55.3 45.5,64.1 46,63.8 46.5,69.5 47,68.8 47.5,72.8 48,79 48.5,71 49,63.8 49.5,69.1 50,74.5 50.5,70.1 51,75.7 51.5,70.3 52,66.3 52.5,65.3 53,57.4 53.5,62.4 54,58.3 54.5,63.4 55,67.6 55.5,63.1 56,60 56.5,59.7 57,65.8 57.5,67.1 58,68.2 58.5,71.6 59,70.7 59.5,73.9 60,67.6 60.5,62.4 61,63.9 61.5,70.8 62,74.8 62.5,77.8 63,73.5 63.5,74 64,74.7 64.5,75.2 65,71.3 65.5,72.6 66,70.5 66.5,65.3 67,66.6 67.5,67.1 68,65.9 68.5,57.7 69,58.3 69.5,63.1 70,58.4 70.5,54.3 71,56.4 71.5,61.5 72,74.4 72.5,62.4 73,66.3 73.5,71.7 74,75.1 74.5,74.5 75,78.4 75.5,85.2 76,78.8 76.5,77.6 77,70.9 77.5,68.2 78,68.2 78.5,73.5 79,63.9 79.5,57.9 80,63.7 80.5,60.4 81,55.1 81.5,59.1 82,61.8 82.5,59.7 83,63.3 83.5,69.9 84,62.8 84.5,65.7 85,71.8 85.5,74.9 86,75.5 86.5,74.7 87,70.9 87.5,77.5 88,66.9 88.5,73 89,65.4 89.5,68.7 90,69.1 90.5,74.2 91,66.5 91.5,68.4 92,71.9 92.5,62.4 93,61.9 93.5,60.5 94,67.6 94.5,63 95,71.1 95.5,65.9 96,68.3 96.5,70.4 97,68 97.5,62.7 98,66.9 98.5,76.1 99,74.3 99.5,73.4 100,75.7 100.5,70.6 101,80.7 101.5,78.8 102,77 102.5,72.7 103,66.8 103.5,76.7 104,72.8 104.5,72.8 105,65.9 105.5,64.7 106,59 106.5,63.8 107,65.3 107.5,64.5 108,58.6 108.5,53 109,58.3 109.5,55.3 110,58.4 110.5,59.9 111,61.5 111.5,65.6 112,65.3 112.5,76.8 113,74.9 113.5,72.1 114,68.7 114.5,65.2 115,58.6 115.5,65.4 116,66.4 116.5,71.4 117,67 117.5,70 118,66.1 118.5,58.5 119,68.4 119.5,70.9 120,72.3 120.5,64.4 121,56.8 121.5,63.1 122,59.8 122.5,62.6 123,54.9 123.5,60.7 124,62.9 124.5,72.2 125,65.7 125.5,65.8 126,70.3 126.5,66.6 127,69.2 127.5,65 128,74.3 128.5,69.2 129,69.3 129.5,78.2 130,78.1 130.5,63.5 131,70.6 131.5,72.7 132,62.6 132.5,63.3 133,75.9 133.5,67.1 134,63.4 134.5,56.6 135,63.4 135.5,66.4 136,64.6 136.5,62.5 137,58.1 137.5,67.7 138,79.5 138.5,65.9 139,70.3 139.5,73.6 140,76.3 140.5,77.9 141,82.5 141.5,68.8 142,63 142.5,70.5 143,67.4 143.5,68.4 144,68.6 144.5,61.6 145,57.1 145.5,65.3 146,62.5 146.5,59.4 147,62.6 147.5,63.7 148,64 148.5,58 149,61.1 149.5,66.8 150,63.4 150.5,65.9 151,69.4 151.5,69.6 152,62.1 152.5,70.2 153,71.6 153.5,75.1 154,79.5 154.5,67.6 155,76.2 155.5,86 156,79.5 156.5,69.8 157,78.2 157.5,77.6 158,70.5 158.5,70.5 159,70.4 159.5,64.1 160,60.9 160.5,63.5 161,63.5 161.5,64.1 162,60.7 162.5,61.1 163,65.2 163.5,67.7 164,68.1 164.5,70.9 165,72 165.5,67.7 166,68.4 166.5,71.1 167,75.1 167.5,64.1 168,65.8 168.5,70 169,75.3 169.5,64.9 170,67.1 170.5,66.3 171,60.3 171.5,59.3 172,73.4 172.5,65.1 173,67.7 173.5,64.9 174,59.2 174.5,56.5 175,57.1 175.5,64.2 176,69.9 176.5,70.5 177,71 177.5,73.3 178,80.7 178.5,69.8 179,75.9 179.5,77.9 180,77.7 180.5,81.1 181,76.8 181.5,74.1 182,69.7 182.5,76.4 183,77.8 183.5,65 184,59.2 184.5,56.5 185,60.2 185.5,61.4 186,61.5 186.5,68.2 187,61.9 187.5,51.1 188,55.5 188.5,61.9 189,65.7 189.5,77.8 190,79.3 190.5,80.1 191,75.1 191.5,80.6 192,70.7 192.5,74.2 193,74.1 193.5,68.7 194,67.7 194.5,72.6 195,72.9 195.5,67.4 196,78.5 196.5,75.5 197,73.8 197.5,75.6 198,65.9 198.5,68.7 199,66.9 199.5,64.2 200,71.6 200.5,65.3 201,66.4 201.5,71.4 202,70.7 202.5,65.8 203,71.2 203.5,68.8 204,70.4 204.5,86.2 205,75.6 205.5,72.2 206,76.2 206.5,77.1 207,66.3 207.5,79 208,74.7 208.5,80.4 209,76.5 209.5,75.1 210,63.6 210.5,67.2 211,66.9 211.5,71.6 212,65 212.5,61 213,68.2 213.5,69.2 214,63.8 214.5,61.8 215,66.6 215.5,65.9 216,74.4 216.5,80.5 217,70.9 217.5,75.9 218,68 218.5,72.9 219,67.9 219.5,73.6 220,68.6 220.5,79.8 221,79.4 221.5,73.7 222,69.4 222.5,67.4 223,72.4 223.5,66.3 224,57.7 224.5,61.7 225,62.1 225.5,65.3 226,62.1 226.5,64.7 227,60.6 227.5,59.8 228,62.4 228.5,56.1 229,66.9 229.5,65.3 230,72.8 230.5,78.6 231,71.9 231.5,73.7 232,70 232.5,72.5 233,76.3 233.5,70.1 234,73.4 234.5,77.8 235,76.3 235.5,73.6 236,68.1 236.5,64.4 237,60.1 237.5,58.5 238,66.3 238.5,57.3 239,49.3 239.5,53 240,53.5 240.5,54 241,61 241.5,62.8 242,69.2 242.5,66.1 243,73.3 243.5,72.4 244,74.5 244.5,70.2 245,77.3 245.5,73.3 246,73.8 246.5,62.9 247,70.9 247.5,74.5 248,73.5 248.5,68.1 249,62.3 249.5,60.3 250,67.9 250.5,67.7 251,58.3 251.5,63.8 252,54.2 252.5,61 253,58.4 253.5,63.2 254,57.7 254.5,62.3 255,60.7 255.5,66.9 256,72.1 256.5,73.5 257,70.5 257.5,68.3 258,69.6 258.5,68.7 259,70.8 259.5,73.3 260,70.9 260.5,69.9 261,74.9 261.5,62.6 262,71.8 262.5,68 263,56.9 263.5,66.2 264,62.9 264.5,65.9 265,70.8 265.5,57.8 266,52.8 266.5,61 267,68.8 267.5,63 268,69.8 268.5,72.6 269,75.6 269.5,76.9 270,75.1 270.5,68.9 271,65.1 271.5,68.5 272,72.9 272.5,81.2 273,69.5 273.5,72.9 274,76.1 274.5,75.2 275,63.3 275.5,69.2 276,62.1 276.5,60.2 277,62.7 277.5,53.7 278,51 278.5,52.6 279,49.3 279.5,59 280,56.3 280.5,59.2 281,58.7 281.5,71.4 282,68.3 282.5,70.1 283,82.1 283.5,77.7 284,77.3 284.5,77.3 285,70.9 285.5,69.5 286,68.7 286.5,72.5 287,71.3 287.5,68.7 288,63.7 288.5,65.5 289,73.4 289.5,70.4 290,75.1 290.5,72.1 291,63.3 291.5,61 292,61.6 292.5,58.8 293,68 293.5,67.8 294,70.3 294.5,74.3 295,73.7 295.5,72 296,72.8 296.5,75.9 297,74.6 297.5,67.3 298,75 298.5,73.9 299,73.2 299.5,65.3 300,71.3 300.5,65.2 301,61.7 301.5,70 302,65.4 302.5,69.9 303,63.4 303.5,59.8 304,48.8 304.5,59.9 305,52.9 305.5,53.8 306,60 306.5,63.6 307,64.1 307.5,62 308,68.8 308.5,78.7 309,72.2 309.5,74.3 310,74.6 310.5,71.4 311,71.7 311.5,75 312,65.6 312.5,75.1 313,71.4 313.5,64.5 314,63.1 314.5,60.9 315,60.2 315.5,61.6 316,57.4 316.5,64.5 317,57.8 317.5,54.2 318,65.4 318.5,63.1 319,66.6 319.5,62.2 320,74 320.5,78.7 321,69.9 321.5,68.5 322,72.3 322.5,66.5 323,70 323.5,70.3 324,69.3 324.5,70.5 325,63.8 325.5,78.3 326,75.4 326.5,78.8 327,70.9 327.5,69.8 328,65.1 328.5,59.2 329,59.2 329.5,64.9 330,65.5 330.5,62.6 331,63.3 331.5,67.2 332,61.9 332.5,65 333,68.8 333.5,64 334,67.1 334.5,72.2 335,78 335.5,79.3 336,75.4 336.5,70.4 337,67.9 337.5,72.3 338,71.5 338.5,75.6 339,80.1 339.5,70 340,72.7 340.5,62.8 341,69.1 341.5,73.5 342,72.3 342.5,72.1 343,64.2 343.5,66 344,61.5 344.5,62 345,64.1 345.5,72.1 346,75.2 346.5,71.8 347,70.5 347.5,60.9 348,71.8 348.5,70.1 349,71.8 349.5,65 350,72.8 350.5,66.3 351,62.2 351.5,66 352,61 352.5,69.9 353,62.5 353.5,66.9 354,56.8 354.5,69.6 355,59.4 355.5,66.6 356,63.6 356.5,54.9 357,56.6 357.5,56.1 358,54.5 358.5,65.5 359,66.5 359.5,64.3 360,64.9 360.5,80 361,72.7 361.5,76.9 362,67.4 362.5,63.7 363,70.9 363.5,69.4 364,73.4 364.5,66 365,68 365.5,70 366,71.2 366.5,65.6 367,73.1 367.5,59.9 368,63.5 368.5,61.6 369,63.5 369.5,65.4 370,51 370.5,49.3 371,56.1 371.5,55.6 372,57.4 372.5,61.8 373,72.2 373.5,84.7 374,72.6 374.5,79.1 375,75.6 375.5,79.5 376,72.9 376.5,80.1 377,75.8 377.5,71 378,66.7 378.5,71 379,69.6 379.5,63.4 380,58 380.5,60.4 381,71.1 381.5,71.1 382,76.4 382.5,64.7 383,63.4 383.5,59.9 384,59.4 384.5,65.5 385,66.4 385.5,66.2 386,69.9 386.5,67.6 387,62.3 387.5,75.1 388,73 388.5,71 389,68.7 389.5,69.3 390,70.2 390.5,68.7 391,71.3 391.5,76.5 392,70.1 392.5,70.8 393,61.9 393.5,60.1 394,61.5 394.5,64.8 395,64 395.5,64.5 396,53.9 396,109.4 0,109.4"/>
<line x1="10.6" y1="0" x2="10.6" y2="109.4" stroke="#ffffff" stroke-opacity="0.75" stroke-width="1"/>
<line x1="23.7" y1="0" x2="23.7" y2="109.4" stroke="#ffffff" stroke-opacity="0.75" stroke-width="1"/>
<line x1="36.7" y1="0" x2="36.7" y2="109.4" stroke="#ffffff" stroke-opacity="0.75" stroke-width="1"/>
<line x1="49.8" y1="0" x2="49.8" y2="109.4" stroke="#ffffff" stroke-opacity="0.75" stroke-width="1"/>
<line x1="62.8" y1="0" x2="62.8" y2="109.4" stroke="#ffffff" stroke-opacity="0.75" stroke-width="1"/>
<line x1="75.9" y1="0" x2="75.9" y2="109.4" stroke="#ffffff" stroke-opacity="0.75" stroke-width="1"/>
<line x1="89" y1="0" x2="89" y2="109.4" stroke="#ffffff" stroke-opacity="0.75" stroke-width="1"/>
<line x1="102" y1="0" x2="102" y2="109.4" stroke="#ffffff" stroke-opacity="0.75" stroke-width="1"/>
<line x1="115.1" y1="0" x2="115.1" y2="109.4" stroke="#ffffff" stroke-opacity="0.75" stroke-width="1"/>
<line x1="128.1" y1="0" x2="128.1" y2="109.4" stroke="#ffffff" stroke-opacity="0.75" stroke-width="1"/>
<line x1="141.2" y1="0" x2="141.2" y2="109.4" stroke="#ffffff" stroke-opacity="0.75" stroke-width="1"/>
<line x1="154.3" y1="0" x2="154.3" y2="109.4" stroke="#ffffff" stroke-opacity="0.75" stroke-width="1"/>
<line x1="167.3" y1="0" x2="167.3" y2="109.4" stroke="#ffffff" stroke-opacity="0.75" stroke-width="1"/>
<line x1="180.4" y1="0" x2="180.4" y2="109.4" stroke="#ffffff" stroke-opacity="0.75" stroke-width="1"/>
<line x1="193.4" y1="0" x2="193.4" y2="109.4" stroke="#ffffff" stroke-opacity="0.75" stroke-width="1"/>
<line x1="206.5" y1="0" x2="206.5" y2="109.4" stroke="#ffffff" stroke-opacity="0.75" stroke-width="1"/>
<line x1="219.6" y1="0" x2="219.6" y2="109.4" stroke="#ffffff" stroke-opacity="0.75" stroke-width="1"/>
<line x1="232.6" y1="0" x2="232.6" y2="109.4" stroke="#ffffff" stroke-opacity="0.75" stroke-width="1"/>
<line x1="245.7" y1="0" x2="245.7" y2="109.4" stroke="#ffffff" stroke-opacity="0.75" stroke-width="1"/>
<line x1="258.7" y1="0" x2="258.7" y2="109.4" stroke="#ffffff" stroke-opacity="0.75" stroke-width="1"/>
<line x1="271.8" y1="0" x2="271.8" y2="109.4" stroke="#ffffff" stroke-opacity="0.75" stroke-width="1"/>
<line x1="284.9" y1="0" x2="284.9" y2="109.4" stroke="#ffffff" stroke-opacity="0.75" stroke-width="1"/>
<line x1="297.9" y1="0" x2="297.9" y2="109.4" stroke="#ffffff" stroke-opacity="0.75" stroke-width="1"/>
<line x1="311" y1="0" x2="311" y2="109.4" stroke="#ffffff" stroke-opacity="0.75" stroke-width="1"/>
<line x1="324" y1="0" x2="324" y2="109.4" stroke="#ffffff" stroke-opacity="0.75" stroke-width="1"/>
<line x1="337.1" y1="0" x2="337.1" y2="109.4" stroke="#ffffff" stroke-opacity="0.75" stroke-width="1"/>
<line x1="350.2" y1="0" x2="350.2" y2="109.4" stroke="#ffffff" stroke-opacity="0.75" stroke-width="1"/>
<line x1="363.2" y1="0" x2="363.2" y2="109.4" stroke="#ffffff" stroke-opacity="0.75" stroke-width="1"/>
<line x1="376.3" y1="0" x2="376.3" y2="109.4" stroke="#ffffff" stroke-opacity="0.75" stroke-width="1"/>
<line x1="389.3" y1="0" x2="389.3" y2="109.4" stroke="#ffffff" stroke-opacity="0.75" stroke-width="1"/>
<line x1="318.7" y1="0" x2="318.7" y2="109.4" stroke="#fbf53a" stroke-width="1.1"/>
</svg>
<line x1="487.2" y1="467.3" x2="487.2" y2="576.7" stroke="#bbb" stroke-width="0.8"/>
<line x1="90.7" y1="467.3" x2="90.7" y2="576.7" stroke="#9a9a9a" stroke-width="0.9"/>
<text x="88.6" y="469.7" font-size="6.8" fill="#777" text-anchor="end">100</text>
<text x="88.6" y="491.6" font-size="6.8" fill="#777" text-anchor="end">80</text>
<text x="88.6" y="513.5" font-size="6.8" fill="#777" text-anchor="end">60</text>
<text x="88.6" y="535.3" font-size="6.8" fill="#777" text-anchor="end">40</text>
<text x="88.6" y="557.2" font-size="6.8" fill="#777" text-anchor="end">20</text>
<text x="88.6" y="579.1" font-size="6.8" fill="#777" text-anchor="end">0</text>
<text x="90.9" y="585.4" font-size="7.2" fill="#707070" text-anchor="middle">Nov 15</text>
<text x="130.4" y="585.4" font-size="7.2" fill="#707070" text-anchor="middle">Nov 18</text>
<text x="170" y="585.4" font-size="7.2" fill="#707070" text-anchor="middle">Nov 21</text>
<text x="209.5" y="585.4" font-size="7.2" fill="#707070" text-anchor="middle">Nov 24</text>
<text x="249.1" y="585.4" font-size="7.2" fill="#707070" text-anchor="middle">Nov 27</text>
<text x="288.6" y="585.4" font-size="7.2" fill="#707070" text-anchor="middle">Nov 30</text>
<text x="328.1" y="585.4" font-size="7.2" fill="#707070" text-anchor="middle">Dec 03</text>
<text x="367.7" y="585.4" font-size="7.2" fill="#707070" text-anchor="middle">Dec 06</text>
<text x="407.2" y="585.4" font-size="7.2" fill="#707070" text-anchor="middle">Dec 09</text>
<text x="446.8" y="585.4" font-size="7.2" fill="#707070" text-anchor="middle">Dec 12</text>
<text x="486.3" y="585.4" font-size="7.2" fill="#707070" text-anchor="middle">Dec 15</text>
<rect x="494.8" y="467.2" width="9.7" height="21.9" fill="#0202ee"/>
<rect x="494.8" y="489.1" width="9.7" height="20.9" fill="#6666f8"/>
<rect x="494.8" y="510" width="9.7" height="19.7" fill="#959598"/>
<rect x="494.8" y="529.7" width="9.7" height="6.1" fill="#fdaa1a"/>
<rect x="494.8" y="535.8" width="9.7" height="41.2" fill="#ff6868"/>
<text x="528.8" y="474.4" font-size="7.8" fill="#444" text-anchor="end">20%</text>
<text x="528.8" y="496.1" font-size="7.8" fill="#444" text-anchor="end">19%</text>
<text x="528.8" y="565.4" font-size="7.8" fill="#444" text-anchor="end">38%</text>
<text x="528.8" y="575.1" font-size="7.8" fill="#444" text-anchor="end">0%</text>
<rect x="90.3" y="587.4" width="397" height="42.6" fill="#fff"/>
<line x1="130.4" y1="587.4" x2="130.4" y2="630" stroke="#e8e8e8" stroke-width="0.8"/>
<line x1="170" y1="587.4" x2="170" y2="630" stroke="#e8e8e8" stroke-width="0.8"/>
<line x1="209.5" y1="587.4" x2="209.5" y2="630" stroke="#e8e8e8" stroke-width="0.8"/>
<line x1="249.1" y1="587.4" x2="249.1" y2="630" stroke="#e8e8e8" stroke-width="0.8"/>
<line x1="288.6" y1="587.4" x2="288.6" y2="630" stroke="#e8e8e8" stroke-width="0.8"/>
<line x1="328.1" y1="587.4" x2="328.1" y2="630" stroke="#e8e8e8" stroke-width="0.8"/>
<line x1="367.7" y1="587.4" x2="367.7" y2="630" stroke="#e8e8e8" stroke-width="0.8"/>
<line x1="407.2" y1="587.4" x2="407.2" y2="630" stroke="#e8e8e8" stroke-width="0.8"/>
<line x1="446.8" y1="587.4" x2="446.8" y2="630" stroke="#e8e8e8" stroke-width="0.8"/>
<line x1="90.3" y1="590.9" x2="487.3" y2="590.9" stroke="#eee" stroke-width="0.8"/>
<svg x="90.3" y="587.4" width="397" height="42.6" overflow="hidden">
<polygon fill="#139c18" points="0,12.1 0.6,26.1 1.3,22.2 1.9,22.2 2.5,12.9 3.1,26.1 3.8,5.4 4.4,13.1 5,9.7 5.6,24 6.3,27.1 6.9,23.5 7.5,29.6 8.1,27.7 8.8,20.8 9.4,30 10,19.6 10.6,22.9 11.3,23.2 11.9,21.4 12.5,22.9 13.1,23.4 13.8,24.9 14.4,27.8 15,14.4 15.6,23 16.3,23.3 16.9,24.7 17.5,23.4 18.1,25.4 18.8,21.7 19.4,23.2 20,23.1 20.6,30.5 21.3,12.3 21.9,24.3 22.5,28.6 23.1,18.4 23.8,25.6 24.4,23.8 25,25.3 25.6,22.9 26.3,25.4 26.9,19.6 27.5,28.4 28.1,24.6 28.8,26.6 29.4,25.6 30,27.5 30.6,24.8 31.3,26.7 31.9,16.1 32.5,20.2 33.1,28.8 33.8,28 34.4,28.3 35,16.5 35.6,27 36.3,27.1 36.9,25.9 37.5,18.9 38.1,10.3 38.8,24.3 39.4,20.1 40,26.3 40.6,24.7 41.3,15.8 41.9,18.8 42.5,23 43.1,26.8 43.8,23.5 44.4,25.7 45,27.4 45.6,24.1 46.3,27 46.9,22.1 47.5,30.6 48.1,19.8 48.8,28.7 49.4,14.5 50,25.5 50.6,27.9 51.3,28.3 51.9,24.4 52.5,15.7 53.1,23.2 53.8,11.2 54.4,23.3 55,22 55.6,1.3 56.3,22.2 56.9,26.9 57.5,18.8 58.1,23.6 58.8,25.2 59.4,29.6 60,22.2 60.6,30.1 61.3,20.2 61.9,24.3 62.5,29.3 63.1,26.5 63.8,38.4 64.4,19.3 65,12.8 65.6,20.9 66.3,24.9 66.9,15.7 67.5,18.3 68.1,23.4 68.8,24.2 69.4,14.6 70,17.9 70.6,27.9 71.3,28.6 71.9,20.6 72.5,18.8 73.1,29.5 73.8,24.1 74.4,18.6 75,12.6 75.6,20.7 76.3,25.2 76.9,29 77.5,19.8 78.1,13.2 78.8,23.9 79.4,18.8 80,22.8 80.7,26.7 81.3,26.8 81.9,17.6 82.5,23.2 83.2,12.2 83.8,27.5 84.4,16.5 85,25.4 85.7,37.4 86.3,29.4 86.9,22.9 87.5,13.4 88.2,25.9 88.8,27.6 89.4,5.5 90,20.5 90.7,29.2 91.3,28 91.9,3.8 92.5,23.8 93.2,22.4 93.8,22.7 94.4,26.6 95,26.6 95.7,18.8 96.3,11.8 96.9,25.5 97.5,21.2 98.2,18.3 98.8,29.1 99.4,24.1 100,25.8 100.7,29.6 101.3,30.7 101.9,17 102.5,22.6 103.2,25.4 103.8,39 104.4,27.9 105,25.5 105.7,20.5 106.3,19.2 106.9,12.2 107.5,19.7 108.2,20.2 108.8,26.5 109.4,25.6 110,28.4 110.7,22.9 111.3,22.5 111.9,26.5 112.5,30.4 113.2,30.5 113.8,28.2 114.4,24.8 115,24.1 115.7,26.3 116.3,17.3 116.9,11.2 117.5,20.4 118.2,27.9 118.8,25.3 119.4,26.1 120,23.5 120.7,15.1 121.3,24.6 121.9,18.8 122.5,24.9 123.2,20.3 123.8,28.7 124.4,39.6 125,25.6 125.7,23.8 126.3,26.5 126.9,27.2 127.5,29.6 128.2,15.7 128.8,22.7 129.4,24.8 130,28.8 130.7,20.9 131.3,27.8 131.9,17.7 132.5,23 133.2,18.6 133.8,26.1 134.4,24 135,10.2 135.7,9.6 136.3,20.5 136.9,20.8 137.5,24 138.2,21.3 138.8,25.6 139.4,25.6 140,27.3 140.7,25.1 141.3,11.4 141.9,27.7 142.5,13.1 143.2,27.3 143.8,27.9 144.4,25.5 145,27.5 145.7,25.9 146.3,22.1 146.9,26.4 147.5,27.6 148.2,15.9 148.8,25.7 149.4,25.2 150,28.5 150.7,29.8 151.3,26.8 151.9,29.5 152.5,24.8 153.2,29.5 153.8,28 154.4,21.3 155,14.4 155.7,26.3 156.3,20.3 156.9,25.4 157.5,24 158.2,25.9 158.8,25.4 159.4,21.2 160.1,24.4 160.7,22.4 161.3,9 161.9,17.6 162.6,16.4 163.2,26.9 163.8,29.6 164.4,23.1 165.1,17.4 165.7,15.9 166.3,24.7 166.9,27.4 167.6,24.9 168.2,19.6 168.8,23.8 169.4,26 170.1,26.9 170.7,26 171.3,24.9 171.9,24 172.6,7.2 173.2,21.5 173.8,20.6 174.4,27.7 175.1,14 175.7,24.7 176.3,23.6 176.9,22.3 177.6,20.4 178.2,25.4 178.8,27.1 179.4,26.1 180.1,21.6 180.7,16.1 181.3,25.4 181.9,26.1 182.6,26.5 183.2,24.3 183.8,24.5 184.4,24.2 185.1,24.1 185.7,26 186.3,25.6 186.9,26 187.6,27.4 188.2,21.9 188.8,23.2 189.4,22.9 190.1,25.8 190.7,11.9 191.3,16.1 191.9,29.4 192.6,12 193.2,13 193.8,26.9 194.4,27.4 195.1,27.4 195.7,28.5 196.3,28.6 196.9,28.4 197.6,22.5 198.2,20.9 198.8,23.3 199.4,25.7 200.1,24.6 200.7,23.9 201.3,26.4 201.9,27.3 202.6,30.1 203.2,30.6 203.8,20.2 204.4,22.5 205.1,20.5 205.7,18.2 206.3,23 206.9,10.1 207.6,38.8 208.2,19.4 208.8,15.1 209.4,28.5 210.1,25.4 210.7,13.7 211.3,9 211.9,14.7 212.6,14.3 213.2,12.1 213.8,21.3 214.4,28.4 215.1,28 215.7,25.3 216.3,19.6 216.9,26.7 217.6,27.8 218.2,9.1 218.8,21.4 219.4,29.4 220.1,28.8 220.7,28.4 221.3,10.3 221.9,23.3 222.6,14.3 223.2,18.5 223.8,12.2 224.4,21.5 225.1,24.8 225.7,22.4 226.3,13.6 226.9,26.6 227.6,10.9 228.2,28.7 228.8,26.7 229.4,28.3 230.1,30 230.7,26.2 231.3,27.8 231.9,28 232.6,23.5 233.2,18 233.8,24.8 234.4,14.2 235.1,26 235.7,25.4 236.3,25.4 236.9,20.3 237.6,12.9 238.2,26.5 238.8,19.5 239.5,27.6 240.1,23.5 240.7,25.4 241.3,27.3 242,27.3 242.6,22.5 243.2,29.7 243.8,12.2 244.5,27.9 245.1,13.9 245.7,28.9 246.3,26.8 247,22.7 247.6,13.6 248.2,24.8 248.8,19 249.5,14.9 250.1,8.3 250.7,14.2 251.3,26.2 252,16.4 252.6,28 253.2,26 253.8,29.7 254.5,19.5 255.1,22.7 255.7,20.5 256.3,23.5 257,24.8 257.6,30 258.2,24.9 258.8,27.9 259.5,27 260.1,25.1 260.7,26 261.3,11.7 262,11.4 262.6,23.6 263.2,7.1 263.8,23.2 264.5,18.2 265.1,21 265.7,11 266.3,23.2 267,28.2 267.6,18.8 268.2,29.7 268.8,24.1 269.5,22.2 270.1,28.4 270.7,30 271.3,27.1 272,28.7 272.6,25.6 273.2,28.6 273.8,25.4 274.5,38.9 275.1,18.1 275.7,27.2 276.3,23.7 277,25.6 277.6,14.8 278.2,13.6 278.8,40 279.5,19.9 280.1,38.4 280.7,30 281.3,29.3 282,19.1 282.6,5.3 283.2,28.2 283.8,18.6 284.5,30.1 285.1,24 285.7,26.5 286.3,9 287,27.5 287.6,20.5 288.2,13.9 288.8,24.5 289.5,24.4 290.1,25.3 290.7,24.7 291.3,25.5 292,26.6 292.6,19.6 293.2,8.6 293.8,22.1 294.5,25.6 295.1,19.5 295.7,19.3 296.3,29.4 297,17.6 297.6,18.4 298.2,25.9 298.8,27.9 299.5,19.8 300.1,20.2 300.7,20.1 301.3,25.7 302,28.4 302.6,24.2 303.2,13.2 303.8,26.7 304.5,25.1 305.1,23.7 305.7,21.5 306.3,29.3 307,16.2 307.6,18.3 308.2,15.4 308.8,30.6 309.5,28.6 310.1,15.2 310.7,28.5 311.3,30.2 312,16.3 312.6,17.6 313.2,24.9 313.8,25.8 314.5,26.7 315.1,13.4 315.7,24.6 316.3,22.6 317,26.8 317.6,16.8 318.2,25.3 318.9,23.1 319.5,40.5 320.1,24.6 320.7,39.7 321.4,26.9 322,28.3 322.6,27.5 323.2,23.9 323.9,26.2 324.5,12 325.1,16.8 325.7,18.4 326.4,14.3 327,26.1 327.6,21 328.2,10.2 328.9,18.7 329.5,26.5 330.1,26.6 330.7,22.9 331.4,10.9 332,11.6 332.6,29.7 333.2,24.3 333.9,28.7 334.5,16.2 335.1,39.2 335.7,28.1 336.4,25.3 337,26.5 337.6,27.3 338.2,27 338.9,29 339.5,7.1 340.1,28.4 340.7,28.3 341.4,25.5 342,24.8 342.6,25.2 343.2,11.6 343.9,26.3 344.5,25.8 345.1,27.2 345.7,21.4 346.4,29.9 347,26.2 347.6,23.9 348.2,17.7 348.9,23 349.5,24.9 350.1,29.3 350.7,26.1 351.4,29.1 352,18.3 352.6,20.8 353.2,27.3 353.9,15.8 354.5,25 355.1,22.2 355.7,23.4 356.4,3.6 357,20.1 357.6,23.1 358.2,19 358.9,27.3 359.5,17.5 360.1,24.5 360.7,22.2 361.4,29.4 362,26.2 362.6,18.7 363.2,25.2 363.9,29.5 364.5,23.6 365.1,19.6 365.7,27.4 366.4,15.7 367,8.7 367.6,26.1 368.2,23 368.9,24.7 369.5,26.4 370.1,23.6 370.7,26.8 371.4,19.3 372,25.9 372.6,29.7 373.2,25.1 373.9,25 374.5,27.3 375.1,17.9 375.7,29.4 376.4,20.1 377,22.6 377.6,26.2 378.2,9.8 378.9,17.4 379.5,23.2 380.1,18.2 380.7,21.2 381.4,23.5 382,20.8 382.6,26.7 383.2,20.3 383.9,21 384.5,26.7 385.1,17.1 385.7,20.1 386.4,26.5 387,28 387.6,24.8 388.2,12.3 388.9,9.2 389.5,28.2 390.1,26.1 390.7,11.8 391.4,10.8 392,19.5 392.6,28.4 393.2,8.5 393.9,27.6 394.5,24.8 395.1,26.7 395.7,9.1 396.4,38.6 397,28.9 397,42.6 0,42.6"/>
<line x1="9.9" y1="30" x2="9.9" y2="27.1" stroke="#7ccf7c" stroke-width="0.7"/>
<line x1="11.8" y1="23.2" x2="11.8" y2="14.2" stroke="#7ccf7c" stroke-width="0.7"/>
<line x1="21.2" y1="30.5" x2="21.2" y2="27.2" stroke="#7ccf7c" stroke-width="0.7"/>
<line x1="24.9" y1="23.8" x2="24.9" y2="16.8" stroke="#7ccf7c" stroke-width="0.7"/>
<line x1="30.5" y1="27.5" x2="30.5" y2="22.5" stroke="#7ccf7c" stroke-width="0.7"/>
<line x1="36.2" y1="27" x2="36.2" y2="23" stroke="#7ccf7c" stroke-width="0.7"/>
<line x1="38.1" y1="18.9" x2="38.1" y2="16.2" stroke="#7ccf7c" stroke-width="0.7"/>
<line x1="41.6" y1="15.8" x2="41.6" y2="10.7" stroke="#7ccf7c" stroke-width="0.7"/>
<line x1="60" y1="22.2" x2="60" y2="13.2" stroke="#7ccf7c" stroke-width="0.7"/>
<line x1="67.9" y1="18.3" x2="67.9" y2="15" stroke="#7ccf7c" stroke-width="0.7"/>
<line x1="73.3" y1="29.5" x2="73.3" y2="21.2" stroke="#7ccf7c" stroke-width="0.7"/>
<line x1="75.6" y1="12.6" x2="75.6" y2="5.8" stroke="#7ccf7c" stroke-width="0.7"/>
<line x1="80.9" y1="26.7" x2="80.9" y2="23.2" stroke="#7ccf7c" stroke-width="0.7"/>
<line x1="99.6" y1="24.1" x2="99.6" y2="19.8" stroke="#7ccf7c" stroke-width="0.7"/>
<line x1="110.7" y1="22.9" x2="110.7" y2="20" stroke="#7ccf7c" stroke-width="0.7"/>
<line x1="112.9" y1="30.4" x2="112.9" y2="27" stroke="#7ccf7c" stroke-width="0.7"/>
<line x1="115" y1="24.8" x2="115" y2="16.8" stroke="#7ccf7c" stroke-width="0.7"/>
<line x1="122.5" y1="18.8" x2="122.5" y2="16.6" stroke="#7ccf7c" stroke-width="0.7"/>
<line x1="124.3" y1="28.7" x2="124.3" y2="23.6" stroke="#7ccf7c" stroke-width="0.7"/>
<line x1="133.2" y1="18.6" x2="133.2" y2="10.1" stroke="#7ccf7c" stroke-width="0.7"/>
<line x1="137.3" y1="20.8" x2="137.3" y2="11.7" stroke="#7ccf7c" stroke-width="0.7"/>
<line x1="138.8" y1="25.6" x2="138.8" y2="23" stroke="#7ccf7c" stroke-width="0.7"/>
<line x1="141" y1="25.1" x2="141" y2="19.6" stroke="#7ccf7c" stroke-width="0.7"/>
<line x1="144.8" y1="25.5" x2="144.8" y2="21.3" stroke="#7ccf7c" stroke-width="0.7"/>
<line x1="148.5" y1="15.9" x2="148.5" y2="7.4" stroke="#7ccf7c" stroke-width="0.7"/>
<line x1="154.3" y1="28" x2="154.3" y2="23" stroke="#7ccf7c" stroke-width="0.7"/>
<line x1="161.8" y1="9" x2="161.8" y2="1.3" stroke="#7ccf7c" stroke-width="0.7"/>
<line x1="165.1" y1="17.4" x2="165.1" y2="9.2" stroke="#7ccf7c" stroke-width="0.7"/>
<line x1="173.1" y1="7.2" x2="173.1" y2="3.8" stroke="#7ccf7c" stroke-width="0.7"/>
<line x1="174.7" y1="27.7" x2="174.7" y2="21.5" stroke="#7ccf7c" stroke-width="0.7"/>
<line x1="176.3" y1="23.6" x2="176.3" y2="20.7" stroke="#7ccf7c" stroke-width="0.7"/>
<line x1="178.3" y1="25.4" x2="178.3" y2="22.5" stroke="#7ccf7c" stroke-width="0.7"/>
<line x1="182.3" y1="26.1" x2="182.3" y2="24" stroke="#7ccf7c" stroke-width="0.7"/>
<line x1="187.9" y1="27.4" x2="187.9" y2="23" stroke="#7ccf7c" stroke-width="0.7"/>
<line x1="195.3" y1="27.4" x2="195.3" y2="19.6" stroke="#7ccf7c" stroke-width="0.7"/>
<line x1="203.2" y1="30.1" x2="203.2" y2="20.9" stroke="#7ccf7c" stroke-width="0.7"/>
<line x1="212.4" y1="14.7" x2="212.4" y2="12.4" stroke="#7ccf7c" stroke-width="0.7"/>
<line x1="219.7" y1="29.4" x2="219.7" y2="26.9" stroke="#7ccf7c" stroke-width="0.7"/>
<line x1="223.2" y1="18.5" x2="223.2" y2="11.1" stroke="#7ccf7c" stroke-width="0.7"/>
<line x1="228.9" y1="26.7" x2="228.9" y2="20.2" stroke="#7ccf7c" stroke-width="0.7"/>
<line x1="231" y1="26.2" x2="231" y2="23.9" stroke="#7ccf7c" stroke-width="0.7"/>
<line x1="235" y1="14.2" x2="235" y2="5.2" stroke="#7ccf7c" stroke-width="0.7"/>
<line x1="236.5" y1="25.4" x2="236.5" y2="21.7" stroke="#7ccf7c" stroke-width="0.7"/>
<line x1="247.8" y1="13.6" x2="247.8" y2="6.3" stroke="#7ccf7c" stroke-width="0.7"/>
<line x1="253.2" y1="26" x2="253.2" y2="20.3" stroke="#7ccf7c" stroke-width="0.7"/>
<line x1="255.5" y1="22.7" x2="255.5" y2="15.8" stroke="#7ccf7c" stroke-width="0.7"/>
<line x1="257.1" y1="24.8" x2="257.1" y2="19.7" stroke="#7ccf7c" stroke-width="0.7"/>
<line x1="261.1" y1="26" x2="261.1" y2="23.7" stroke="#7ccf7c" stroke-width="0.7"/>
<line x1="262.7" y1="23.6" x2="262.7" y2="18.2" stroke="#7ccf7c" stroke-width="0.7"/>
<line x1="264.7" y1="18.2" x2="264.7" y2="10.8" stroke="#7ccf7c" stroke-width="0.7"/>
<line x1="266.4" y1="23.2" x2="266.4" y2="17.4" stroke="#7ccf7c" stroke-width="0.7"/>
<line x1="268.8" y1="29.7" x2="268.8" y2="22.7" stroke="#7ccf7c" stroke-width="0.7"/>
<line x1="274.2" y1="25.4" x2="274.2" y2="18.6" stroke="#7ccf7c" stroke-width="0.7"/>
<line x1="278" y1="14.8" x2="278" y2="7.2" stroke="#7ccf7c" stroke-width="0.7"/>
<line x1="279.8" y1="19.9" x2="279.8" y2="10.7" stroke="#7ccf7c" stroke-width="0.7"/>
<line x1="281.7" y1="29.3" x2="281.7" y2="21.1" stroke="#7ccf7c" stroke-width="0.7"/>
<line x1="289.2" y1="24.5" x2="289.2" y2="17.8" stroke="#7ccf7c" stroke-width="0.7"/>
<line x1="292.9" y1="19.6" x2="292.9" y2="10.8" stroke="#7ccf7c" stroke-width="0.7"/>
<line x1="300.7" y1="20.2" x2="300.7" y2="15.4" stroke="#7ccf7c" stroke-width="0.7"/>
<line x1="302.4" y1="28.4" x2="302.4" y2="19.5" stroke="#7ccf7c" stroke-width="0.7"/>
<line x1="304.4" y1="26.7" x2="304.4" y2="20.4" stroke="#7ccf7c" stroke-width="0.7"/>
<line x1="317.4" y1="26.8" x2="317.4" y2="24.2" stroke="#7ccf7c" stroke-width="0.7"/>
<line x1="320.9" y1="39.7" x2="320.9" y2="31.3" stroke="#7ccf7c" stroke-width="0.7"/>
<line x1="330.7" y1="26.6" x2="330.7" y2="21.6" stroke="#7ccf7c" stroke-width="0.7"/>
<line x1="332.6" y1="11.6" x2="332.6" y2="3" stroke="#7ccf7c" stroke-width="0.7"/>
<line x1="342" y1="25.5" x2="342" y2="20.1" stroke="#7ccf7c" stroke-width="0.7"/>
<line x1="345.4" y1="27.2" x2="345.4" y2="18.3" stroke="#7ccf7c" stroke-width="0.7"/>
<line x1="352.9" y1="20.8" x2="352.9" y2="12.8" stroke="#7ccf7c" stroke-width="0.7"/>
<line x1="360.6" y1="24.5" x2="360.6" y2="17.5" stroke="#7ccf7c" stroke-width="0.7"/>
<line x1="362.4" y1="26.2" x2="362.4" y2="21.2" stroke="#7ccf7c" stroke-width="0.7"/>
<line x1="369.9" y1="26.4" x2="369.9" y2="22" stroke="#7ccf7c" stroke-width="0.7"/>
<line x1="371.5" y1="19.3" x2="371.5" y2="11.1" stroke="#7ccf7c" stroke-width="0.7"/>
<line x1="377.2" y1="22.6" x2="377.2" y2="19.3" stroke="#7ccf7c" stroke-width="0.7"/>
<line x1="379.2" y1="17.4" x2="379.2" y2="13.5" stroke="#7ccf7c" stroke-width="0.7"/>
<line x1="382.7" y1="26.7" x2="382.7" y2="22.7" stroke="#7ccf7c" stroke-width="0.7"/>
<line x1="384.8" y1="26.7" x2="384.8" y2="21.1" stroke="#7ccf7c" stroke-width="0.7"/>
<line x1="390.4" y1="26.1" x2="390.4" y2="21.8" stroke="#7ccf7c" stroke-width="0.7"/>
<line x1="396.2" y1="9.1" x2="396.2" y2="2.9" stroke="#7ccf7c" stroke-width="0.7"/>
<polygon fill="#5c5ce0" points="0,39.6 2,39.5 4,39.8 6,39.6 8,40.8 10,40.5 12,40.6 14,40.5 16,39.9 18,40.8 20,40.6 22,39.2 24,39.7 26,39.4 28,40.6 30,40.1 32,40.9 34,38.8 36,38.9 38,40.4 40,40.2 42,38.8 44,39.8 46,40.1 48,39.8 50,40.8 52,40.5 54,40.6 56,40.9 58,40.3 60,40.6 62,39.9 64,40.1 66,40 68,39.5 70,39.9 72,40.5 74,40.7 76,40.4 78,38.7 80,40.7 82,38.7 84,39 86,40.2 88,40.1 90,39.6 92,40.3 94,39.8 96,40.8 98,41 100,40.5 102,39.8 104,39.5 106,38.5 108,38.6 110,39.9 112,39 114,39 116,39.4 118,40.9 120,40.8 122,40 124,40.3 126,39.9 128,39.7 130,39.6 132,40.1 134,39.7 136,41 138,39.4 140,39.8 142,40.8 144,40.1 146,40.7 148,39.1 150,39.8 152,39.6 154,41 156,40 158,40.6 160,40.4 162,39.2 164,40.8 166,40.2 168,40.1 170,39.5 172,39.5 174,39.8 176,41 178,40.5 180,40 182,40.4 184,40.4 186,37.9 188,40 190,40.2 192,40 194,39.4 196,40.3 198,40.4 200,40.1 202,40.1 204,40.6 206,39.9 208,40.6 210,38.5 212,39.5 214,39.7 216,40.1 218,40.4 220,40.6 222,39 224,38.7 226,40.6 228,40 230,40 232,40.1 234,39 236,39.7 238,40.9 240,39.6 242,40.8 244,40.1 246,39.6 248,39.5 250,40.3 252,38.7 254,39.8 256,38.3 258,37.8 260,40.3 262,40.5 264,38.9 266,39.7 268,40.1 270,40.6 272,40.4 274,39.6 276,39.1 278,40.1 280,40.9 282,40.1 284,40.9 286,40.7 288,40.3 290,40.5 292,39.5 294,39.4 296,40 298,39.1 300,39.7 302,39.9 304,40.3 306,39.3 308,40.1 310,40.8 312,39 314,40.6 316,39.2 318,39.2 320,40.1 322,40.4 324,40.6 326,40.5 328,40.3 330,40.8 332,40.8 334,40.7 336,38.1 338,39.4 340,40 342,40 344,40.4 346,40 348,40.8 350,39.2 352,39.6 354,37.6 356,40.8 358,39.5 360,39.8 362,39.4 364,40.6 366,38.4 368,39.6 370,39.7 372,40.5 374,40 376,40.3 378,39.9 380,39.5 382,40 384,39.2 386,39.7 388,40.8 390,40.9 392,39.9 394,39.2 396,40.9 398,39.7 397,42.6 0,42.6"/>
<line x1="318.8" y1="0" x2="318.8" y2="42.6" stroke="#fff" stroke-width="1"/>
</svg>
<rect x="90.3" y="587.4" width="397" height="42.6" fill="none" stroke="#5a5a5a" stroke-width="1.3"/>
<polyline fill="none" stroke="#f5ec1a" stroke-width="2.8" stroke-linejoin="round" points="93.8,564.7 106.9,564.7 120,539 133.1,506.7 146.1,480.4 159.2,512.7 172.3,507.2 185.4,558.1 198.5,558.1 211.6,493 224.7,525.8 237.8,532.3 250.8,519.8 263.9,546.1 277,532.3 290.1,525.8 303.2,519.8 316.3,532.3 329.4,512.7 342.4,493 355.5,485.9 368.6,525.8 381.7,532.3 394.8,546.1 407.9,525.8 421,512.7 434.1,512.7 447.1,512.7 460.2,558.1 473.3,571.2 486.4,571.2"/>
<circle cx="93.8" cy="564.7" r="4.6" fill="#ffff14" stroke="#8f9a2a" stroke-width="0.9"/>
<circle cx="106.9" cy="564.7" r="4.6" fill="#ffff14" stroke="#8f9a2a" stroke-width="0.9"/>
<circle cx="120" cy="539" r="4.6" fill="#ffff14" stroke="#8f9a2a" stroke-width="0.9"/>
<circle cx="133.1" cy="506.7" r="4.6" fill="#ffff14" stroke="#8f9a2a" stroke-width="0.9"/>
<circle cx="146.1" cy="480.4" r="4.6" fill="#ffff14" stroke="#8f9a2a" stroke-width="0.9"/>
<circle cx="159.2" cy="512.7" r="4.6" fill="#ffff14" stroke="#8f9a2a" stroke-width="0.9"/>
<circle cx="172.3" cy="507.2" r="4.6" fill="#ffff14" stroke="#8f9a2a" stroke-width="0.9"/>
<circle cx="185.4" cy="558.1" r="4.6" fill="#ffff14" stroke="#8f9a2a" stroke-width="0.9"/>
<circle cx="198.5" cy="558.1" r="4.6" fill="#ffff14" stroke="#8f9a2a" stroke-width="0.9"/>
<circle cx="211.6" cy="493" r="4.6" fill="#ffff14" stroke="#8f9a2a" stroke-width="0.9"/>
<circle cx="224.7" cy="525.8" r="4.6" fill="#ffff14" stroke="#8f9a2a" stroke-width="0.9"/>
<circle cx="237.8" cy="532.3" r="4.6" fill="#ffff14" stroke="#8f9a2a" stroke-width="0.9"/>
<circle cx="250.8" cy="519.8" r="4.6" fill="#ffff14" stroke="#8f9a2a" stroke-width="0.9"/>
<circle cx="263.9" cy="546.1" r="4.6" fill="#ffff14" stroke="#8f9a2a" stroke-width="0.9"/>
<circle cx="277" cy="532.3" r="4.6" fill="#ffff14" stroke="#8f9a2a" stroke-width="0.9"/>
<circle cx="290.1" cy="525.8" r="4.6" fill="#ffff14" stroke="#8f9a2a" stroke-width="0.9"/>
<circle cx="303.2" cy="519.8" r="4.6" fill="#ffff14" stroke="#8f9a2a" stroke-width="0.9"/>
<circle cx="316.3" cy="532.3" r="4.6" fill="#ffff14" stroke="#8f9a2a" stroke-width="0.9"/>
<circle cx="329.4" cy="512.7" r="4.6" fill="#ffff14" stroke="#8f9a2a" stroke-width="0.9"/>
<circle cx="342.4" cy="493" r="4.6" fill="#ffff14" stroke="#8f9a2a" stroke-width="0.9"/>
<circle cx="355.5" cy="485.9" r="4.6" fill="#ffff14" stroke="#8f9a2a" stroke-width="0.9"/>
<circle cx="368.6" cy="525.8" r="4.6" fill="#ffff14" stroke="#8f9a2a" stroke-width="0.9"/>
<circle cx="381.7" cy="532.3" r="4.6" fill="#ffff14" stroke="#8f9a2a" stroke-width="0.9"/>
<circle cx="394.8" cy="546.1" r="4.6" fill="#ffff14" stroke="#8f9a2a" stroke-width="0.9"/>
<circle cx="407.9" cy="525.8" r="4.6" fill="#ffff14" stroke="#8f9a2a" stroke-width="0.9"/>
<circle cx="421" cy="512.7" r="4.6" fill="#ffff14" stroke="#8f9a2a" stroke-width="0.9"/>
<circle cx="434.1" cy="512.7" r="4.6" fill="#ffff14" stroke="#8f9a2a" stroke-width="0.9"/>
<circle cx="447.1" cy="512.7" r="4.6" fill="#ffff14" stroke="#8f9a2a" stroke-width="0.9"/>
<circle cx="460.2" cy="558.1" r="4.6" fill="#ffff14" stroke="#8f9a2a" stroke-width="0.9"/>
<circle cx="473.3" cy="571.2" r="4.6" fill="#ffff14" stroke="#8f9a2a" stroke-width="0.9"/>
<circle cx="486.4" cy="571.2" r="4.6" fill="#ffff14" stroke="#8f9a2a" stroke-width="0.9"/>
<g font-size="21.30" fill="#000"><text x="666.87" y="205.70" transform="scale(0.8706,1)">C</text><text x="577.86" y="205.70" transform="scale(1.0271,1)">o</text><text x="603.04" y="205.70" transform="scale(1.0049,1)">n</text><text x="641.35" y="205.70" transform="scale(0.9638,1)">v</text><text x="638.41" y="205.70" transform="scale(0.9846,1)">e</text><text x="582.10" y="205.70" transform="scale(1.0999,1)">r</text><text x="757.42" y="205.70" transform="scale(0.8560,1)">s</text><text x="555.92" y="205.70" transform="scale(1.1823,1)">i</text><text x="645.33" y="205.70" transform="scale(1.0271,1)">o</text><text x="672.00" y="205.70" transform="scale(1.0049,1)">n</text><text x="788.53" y="205.70" transform="scale(0.8782,1)">R</text><text x="830.41" y="205.70" transform="scale(0.8492,1)">a</text><text x="606.20" y="205.70" transform="scale(1.1823,1)">t</text><text x="735.59" y="205.70" transform="scale(0.9846,1)">e</text></g>
<text x="570.71 581.29 586.45 597.06 607.57" y="253.60" font-size="19.60" fill="#000" transform="scale(1.1163,1)" style="font-variant-ligatures:none;font-kerning:none">4,248</text>
<rect x="585.3" y="260.5" width="108.6" height="2.4" fill="#000"/>
<text x="551.91 562.75 568.15 579.33 590.18 601.17 606.90 617.57 628.62" y="285.40" font-size="20.00" fill="#000" transform="scale(1.0784,1)" style="font-variant-ligatures:none;font-kerning:none">1,812,906</text>
<rect x="713.1" y="262.1" width="9.6" height="1.3" fill="#000"/><rect x="713.1" y="267" width="9.6" height="1.3" fill="#000"/>
<text x="691.07 702.11 707.81 718.94 728.86" y="271.50" font-size="19.30" font-weight="bold" fill="#000" transform="scale(1.0718,1)" style="font-variant-ligatures:none;font-kerning:none">0.23%</text>
<rect x="763.3" y="355.6" width="113.8" height="55" fill="#ffff00"/>
<text x="836.41 857.93 877.77 896.81" y="397.50" font-size="35.20" font-weight="bold" fill="#7a7a00" transform="scale(0.9377,1)" style="font-variant-ligatures:none;font-kerning:none" opacity="0.55">+92%</text>
<text x="835.34 856.87 876.70 895.74" y="396.50" font-size="35.20" font-weight="bold" fill="#000" transform="scale(0.9377,1)" style="font-variant-ligatures:none;font-kerning:none">+92%</text>
<rect x="771.3" y="296.8" width="2.6" height="178" fill="#4a78c0"/>
<polygon points="767.6,473.5 777.6,473.5 772.6,482.6" fill="#4a78c0"/>
<g font-size="16.70" fill="#000"><text x="657.75" y="445.10" transform="scale(0.8522,1)">S</text><text x="541.88" y="445.10" transform="scale(1.0515,1)">u</text><text x="551.80" y="445.10" transform="scale(1.0510,1)">b</text><text x="476.31" y="445.10" transform="scale(1.2386,1)">t</text><text x="518.00" y="445.10" transform="scale(1.1509,1)">r</text><text x="678.23" y="445.10" transform="scale(0.8886,1)">a</text><text x="616.88" y="445.10" transform="scale(0.9917,1)">c</text><text x="500.67" y="445.10" transform="scale(1.2386,1)">t</text><text x="607.88" y="445.10" transform="scale(1.0302,1)">e</text><text x="604.84" y="445.10" transform="scale(1.0510,1)">d</text><text x="618.69" y="445.10" transform="scale(1.0510,1)">b</text><text x="614.15" y="445.10" transform="scale(1.0747,1)">o</text><text x="541.17" y="445.10" transform="scale(1.2386,1)">t</text><text x="755.24" y="445.10" transform="scale(0.8957,1)">s</text><text x="817.33" y="445.10" transform="scale(0.8424,1)">(</text><text x="603.01" y="445.10" transform="scale(1.1509,1)">r</text><text x="680.01" y="445.10" transform="scale(1.0302,1)">e</text><text x="675.54" y="445.10" transform="scale(1.0510,1)">d</text><text x="855.57" y="445.10" transform="scale(0.8424,1)">)</text><text x="586.91" y="445.10" transform="scale(1.2358,1)">,</text></g>
<g font-size="16.70" fill="#000"><text x="631.94" y="467.20" transform="scale(0.8877,1)">a</text><text x="542.94" y="467.20" transform="scale(1.0504,1)">n</text><text x="552.53" y="467.20" transform="scale(1.0500,1)">d</text><text x="565.97" y="467.20" transform="scale(1.0504,1)">u</text><text x="575.60" y="467.20" transform="scale(1.0504,1)">n</text><text x="579.08" y="467.20" transform="scale(1.0616,1)">m</text><text x="611.81" y="467.20" transform="scale(1.0291,1)">e</text><text x="719.94" y="467.20" transform="scale(0.8877,1)">a</text><text x="724.53" y="467.20" transform="scale(0.8948,1)">s</text><text x="624.28" y="467.20" transform="scale(1.0504,1)">u</text><text x="579.07" y="467.20" transform="scale(1.1497,1)">r</text><text x="653.28" y="467.20" transform="scale(1.0291,1)">e</text><text x="649.36" y="467.20" transform="scale(1.0500,1)">d</text><text x="827.78" y="467.20" transform="scale(0.8414,1)">(</text><text x="656.68" y="467.20" transform="scale(1.0694,1)">w</text><text x="679.77" y="467.20" transform="scale(1.0528,1)">h</text><text x="581.56" y="467.20" transform="scale(1.2473,1)">i</text><text x="590.08" y="467.20" transform="scale(1.2373,1)">t</text><text x="715.38" y="467.20" transform="scale(1.0291,1)">e</text><text x="888.28" y="467.20" transform="scale(0.8403,1)">)</text></g>
<text x="568.12 578.75 583.94 594.61 605.17" y="509.40" font-size="19.70" fill="#000" transform="scale(1.1214,1)" style="font-variant-ligatures:none;font-kerning:none">4,248</text>
<rect x="585" y="516.3" width="109" height="2.5" fill="#000"/>
<text x="550.78 561.28 571.99 582.71 588.16 598.93 609.68" y="540.70" font-size="19.40" fill="#000" transform="scale(1.1128,1)" style="font-variant-ligatures:none;font-kerning:none">942,711</text>
<rect x="713.1" y="518" width="9.6" height="1.3" fill="#000"/><rect x="713.1" y="523" width="9.6" height="1.3" fill="#000"/>
<text x="696.63 707.74 713.29 724.23 734.75" y="527.40" font-size="19.30" font-weight="bold" fill="#000" transform="scale(1.0633,1)" style="font-variant-ligatures:none;font-kerning:none">0.45%</text>
<rect x="0" y="681" width="945" height="41.5" fill="#006666"/>
<rect x="0" y="681" width="945" height="1" fill="#0b5a5a"/>
<g font-size="15.50" font-weight="bold" fill="#fff"><text x="45.84" y="710.20" transform="scale(0.9971,1)">f</text><text x="53.46" y="710.20" transform="scale(0.9540,1)">o</text><text x="63.78" y="710.20" transform="scale(0.9406,1)">u</text><text x="81.04" y="710.20" transform="scale(0.8520,1)">a</text><text x="82.16" y="710.20" transform="scale(0.9406,1)">n</text><text x="101.24" y="710.20" transform="scale(0.8520,1)">a</text><text x="98.33" y="710.20" transform="scale(0.9603,1)">l</text><text x="106.09" y="710.20" transform="scale(0.9278,1)">y</text><text x="100.18" y="710.20" transform="scale(1.0635,1)">t</text><text x="99.09" y="710.20" transform="scale(1.1288,1)">i</text><text x="133.91" y="710.20" transform="scale(0.8675,1)">c</text><text x="149.45" y="710.20" transform="scale(0.8239,1)">s</text><text x="121.39" y="710.20" transform="scale(1.0702,1)">.</text><text x="154.79" y="710.20" transform="scale(0.8675,1)">c</text><text x="148.23" y="710.20" transform="scale(0.9540,1)">o</text><text x="155.44" y="710.20" transform="scale(0.9687,1)">m</text></g>
<g font-size="26.70" font-weight="bold" fill="#fff"><text x="402.40" y="709.70" transform="scale(0.9665,1)">m</text><text x="484.73" y="709.70" transform="scale(0.8500,1)">a</text><text x="435.17" y="709.70" transform="scale(0.9787,1)">r</text><text x="469.31" y="709.70" transform="scale(0.9288,1)">k</text><text x="465.12" y="709.70" transform="scale(0.9670,1)">e</text><text x="437.65" y="709.70" transform="scale(1.0610,1)">t</text><text x="420.38" y="709.70" transform="scale(1.1262,1)">i</text><text x="512.73" y="709.70" transform="scale(0.9385,1)">n</text><text x="529.37" y="709.70" transform="scale(0.9370,1)">g</text><text x="477.45" y="709.70" transform="scale(1.0678,1)">.</text><text x="629.18" y="709.70" transform="scale(0.8220,1)">s</text><text x="610.78" y="709.70" transform="scale(0.8655,1)">c</text><text x="479.68" y="709.70" transform="scale(1.1262,1)">i</text><text x="566.51" y="709.70" transform="scale(0.9670,1)">e</text><text x="599.20" y="709.70" transform="scale(0.9385,1)">n</text><text x="666.96" y="709.70" transform="scale(0.8655,1)">c</text><text x="609.54" y="709.70" transform="scale(0.9670,1)">e</text></g>
<text x="475.54 480.02 485.40 490.30 494.67 500.07 502.74 505.96 508.42 513.60 518.48 520.58 525.48 528.98 534.31 539.72 545.12 547.61 549.86 552.32 557.33 561.94" y="719.70" font-size="8.80" font-weight="bold" fill="#fff" transform="scale(1.0779,1)" style="font-variant-ligatures:none;font-kerning:none">consulting group, inc.</text>
<g font-size="14.60" font-weight="bold" fill="#fff"><text x="908.16" y="709.80" transform="scale(0.8363,1)">J</text><text x="763.29" y="709.80" transform="scale(1.0030,1)">u</text><text x="772.23" y="709.80" transform="scale(1.0030,1)">n</text><text x="757.94" y="709.80" transform="scale(1.0336,1)">e</text><text x="772.89" y="709.80" transform="scale(1.0294,1)">2</text><text x="742.06" y="709.80" transform="scale(1.0831,1)">0</text><text x="789.21" y="709.80" transform="scale(1.0294,1)">2</text><text x="757.56" y="709.80" transform="scale(1.0831,1)">0</text><text x="670.18" y="709.80" transform="scale(1.2443,1)">/</text><text x="900.94" y="709.80" transform="scale(0.9364,1)">P</text><text x="938.46" y="709.80" transform="scale(0.9085,1)">a</text><text x="859.20" y="709.80" transform="scale(1.0015,1)">g</text><text x="840.31" y="709.80" transform="scale(1.0336,1)">e</text><text x="870.41" y="709.80" transform="scale(1.0121,1)">3</text><text x="878.70" y="709.80" transform="scale(1.0121,1)">3</text></g>
</svg></body></html>
